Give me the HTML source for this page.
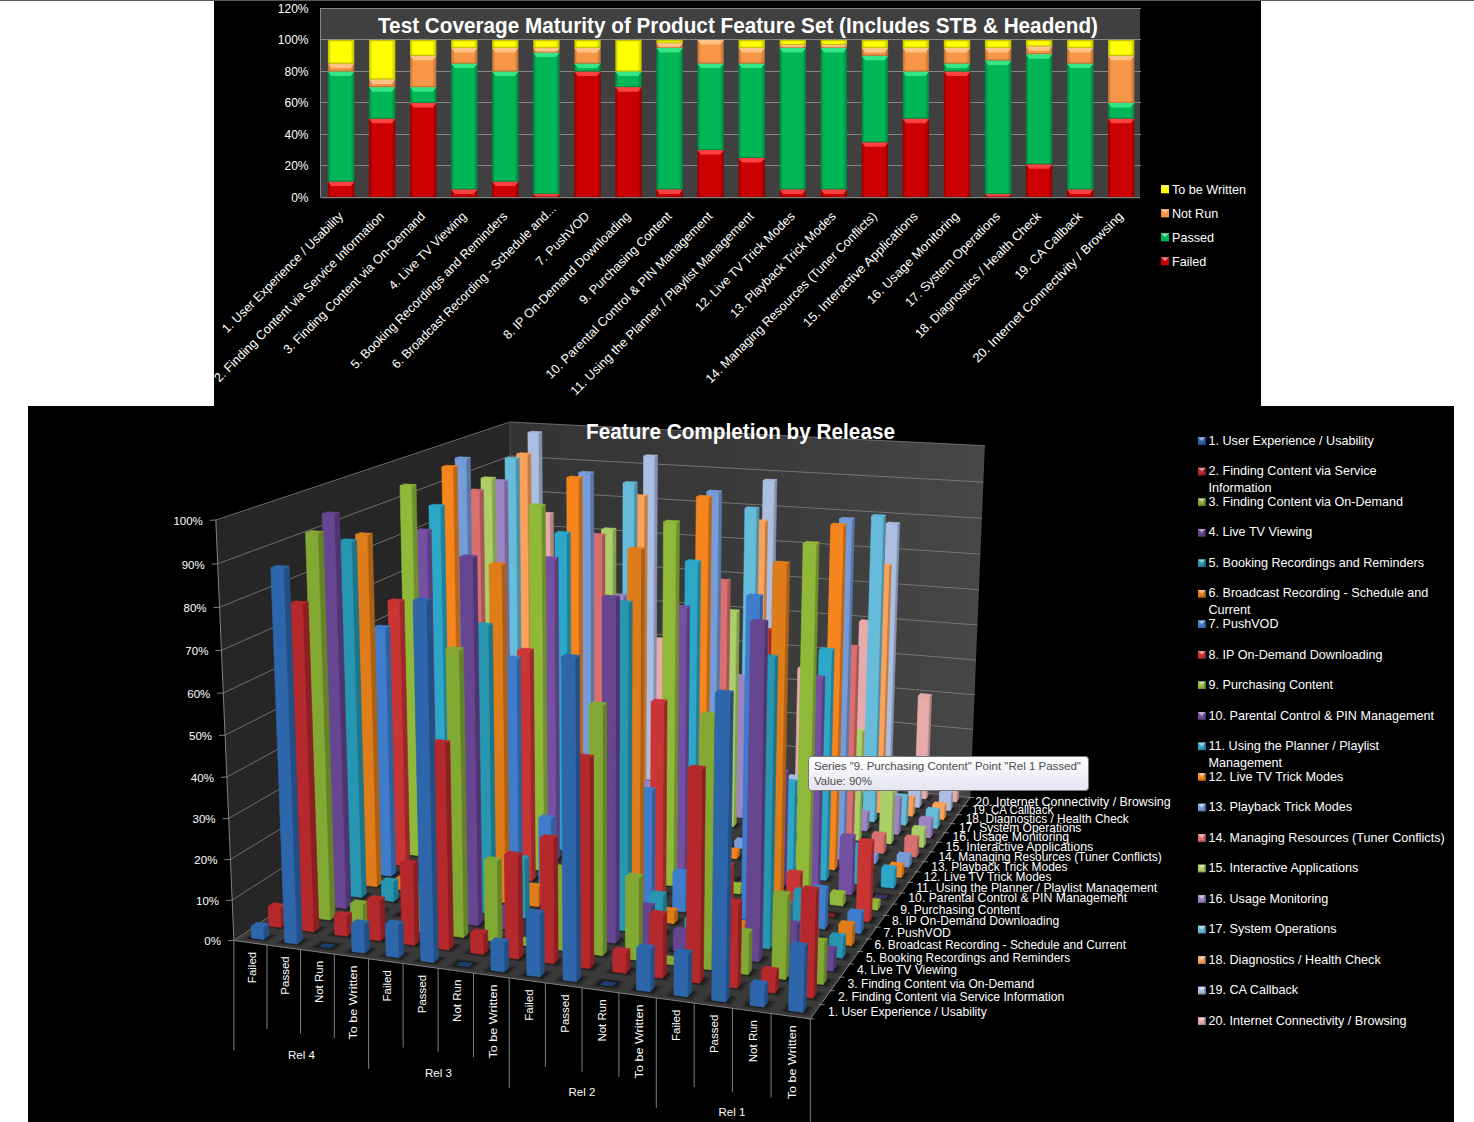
<!DOCTYPE html><html><head><meta charset="utf-8"><title>Charts</title>
<style>html,body{margin:0;padding:0;background:#fff;}body{width:1474px;height:1122px;overflow:hidden;}svg{display:block;}text{white-space:pre;}</style></head><body>
<svg width="1474" height="1122" viewBox="0 0 1474 1122">
<defs>
<linearGradient id="tg0" x1="0" x2="1" y1="0" y2="0"><stop offset="0" stop-color="#930000"/><stop offset="0.12" stop-color="#cc0000"/><stop offset="0.85" stop-color="#cc0000"/><stop offset="1" stop-color="#930000"/></linearGradient>
<linearGradient id="tg1" x1="0" x2="1" y1="0" y2="0"><stop offset="0" stop-color="#00833f"/><stop offset="0.12" stop-color="#00b657"/><stop offset="0.85" stop-color="#00b657"/><stop offset="1" stop-color="#00833f"/></linearGradient>
<linearGradient id="tg2" x1="0" x2="1" y1="0" y2="0"><stop offset="0" stop-color="#b26c32"/><stop offset="0.12" stop-color="#f79646"/><stop offset="0.85" stop-color="#f79646"/><stop offset="1" stop-color="#b26c32"/></linearGradient>
<linearGradient id="tg3" x1="0" x2="1" y1="0" y2="0"><stop offset="0" stop-color="#b8b800"/><stop offset="0.12" stop-color="#ffff00"/><stop offset="0.85" stop-color="#ffff00"/><stop offset="1" stop-color="#b8b800"/></linearGradient>
<linearGradient id="bwg" x1="0" x2="1" y1="0" y2="0"><stop offset="0" stop-color="#343434"/><stop offset="0.55" stop-color="#3b3b3b"/><stop offset="1" stop-color="#474747"/></linearGradient>
<linearGradient id="ttg" x1="0" x2="0" y1="0" y2="1"><stop offset="0" stop-color="#ffffff"/><stop offset="1" stop-color="#e4e5f0"/></linearGradient>
<filter id="blur" x="-5%" y="-5%" width="110%" height="110%"><feGaussianBlur stdDeviation="1.6"/></filter>
</defs>
<rect x="0" y="0" width="1474" height="1122" fill="#fff"/>
<rect x="214" y="0" width="1047" height="406" fill="#000"/>
<rect x="320.5" y="8.0" width="819.5" height="189.2" fill="#404040"/>
<line x1="320.5" x2="320.5" y1="8.0" y2="197.2" stroke="#868686" stroke-width="1"/>
<line x1="320.5" x2="1141.0" y1="165.5" y2="165.5" stroke="#868686" stroke-width="1"/>
<line x1="320.5" x2="1141.0" y1="134.5" y2="134.5" stroke="#868686" stroke-width="1"/>
<line x1="320.5" x2="1141.0" y1="102.5" y2="102.5" stroke="#868686" stroke-width="1"/>
<line x1="320.5" x2="1141.0" y1="71.5" y2="71.5" stroke="#868686" stroke-width="1"/>
<line x1="320.5" x2="1141.0" y1="39.5" y2="39.5" stroke="#868686" stroke-width="1"/>
<line x1="320.5" x2="1141.0" y1="8.5" y2="8.5" stroke="#868686" stroke-width="1"/>
<text x="738" y="33" font-family='"Liberation Sans", sans-serif' font-weight="bold" font-size="21.5" fill="#fff" text-anchor="middle" textLength="720" lengthAdjust="spacingAndGlyphs">Test Coverage Maturity of Product Feature Set (Includes STB &amp; Headend)</text>
<text x="308.5" y="201.5" font-family='"Liberation Sans", sans-serif' font-size="12" fill="#fff" text-anchor="end">0%</text>
<text x="308.5" y="170.1" font-family='"Liberation Sans", sans-serif' font-size="12" fill="#fff" text-anchor="end">20%</text>
<text x="308.5" y="138.6" font-family='"Liberation Sans", sans-serif' font-size="12" fill="#fff" text-anchor="end">40%</text>
<text x="308.5" y="107.1" font-family='"Liberation Sans", sans-serif' font-size="12" fill="#fff" text-anchor="end">60%</text>
<text x="308.5" y="75.7" font-family='"Liberation Sans", sans-serif' font-size="12" fill="#fff" text-anchor="end">80%</text>
<text x="308.5" y="44.2" font-family='"Liberation Sans", sans-serif' font-size="12" fill="#fff" text-anchor="end">100%</text>
<text x="308.5" y="12.8" font-family='"Liberation Sans", sans-serif' font-size="12" fill="#fff" text-anchor="end">120%</text>
<rect x="327.9" y="181.5" width="26.4" height="15.7" fill="url(#tg0)"/>
<polygon points="327.9,181.5 354.3,181.5 350.8,186.1 331.4,186.1" fill="#ff4646" opacity="0.92"/>
<rect x="327.9" y="196.2" width="26.4" height="1" fill="#8f0000" opacity="0.7"/>
<rect x="327.9" y="71.4" width="26.4" height="110.1" fill="url(#tg1)"/>
<polygon points="327.9,71.4 354.3,71.4 350.8,76 331.4,76" fill="#38ec8a" opacity="0.92"/>
<rect x="327.9" y="180.5" width="26.4" height="1" fill="#007f3d" opacity="0.7"/>
<rect x="327.9" y="63.5" width="26.4" height="7.9" fill="url(#tg2)"/>
<polygon points="327.9,63.5 354.3,63.5 350.8,68.1 331.4,68.1" fill="#ffc88c" opacity="0.92"/>
<rect x="327.9" y="70.4" width="26.4" height="1" fill="#ad6931" opacity="0.7"/>
<rect x="327.9" y="39.9" width="26.4" height="23.6" fill="url(#tg3)"/>
<polygon points="327.9,39.9 354.3,39.9 353,41.2 329.2,41.2" fill="#c4bc00" opacity="0.92"/>
<rect x="327.9" y="62.5" width="26.4" height="1" fill="#b2b200" opacity="0.7"/>
<rect x="369" y="118.6" width="26.4" height="78.6" fill="url(#tg0)"/>
<polygon points="369,118.6 395.4,118.6 391.9,123.2 372.5,123.2" fill="#ff4646" opacity="0.92"/>
<rect x="369" y="196.2" width="26.4" height="1" fill="#8f0000" opacity="0.7"/>
<rect x="369" y="87.1" width="26.4" height="31.5" fill="url(#tg1)"/>
<polygon points="369,87.1 395.4,87.1 391.9,91.7 372.5,91.7" fill="#38ec8a" opacity="0.92"/>
<rect x="369" y="117.6" width="26.4" height="1" fill="#007f3d" opacity="0.7"/>
<rect x="369" y="79.3" width="26.4" height="7.9" fill="url(#tg2)"/>
<polygon points="369,79.3 395.4,79.3 391.9,83.9 372.5,83.9" fill="#ffc88c" opacity="0.92"/>
<rect x="369" y="86.1" width="26.4" height="1" fill="#ad6931" opacity="0.7"/>
<rect x="369" y="39.9" width="26.4" height="39.3" fill="url(#tg3)"/>
<polygon points="369,39.9 395.4,39.9 394.1,41.2 370.3,41.2" fill="#c4bc00" opacity="0.92"/>
<rect x="369" y="78.3" width="26.4" height="1" fill="#b2b200" opacity="0.7"/>
<rect x="410" y="102.8" width="26.4" height="94.3" fill="url(#tg0)"/>
<polygon points="410,102.8 436.4,102.8 432.9,107.4 413.5,107.4" fill="#ff4646" opacity="0.92"/>
<rect x="410" y="196.2" width="26.4" height="1" fill="#8f0000" opacity="0.7"/>
<rect x="410" y="87.1" width="26.4" height="15.7" fill="url(#tg1)"/>
<polygon points="410,87.1 436.4,87.1 432.9,91.7 413.5,91.7" fill="#38ec8a" opacity="0.92"/>
<rect x="410" y="101.8" width="26.4" height="1" fill="#007f3d" opacity="0.7"/>
<rect x="410" y="55.7" width="26.4" height="31.5" fill="url(#tg2)"/>
<polygon points="410,55.7 436.4,55.7 432.9,60.3 413.5,60.3" fill="#ffc88c" opacity="0.92"/>
<rect x="410" y="86.1" width="26.4" height="1" fill="#ad6931" opacity="0.7"/>
<rect x="410" y="39.9" width="26.4" height="15.7" fill="url(#tg3)"/>
<polygon points="410,39.9 436.4,39.9 435.1,41.2 411.3,41.2" fill="#c4bc00" opacity="0.92"/>
<rect x="410" y="54.7" width="26.4" height="1" fill="#b2b200" opacity="0.7"/>
<rect x="451.1" y="189.3" width="26.4" height="7.9" fill="url(#tg0)"/>
<polygon points="451.1,189.3 477.5,189.3 474,193.9 454.6,193.9" fill="#ff4646" opacity="0.92"/>
<rect x="451.1" y="196.2" width="26.4" height="1" fill="#8f0000" opacity="0.7"/>
<rect x="451.1" y="63.5" width="26.4" height="125.8" fill="url(#tg1)"/>
<polygon points="451.1,63.5 477.5,63.5 474,68.1 454.6,68.1" fill="#38ec8a" opacity="0.92"/>
<rect x="451.1" y="188.3" width="26.4" height="1" fill="#007f3d" opacity="0.7"/>
<rect x="451.1" y="47.8" width="26.4" height="15.7" fill="url(#tg2)"/>
<polygon points="451.1,47.8 477.5,47.8 474,52.4 454.6,52.4" fill="#ffc88c" opacity="0.92"/>
<rect x="451.1" y="62.5" width="26.4" height="1" fill="#ad6931" opacity="0.7"/>
<rect x="451.1" y="39.9" width="26.4" height="7.9" fill="url(#tg3)"/>
<polygon points="451.1,39.9 477.5,39.9 476.2,41.2 452.4,41.2" fill="#c4bc00" opacity="0.92"/>
<rect x="451.1" y="46.8" width="26.4" height="1" fill="#b2b200" opacity="0.7"/>
<rect x="492.1" y="181.5" width="26.4" height="15.7" fill="url(#tg0)"/>
<polygon points="492.1,181.5 518.5,181.5 515,186.1 495.6,186.1" fill="#ff4646" opacity="0.92"/>
<rect x="492.1" y="196.2" width="26.4" height="1" fill="#8f0000" opacity="0.7"/>
<rect x="492.1" y="71.4" width="26.4" height="110.1" fill="url(#tg1)"/>
<polygon points="492.1,71.4 518.5,71.4 515,76 495.6,76" fill="#38ec8a" opacity="0.92"/>
<rect x="492.1" y="180.5" width="26.4" height="1" fill="#007f3d" opacity="0.7"/>
<rect x="492.1" y="47.8" width="26.4" height="23.6" fill="url(#tg2)"/>
<polygon points="492.1,47.8 518.5,47.8 515,52.4 495.6,52.4" fill="#ffc88c" opacity="0.92"/>
<rect x="492.1" y="70.4" width="26.4" height="1" fill="#ad6931" opacity="0.7"/>
<rect x="492.1" y="39.9" width="26.4" height="7.9" fill="url(#tg3)"/>
<polygon points="492.1,39.9 518.5,39.9 517.2,41.2 493.4,41.2" fill="#c4bc00" opacity="0.92"/>
<rect x="492.1" y="46.8" width="26.4" height="1" fill="#b2b200" opacity="0.7"/>
<rect x="533.2" y="194.1" width="26.4" height="3.1" fill="url(#tg0)"/>
<polygon points="533.2,194.1 559.6,194.1 556.5,197.2 536.3,197.2" fill="#ff4646" opacity="0.92"/>
<rect x="533.2" y="196.2" width="26.4" height="1" fill="#8f0000" opacity="0.7"/>
<rect x="533.2" y="52.5" width="26.4" height="141.5" fill="url(#tg1)"/>
<polygon points="533.2,52.5 559.6,52.5 556.1,57.1 536.7,57.1" fill="#38ec8a" opacity="0.92"/>
<rect x="533.2" y="193.1" width="26.4" height="1" fill="#007f3d" opacity="0.7"/>
<rect x="533.2" y="47.8" width="26.4" height="4.7" fill="url(#tg2)"/>
<polygon points="533.2,47.8 559.6,47.8 556.1,52.4 536.7,52.4" fill="#ffc88c" opacity="0.92"/>
<rect x="533.2" y="51.5" width="26.4" height="1" fill="#ad6931" opacity="0.7"/>
<rect x="533.2" y="39.9" width="26.4" height="7.9" fill="url(#tg3)"/>
<polygon points="533.2,39.9 559.6,39.9 558.3,41.2 534.5,41.2" fill="#c4bc00" opacity="0.92"/>
<rect x="533.2" y="46.8" width="26.4" height="1" fill="#b2b200" opacity="0.7"/>
<rect x="574.3" y="71.4" width="26.4" height="125.8" fill="url(#tg0)"/>
<polygon points="574.3,71.4 600.7,71.4 597.2,76 577.8,76" fill="#ff4646" opacity="0.92"/>
<rect x="574.3" y="196.2" width="26.4" height="1" fill="#8f0000" opacity="0.7"/>
<rect x="574.3" y="63.5" width="26.4" height="7.9" fill="url(#tg1)"/>
<polygon points="574.3,63.5 600.7,63.5 597.2,68.1 577.8,68.1" fill="#38ec8a" opacity="0.92"/>
<rect x="574.3" y="70.4" width="26.4" height="1" fill="#007f3d" opacity="0.7"/>
<rect x="574.3" y="47.8" width="26.4" height="15.7" fill="url(#tg2)"/>
<polygon points="574.3,47.8 600.7,47.8 597.2,52.4 577.8,52.4" fill="#ffc88c" opacity="0.92"/>
<rect x="574.3" y="62.5" width="26.4" height="1" fill="#ad6931" opacity="0.7"/>
<rect x="574.3" y="39.9" width="26.4" height="7.9" fill="url(#tg3)"/>
<polygon points="574.3,39.9 600.7,39.9 599.4,41.2 575.6,41.2" fill="#c4bc00" opacity="0.92"/>
<rect x="574.3" y="46.8" width="26.4" height="1" fill="#b2b200" opacity="0.7"/>
<rect x="615.3" y="87.1" width="26.4" height="110.1" fill="url(#tg0)"/>
<polygon points="615.3,87.1 641.7,87.1 638.2,91.7 618.8,91.7" fill="#ff4646" opacity="0.92"/>
<rect x="615.3" y="196.2" width="26.4" height="1" fill="#8f0000" opacity="0.7"/>
<rect x="615.3" y="71.4" width="26.4" height="15.7" fill="url(#tg1)"/>
<polygon points="615.3,71.4 641.7,71.4 638.2,76 618.8,76" fill="#38ec8a" opacity="0.92"/>
<rect x="615.3" y="86.1" width="26.4" height="1" fill="#007f3d" opacity="0.7"/>
<rect x="615.3" y="39.9" width="26.4" height="31.5" fill="url(#tg3)"/>
<polygon points="615.3,39.9 641.7,39.9 640.4,41.2 616.6,41.2" fill="#c4bc00" opacity="0.92"/>
<rect x="615.3" y="70.4" width="26.4" height="1" fill="#b2b200" opacity="0.7"/>
<rect x="656.4" y="189.3" width="26.4" height="7.9" fill="url(#tg0)"/>
<polygon points="656.4,189.3 682.8,189.3 679.3,193.9 659.9,193.9" fill="#ff4646" opacity="0.92"/>
<rect x="656.4" y="196.2" width="26.4" height="1" fill="#8f0000" opacity="0.7"/>
<rect x="656.4" y="47.8" width="26.4" height="141.5" fill="url(#tg1)"/>
<polygon points="656.4,47.8 682.8,47.8 679.3,52.4 659.9,52.4" fill="#38ec8a" opacity="0.92"/>
<rect x="656.4" y="188.3" width="26.4" height="1" fill="#007f3d" opacity="0.7"/>
<rect x="656.4" y="43.1" width="26.4" height="4.7" fill="url(#tg2)"/>
<polygon points="656.4,43.1 682.8,43.1 679.3,47.7 659.9,47.7" fill="#ffc88c" opacity="0.92"/>
<rect x="656.4" y="46.8" width="26.4" height="1" fill="#ad6931" opacity="0.7"/>
<rect x="656.4" y="39.9" width="26.4" height="3.1" fill="url(#tg3)"/>
<polygon points="656.4,39.9 682.8,39.9 681.5,41.2 657.7,41.2" fill="#c4bc00" opacity="0.92"/>
<rect x="656.4" y="42.1" width="26.4" height="1" fill="#b2b200" opacity="0.7"/>
<rect x="697.4" y="150" width="26.4" height="47.2" fill="url(#tg0)"/>
<polygon points="697.4,150 723.8,150 720.3,154.6 700.9,154.6" fill="#ff4646" opacity="0.92"/>
<rect x="697.4" y="196.2" width="26.4" height="1" fill="#8f0000" opacity="0.7"/>
<rect x="697.4" y="63.5" width="26.4" height="86.5" fill="url(#tg1)"/>
<polygon points="697.4,63.5 723.8,63.5 720.3,68.1 700.9,68.1" fill="#38ec8a" opacity="0.92"/>
<rect x="697.4" y="149" width="26.4" height="1" fill="#007f3d" opacity="0.7"/>
<rect x="697.4" y="39.9" width="26.4" height="23.6" fill="url(#tg2)"/>
<polygon points="697.4,39.9 723.8,39.9 720.3,44.5 700.9,44.5" fill="#ffc88c" opacity="0.92"/>
<rect x="697.4" y="62.5" width="26.4" height="1" fill="#ad6931" opacity="0.7"/>
<rect x="738.5" y="157.9" width="26.4" height="39.3" fill="url(#tg0)"/>
<polygon points="738.5,157.9 764.9,157.9 761.4,162.5 742,162.5" fill="#ff4646" opacity="0.92"/>
<rect x="738.5" y="196.2" width="26.4" height="1" fill="#8f0000" opacity="0.7"/>
<rect x="738.5" y="63.5" width="26.4" height="94.3" fill="url(#tg1)"/>
<polygon points="738.5,63.5 764.9,63.5 761.4,68.1 742,68.1" fill="#38ec8a" opacity="0.92"/>
<rect x="738.5" y="156.9" width="26.4" height="1" fill="#007f3d" opacity="0.7"/>
<rect x="738.5" y="47.8" width="26.4" height="15.7" fill="url(#tg2)"/>
<polygon points="738.5,47.8 764.9,47.8 761.4,52.4 742,52.4" fill="#ffc88c" opacity="0.92"/>
<rect x="738.5" y="62.5" width="26.4" height="1" fill="#ad6931" opacity="0.7"/>
<rect x="738.5" y="39.9" width="26.4" height="7.9" fill="url(#tg3)"/>
<polygon points="738.5,39.9 764.9,39.9 763.6,41.2 739.8,41.2" fill="#c4bc00" opacity="0.92"/>
<rect x="738.5" y="46.8" width="26.4" height="1" fill="#b2b200" opacity="0.7"/>
<rect x="779.6" y="189.3" width="26.4" height="7.9" fill="url(#tg0)"/>
<polygon points="779.6,189.3 806,189.3 802.5,193.9 783.1,193.9" fill="#ff4646" opacity="0.92"/>
<rect x="779.6" y="196.2" width="26.4" height="1" fill="#8f0000" opacity="0.7"/>
<rect x="779.6" y="47.8" width="26.4" height="141.5" fill="url(#tg1)"/>
<polygon points="779.6,47.8 806,47.8 802.5,52.4 783.1,52.4" fill="#38ec8a" opacity="0.92"/>
<rect x="779.6" y="188.3" width="26.4" height="1" fill="#007f3d" opacity="0.7"/>
<rect x="779.6" y="44.7" width="26.4" height="3.1" fill="url(#tg2)"/>
<polygon points="779.6,44.7 806,44.7 802.8,47.8 782.7,47.8" fill="#ffc88c" opacity="0.92"/>
<rect x="779.6" y="46.8" width="26.4" height="1" fill="#ad6931" opacity="0.7"/>
<rect x="779.6" y="39.9" width="26.4" height="4.7" fill="url(#tg3)"/>
<polygon points="779.6,39.9 806,39.9 804.7,41.2 780.9,41.2" fill="#c4bc00" opacity="0.92"/>
<rect x="779.6" y="43.7" width="26.4" height="1" fill="#b2b200" opacity="0.7"/>
<rect x="820.6" y="189.3" width="26.4" height="7.9" fill="url(#tg0)"/>
<polygon points="820.6,189.3 847,189.3 843.5,193.9 824.1,193.9" fill="#ff4646" opacity="0.92"/>
<rect x="820.6" y="196.2" width="26.4" height="1" fill="#8f0000" opacity="0.7"/>
<rect x="820.6" y="47.8" width="26.4" height="141.5" fill="url(#tg1)"/>
<polygon points="820.6,47.8 847,47.8 843.5,52.4 824.1,52.4" fill="#38ec8a" opacity="0.92"/>
<rect x="820.6" y="188.3" width="26.4" height="1" fill="#007f3d" opacity="0.7"/>
<rect x="820.6" y="44.7" width="26.4" height="3.1" fill="url(#tg2)"/>
<polygon points="820.6,44.7 847,44.7 843.9,47.8 823.8,47.8" fill="#ffc88c" opacity="0.92"/>
<rect x="820.6" y="46.8" width="26.4" height="1" fill="#ad6931" opacity="0.7"/>
<rect x="820.6" y="39.9" width="26.4" height="4.7" fill="url(#tg3)"/>
<polygon points="820.6,39.9 847,39.9 845.7,41.2 821.9,41.2" fill="#c4bc00" opacity="0.92"/>
<rect x="820.6" y="43.7" width="26.4" height="1" fill="#b2b200" opacity="0.7"/>
<rect x="861.7" y="142.2" width="26.4" height="55" fill="url(#tg0)"/>
<polygon points="861.7,142.2 888.1,142.2 884.6,146.8 865.2,146.8" fill="#ff4646" opacity="0.92"/>
<rect x="861.7" y="196.2" width="26.4" height="1" fill="#8f0000" opacity="0.7"/>
<rect x="861.7" y="55.7" width="26.4" height="86.5" fill="url(#tg1)"/>
<polygon points="861.7,55.7 888.1,55.7 884.6,60.3 865.2,60.3" fill="#38ec8a" opacity="0.92"/>
<rect x="861.7" y="141.2" width="26.4" height="1" fill="#007f3d" opacity="0.7"/>
<rect x="861.7" y="47.8" width="26.4" height="7.9" fill="url(#tg2)"/>
<polygon points="861.7,47.8 888.1,47.8 884.6,52.4 865.2,52.4" fill="#ffc88c" opacity="0.92"/>
<rect x="861.7" y="54.7" width="26.4" height="1" fill="#ad6931" opacity="0.7"/>
<rect x="861.7" y="39.9" width="26.4" height="7.9" fill="url(#tg3)"/>
<polygon points="861.7,39.9 888.1,39.9 886.8,41.2 863,41.2" fill="#c4bc00" opacity="0.92"/>
<rect x="861.7" y="46.8" width="26.4" height="1" fill="#b2b200" opacity="0.7"/>
<rect x="902.7" y="118.6" width="26.4" height="78.6" fill="url(#tg0)"/>
<polygon points="902.7,118.6 929.1,118.6 925.6,123.2 906.2,123.2" fill="#ff4646" opacity="0.92"/>
<rect x="902.7" y="196.2" width="26.4" height="1" fill="#8f0000" opacity="0.7"/>
<rect x="902.7" y="71.4" width="26.4" height="47.2" fill="url(#tg1)"/>
<polygon points="902.7,71.4 929.1,71.4 925.6,76 906.2,76" fill="#38ec8a" opacity="0.92"/>
<rect x="902.7" y="117.6" width="26.4" height="1" fill="#007f3d" opacity="0.7"/>
<rect x="902.7" y="47.8" width="26.4" height="23.6" fill="url(#tg2)"/>
<polygon points="902.7,47.8 929.1,47.8 925.6,52.4 906.2,52.4" fill="#ffc88c" opacity="0.92"/>
<rect x="902.7" y="70.4" width="26.4" height="1" fill="#ad6931" opacity="0.7"/>
<rect x="902.7" y="39.9" width="26.4" height="7.9" fill="url(#tg3)"/>
<polygon points="902.7,39.9 929.1,39.9 927.8,41.2 904,41.2" fill="#c4bc00" opacity="0.92"/>
<rect x="902.7" y="46.8" width="26.4" height="1" fill="#b2b200" opacity="0.7"/>
<rect x="943.8" y="71.4" width="26.4" height="125.8" fill="url(#tg0)"/>
<polygon points="943.8,71.4 970.2,71.4 966.7,76 947.3,76" fill="#ff4646" opacity="0.92"/>
<rect x="943.8" y="196.2" width="26.4" height="1" fill="#8f0000" opacity="0.7"/>
<rect x="943.8" y="63.5" width="26.4" height="7.9" fill="url(#tg1)"/>
<polygon points="943.8,63.5 970.2,63.5 966.7,68.1 947.3,68.1" fill="#38ec8a" opacity="0.92"/>
<rect x="943.8" y="70.4" width="26.4" height="1" fill="#007f3d" opacity="0.7"/>
<rect x="943.8" y="47.8" width="26.4" height="15.7" fill="url(#tg2)"/>
<polygon points="943.8,47.8 970.2,47.8 966.7,52.4 947.3,52.4" fill="#ffc88c" opacity="0.92"/>
<rect x="943.8" y="62.5" width="26.4" height="1" fill="#ad6931" opacity="0.7"/>
<rect x="943.8" y="39.9" width="26.4" height="7.9" fill="url(#tg3)"/>
<polygon points="943.8,39.9 970.2,39.9 968.9,41.2 945.1,41.2" fill="#c4bc00" opacity="0.92"/>
<rect x="943.8" y="46.8" width="26.4" height="1" fill="#b2b200" opacity="0.7"/>
<rect x="984.9" y="194.1" width="26.4" height="3.1" fill="url(#tg0)"/>
<polygon points="984.9,194.1 1011.3,194.1 1008.1,197.2 988,197.2" fill="#ff4646" opacity="0.92"/>
<rect x="984.9" y="196.2" width="26.4" height="1" fill="#8f0000" opacity="0.7"/>
<rect x="984.9" y="60.4" width="26.4" height="133.7" fill="url(#tg1)"/>
<polygon points="984.9,60.4 1011.3,60.4 1007.8,65 988.4,65" fill="#38ec8a" opacity="0.92"/>
<rect x="984.9" y="193.1" width="26.4" height="1" fill="#007f3d" opacity="0.7"/>
<rect x="984.9" y="47.8" width="26.4" height="12.6" fill="url(#tg2)"/>
<polygon points="984.9,47.8 1011.3,47.8 1007.8,52.4 988.4,52.4" fill="#ffc88c" opacity="0.92"/>
<rect x="984.9" y="59.4" width="26.4" height="1" fill="#ad6931" opacity="0.7"/>
<rect x="984.9" y="39.9" width="26.4" height="7.9" fill="url(#tg3)"/>
<polygon points="984.9,39.9 1011.3,39.9 1010,41.2 986.2,41.2" fill="#c4bc00" opacity="0.92"/>
<rect x="984.9" y="46.8" width="26.4" height="1" fill="#b2b200" opacity="0.7"/>
<rect x="1025.9" y="164.2" width="26.4" height="33" fill="url(#tg0)"/>
<polygon points="1025.9,164.2 1052.3,164.2 1048.8,168.8 1029.4,168.8" fill="#ff4646" opacity="0.92"/>
<rect x="1025.9" y="196.2" width="26.4" height="1" fill="#8f0000" opacity="0.7"/>
<rect x="1025.9" y="54.1" width="26.4" height="110.1" fill="url(#tg1)"/>
<polygon points="1025.9,54.1 1052.3,54.1 1048.8,58.7 1029.4,58.7" fill="#38ec8a" opacity="0.92"/>
<rect x="1025.9" y="163.2" width="26.4" height="1" fill="#007f3d" opacity="0.7"/>
<rect x="1025.9" y="46.2" width="26.4" height="7.9" fill="url(#tg2)"/>
<polygon points="1025.9,46.2 1052.3,46.2 1048.8,50.8 1029.4,50.8" fill="#ffc88c" opacity="0.92"/>
<rect x="1025.9" y="53.1" width="26.4" height="1" fill="#ad6931" opacity="0.7"/>
<rect x="1025.9" y="39.9" width="26.4" height="6.3" fill="url(#tg3)"/>
<polygon points="1025.9,39.9 1052.3,39.9 1051,41.2 1027.2,41.2" fill="#c4bc00" opacity="0.92"/>
<rect x="1025.9" y="45.2" width="26.4" height="1" fill="#b2b200" opacity="0.7"/>
<rect x="1067" y="189.3" width="26.4" height="7.9" fill="url(#tg0)"/>
<polygon points="1067,189.3 1093.4,189.3 1089.9,193.9 1070.5,193.9" fill="#ff4646" opacity="0.92"/>
<rect x="1067" y="196.2" width="26.4" height="1" fill="#8f0000" opacity="0.7"/>
<rect x="1067" y="63.5" width="26.4" height="125.8" fill="url(#tg1)"/>
<polygon points="1067,63.5 1093.4,63.5 1089.9,68.1 1070.5,68.1" fill="#38ec8a" opacity="0.92"/>
<rect x="1067" y="188.3" width="26.4" height="1" fill="#007f3d" opacity="0.7"/>
<rect x="1067" y="47.8" width="26.4" height="15.7" fill="url(#tg2)"/>
<polygon points="1067,47.8 1093.4,47.8 1089.9,52.4 1070.5,52.4" fill="#ffc88c" opacity="0.92"/>
<rect x="1067" y="62.5" width="26.4" height="1" fill="#ad6931" opacity="0.7"/>
<rect x="1067" y="39.9" width="26.4" height="7.9" fill="url(#tg3)"/>
<polygon points="1067,39.9 1093.4,39.9 1092.1,41.2 1068.3,41.2" fill="#c4bc00" opacity="0.92"/>
<rect x="1067" y="46.8" width="26.4" height="1" fill="#b2b200" opacity="0.7"/>
<rect x="1108" y="118.6" width="26.4" height="78.6" fill="url(#tg0)"/>
<polygon points="1108,118.6 1134.4,118.6 1130.9,123.2 1111.5,123.2" fill="#ff4646" opacity="0.92"/>
<rect x="1108" y="196.2" width="26.4" height="1" fill="#8f0000" opacity="0.7"/>
<rect x="1108" y="102.8" width="26.4" height="15.7" fill="url(#tg1)"/>
<polygon points="1108,102.8 1134.4,102.8 1130.9,107.4 1111.5,107.4" fill="#38ec8a" opacity="0.92"/>
<rect x="1108" y="117.6" width="26.4" height="1" fill="#007f3d" opacity="0.7"/>
<rect x="1108" y="55.7" width="26.4" height="47.2" fill="url(#tg2)"/>
<polygon points="1108,55.7 1134.4,55.7 1130.9,60.3 1111.5,60.3" fill="#ffc88c" opacity="0.92"/>
<rect x="1108" y="101.8" width="26.4" height="1" fill="#ad6931" opacity="0.7"/>
<rect x="1108" y="39.9" width="26.4" height="15.7" fill="url(#tg3)"/>
<polygon points="1108,39.9 1134.4,39.9 1133.1,41.2 1109.3,41.2" fill="#c4bc00" opacity="0.92"/>
<rect x="1108" y="54.7" width="26.4" height="1" fill="#b2b200" opacity="0.7"/>
<line x1="320.5" x2="1140.0" y1="197.7" y2="197.7" stroke="#9a9a9a" stroke-width="1"/>
<text transform="translate(343.9,217) rotate(-45)" font-family='"Liberation Sans", sans-serif' font-size="12.6" fill="#fff" text-anchor="end">1. User Experience / Usability</text>
<text transform="translate(385,217) rotate(-45)" font-family='"Liberation Sans", sans-serif' font-size="12.6" fill="#fff" text-anchor="end">2. Finding Content via Service Information</text>
<text transform="translate(426,217) rotate(-45)" font-family='"Liberation Sans", sans-serif' font-size="12.6" fill="#fff" text-anchor="end">3. Finding Content via On-Demand</text>
<text transform="translate(467.1,217) rotate(-45)" font-family='"Liberation Sans", sans-serif' font-size="12.6" fill="#fff" text-anchor="end">4. Live TV Viewing</text>
<text transform="translate(508.1,217) rotate(-45)" font-family='"Liberation Sans", sans-serif' font-size="12.6" fill="#fff" text-anchor="end">5. Booking Recordings and Reminders</text>
<text transform="translate(556.7,209.5) rotate(-45)" font-family='"Liberation Sans", sans-serif' font-size="12.6" fill="#fff" text-anchor="end" textLength="225.9" lengthAdjust="spacingAndGlyphs">6. Broadcast Recording - Schedule and...</text>
<text transform="translate(590.3,217) rotate(-45)" font-family='"Liberation Sans", sans-serif' font-size="12.6" fill="#fff" text-anchor="end">7. PushVOD</text>
<text transform="translate(631.3,217) rotate(-45)" font-family='"Liberation Sans", sans-serif' font-size="12.6" fill="#fff" text-anchor="end">8. IP On-Demand Downloading</text>
<text transform="translate(672.4,217) rotate(-45)" font-family='"Liberation Sans", sans-serif' font-size="12.6" fill="#fff" text-anchor="end">9. Purchasing Content</text>
<text transform="translate(713.4,217) rotate(-45)" font-family='"Liberation Sans", sans-serif' font-size="12.6" fill="#fff" text-anchor="end" textLength="229.9" lengthAdjust="spacingAndGlyphs">10. Parental Control &amp; PIN Management</text>
<text transform="translate(754.5,217) rotate(-45)" font-family='"Liberation Sans", sans-serif' font-size="12.6" fill="#fff" text-anchor="end" textLength="253.0" lengthAdjust="spacingAndGlyphs">11. Using the Planner / Playlist Management</text>
<text transform="translate(795.6,217) rotate(-45)" font-family='"Liberation Sans", sans-serif' font-size="12.6" fill="#fff" text-anchor="end">12. Live TV Trick Modes</text>
<text transform="translate(836.6,217) rotate(-45)" font-family='"Liberation Sans", sans-serif' font-size="12.6" fill="#fff" text-anchor="end">13. Playback Trick Modes</text>
<text transform="translate(877.7,217) rotate(-45)" font-family='"Liberation Sans", sans-serif' font-size="12.6" fill="#fff" text-anchor="end">14. Managing Resources (Tuner Conflicts)</text>
<text transform="translate(918.7,217) rotate(-45)" font-family='"Liberation Sans", sans-serif' font-size="12.6" fill="#fff" text-anchor="end" textLength="156.5" lengthAdjust="spacingAndGlyphs">15. Interactive Applications</text>
<text transform="translate(959.8,217) rotate(-45)" font-family='"Liberation Sans", sans-serif' font-size="12.6" fill="#fff" text-anchor="end" textLength="124.2" lengthAdjust="spacingAndGlyphs">16. Usage Monitoring</text>
<text transform="translate(1000.9,217) rotate(-45)" font-family='"Liberation Sans", sans-serif' font-size="12.6" fill="#fff" text-anchor="end">17. System Operations</text>
<text transform="translate(1041.9,217) rotate(-45)" font-family='"Liberation Sans", sans-serif' font-size="12.6" fill="#fff" text-anchor="end">18. Diagnostics / Health Check</text>
<text transform="translate(1083,217) rotate(-45)" font-family='"Liberation Sans", sans-serif' font-size="12.6" fill="#fff" text-anchor="end">19. CA Callback</text>
<text transform="translate(1124,217) rotate(-45)" font-family='"Liberation Sans", sans-serif' font-size="12.6" fill="#fff" text-anchor="end" textLength="207.0" lengthAdjust="spacingAndGlyphs">20. Internet Connectivity / Browsing</text>
<rect x="1161" y="185.3" width="8" height="8" fill="#ffff00"/>
<polygon points="1161,185.3 1169,185.3 1165,189.3" fill="#ffff80"/>
<text x="1172" y="193.8" font-family='"Liberation Sans", sans-serif' font-size="12.6" fill="#fff">To be Written</text>
<rect x="1161" y="209.3" width="8" height="8" fill="#f79646"/>
<polygon points="1161,209.3 1169,209.3 1165,213.3" fill="#fbcaa2"/>
<text x="1172" y="217.8" font-family='"Liberation Sans", sans-serif' font-size="12.6" fill="#fff">Not Run</text>
<rect x="1161" y="233.3" width="8" height="8" fill="#00b657"/>
<polygon points="1161,233.3 1169,233.3 1165,237.3" fill="#80daab"/>
<text x="1172" y="241.8" font-family='"Liberation Sans", sans-serif' font-size="12.6" fill="#fff">Passed</text>
<rect x="1161" y="257.3" width="8" height="8" fill="#cc0000"/>
<polygon points="1161,257.3 1169,257.3 1165,261.3" fill="#e68080"/>
<text x="1172" y="265.8" font-family='"Liberation Sans", sans-serif' font-size="12.6" fill="#fff">Failed</text>
<rect x="28" y="406" width="1426" height="716" fill="#000"/>
<polygon points="233.9,940.5 513,751.4 509.8,422 215.8,520" fill="#262626"/>
<polygon points="513,751.4 970.3,797.5 984.9,445.7 509.8,422" fill="url(#bwg)"/>
<polygon points="233.9,940.5 810.3,1018.9 970.3,797.5 513,751.4" fill="#3b3b3b"/>
<polyline points="233.9,940.5 513,751.4 970.3,797.5" fill="none" stroke="#858585" stroke-width="0.75"/>
<polyline points="232.1,900.2 512.7,719.5 971.8,763.6" fill="none" stroke="#858585" stroke-width="0.75"/>
<polyline points="230.4,859.5 512.4,687.4 973.2,729.3" fill="none" stroke="#858585" stroke-width="0.75"/>
<polyline points="228.6,818.5 512.1,655.1 974.6,694.8" fill="none" stroke="#858585" stroke-width="0.75"/>
<polyline points="226.9,777 511.8,622.5 976,660" fill="none" stroke="#858585" stroke-width="0.75"/>
<polyline points="225.1,735.2 511.4,589.7 977.5,625" fill="none" stroke="#858585" stroke-width="0.75"/>
<polyline points="223.3,693 511.1,556.6 978.9,589.7" fill="none" stroke="#858585" stroke-width="0.75"/>
<polyline points="221.4,650.3 510.8,523.3 980.4,554.1" fill="none" stroke="#858585" stroke-width="0.75"/>
<polyline points="219.6,607.3 510.4,489.8 981.9,518.3" fill="none" stroke="#858585" stroke-width="0.75"/>
<polyline points="217.7,563.8 510.1,456 983.4,482.1" fill="none" stroke="#858585" stroke-width="0.75"/>
<polyline points="215.8,520 509.8,422 984.9,445.7" fill="none" stroke="#858585" stroke-width="0.75"/>
<polyline points="233.9,940.5 215.8,520" fill="none" stroke="#8c8c8c" stroke-width="0.9"/>
<polyline points="513,751.4 509.8,422" fill="none" stroke="#555" stroke-width="0.9"/>
<line x1="227.9" x2="233.9" y1="940.8" y2="940.5" stroke="#8c8c8c" stroke-width="0.9"/>
<text x="220.9" y="945.2" font-family='"Liberation Sans", sans-serif' font-size="11.5" fill="#fff" text-anchor="end">0%</text>
<line x1="226.1" x2="232.1" y1="900.5" y2="900.2" stroke="#8c8c8c" stroke-width="0.9"/>
<text x="219.1" y="904.9" font-family='"Liberation Sans", sans-serif' font-size="11.5" fill="#fff" text-anchor="end">10%</text>
<line x1="224.4" x2="230.4" y1="859.8" y2="859.5" stroke="#8c8c8c" stroke-width="0.9"/>
<text x="217.4" y="864.2" font-family='"Liberation Sans", sans-serif' font-size="11.5" fill="#fff" text-anchor="end">20%</text>
<line x1="222.6" x2="228.6" y1="818.8" y2="818.5" stroke="#8c8c8c" stroke-width="0.9"/>
<text x="215.6" y="823.2" font-family='"Liberation Sans", sans-serif' font-size="11.5" fill="#fff" text-anchor="end">30%</text>
<line x1="220.9" x2="226.9" y1="777.3" y2="777" stroke="#8c8c8c" stroke-width="0.9"/>
<text x="213.9" y="781.7" font-family='"Liberation Sans", sans-serif' font-size="11.5" fill="#fff" text-anchor="end">40%</text>
<line x1="219.1" x2="225.1" y1="735.5" y2="735.2" stroke="#8c8c8c" stroke-width="0.9"/>
<text x="212.1" y="739.9" font-family='"Liberation Sans", sans-serif' font-size="11.5" fill="#fff" text-anchor="end">50%</text>
<line x1="217.3" x2="223.3" y1="693.3" y2="693" stroke="#8c8c8c" stroke-width="0.9"/>
<text x="210.3" y="697.7" font-family='"Liberation Sans", sans-serif' font-size="11.5" fill="#fff" text-anchor="end">60%</text>
<line x1="215.4" x2="221.4" y1="650.6" y2="650.3" stroke="#8c8c8c" stroke-width="0.9"/>
<text x="208.4" y="655" font-family='"Liberation Sans", sans-serif' font-size="11.5" fill="#fff" text-anchor="end">70%</text>
<line x1="213.6" x2="219.6" y1="607.6" y2="607.3" stroke="#8c8c8c" stroke-width="0.9"/>
<text x="206.6" y="612" font-family='"Liberation Sans", sans-serif' font-size="11.5" fill="#fff" text-anchor="end">80%</text>
<line x1="211.7" x2="217.7" y1="564.1" y2="563.8" stroke="#8c8c8c" stroke-width="0.9"/>
<text x="204.7" y="568.5" font-family='"Liberation Sans", sans-serif' font-size="11.5" fill="#fff" text-anchor="end">90%</text>
<line x1="209.8" x2="215.8" y1="520.3" y2="520" stroke="#8c8c8c" stroke-width="0.9"/>
<text x="202.8" y="524.7" font-family='"Liberation Sans", sans-serif' font-size="11.5" fill="#fff" text-anchor="end">100%</text>
<clipPath id="flc"><polygon points="233.9,940.5 810.3,1018.9 970.3,797.5 513,751.4"/></clipPath>
<g clip-path="url(#flc)" fill="#000">
<g opacity="0.2">
<path d="M242.8 939 L266.9 942.3 L277.9 934.7 L253.9 931.4ZM275.9 943.5 L300.3 946.8 L311 939.1 L286.8 935.9ZM309.4 948.1 L334 951.4 L344.5 943.6 L320 940.3ZM343.2 952.7 L368.1 956 L378.4 948.1 L353.6 944.8ZM377.4 957.3 L402.6 960.7 L412.6 952.7 L387.6 949.4ZM412 962 L437.5 965.4 L447.2 957.4 L421.9 954ZM447 966.7 L472.7 970.2 L482.1 962 L456.6 958.6ZM482.3 971.5 L508.4 975 L517.5 966.8 L491.6 963.3ZM518 976.4 L544.4 979.9 L553.2 971.6 L527.1 968.1ZM554.2 981.3 L580.8 984.9 L589.3 976.4 L562.9 972.9ZM590.7 986.2 L617.7 989.9 L625.9 981.3 L599.2 977.7ZM627.7 991.2 L654.9 994.9 L662.8 986.3 L635.8 982.7ZM665.1 996.3 L692.6 1000 L700.2 991.3 L672.9 987.6ZM702.9 1001.4 L730.7 1005.2 L738 996.4 L710.4 992.7ZM741.1 1006.6 L769.3 1010.4 L776.2 1001.5 L748.3 997.7ZM779.8 1011.8 L808.3 1015.7 L814.9 1006.7 L786.6 1002.9Z"/>
<path d="M260.3 927 L284.2 930.2 L294.8 922.8 L271.1 919.7ZM293 931.4 L317.2 934.6 L327.6 927.1 L303.6 924ZM326.1 935.8 L350.5 939.1 L360.7 931.5 L336.5 928.3ZM359.6 940.3 L384.2 943.6 L394.1 935.9 L369.7 932.7ZM393.4 944.8 L418.3 948.1 L427.9 940.3 L403.2 937.1ZM427.5 949.3 L452.7 952.7 L462.1 944.8 L437.1 941.5ZM462 953.9 L487.5 957.3 L496.6 949.4 L471.4 946.1ZM496.9 958.6 L522.7 962 L531.5 954 L506 950.6ZM532.2 963.3 L558.2 966.7 L566.8 958.6 L541 955.2ZM567.9 968 L594.2 971.5 L602.5 963.3 L576.4 959.9ZM604 972.8 L630.6 976.4 L638.5 968.1 L612.2 964.6ZM640.4 977.7 L667.3 981.3 L675 972.9 L648.3 969.4ZM677.3 982.6 L704.5 986.2 L711.9 977.8 L684.9 974.2ZM714.6 987.6 L742.1 991.2 L749.1 982.7 L721.9 979.1ZM752.3 992.6 L780.1 996.3 L786.8 987.7 L759.3 984ZM790.5 997.7 L818.6 1001.4 L825 992.7 L797.1 989Z"/>
<path d="M277.3 915.4 L300.9 918.5 L311.3 911.3 L287.9 908.2ZM309.7 919.6 L333.5 922.8 L343.7 915.5 L320 912.4ZM342.4 923.9 L366.5 927.1 L376.4 919.7 L352.5 916.6ZM375.4 928.2 L399.8 931.4 L409.4 924 L385.3 920.8ZM408.8 932.6 L433.4 935.8 L442.8 928.3 L418.4 925.1ZM442.6 937 L467.4 940.3 L476.6 932.7 L451.9 929.5ZM476.7 941.5 L501.8 944.8 L510.7 937.1 L485.7 933.9ZM511.2 946 L536.6 949.4 L545.1 941.6 L519.9 938.3ZM546 950.6 L571.7 954 L580 946.1 L554.5 942.8ZM581.2 955.2 L607.2 958.6 L615.2 950.7 L589.5 947.3ZM616.8 959.9 L643.1 963.3 L650.8 955.3 L624.8 951.9ZM652.8 964.6 L679.4 968.1 L686.8 959.9 L660.5 956.5ZM689.2 969.4 L716 972.9 L723.2 964.7 L696.6 961.2ZM726 974.2 L753.1 977.7 L760 969.4 L733.1 965.9ZM763.2 979 L790.6 982.6 L797.2 974.2 L770 970.7ZM800.8 984 L828.6 987.6 L834.8 979.1 L807.3 975.6Z"/>
<path d="M293.9 904.1 L317.2 907.1 L327.3 900 L304.1 897.1ZM325.9 908.2 L349.5 911.2 L359.3 904.1 L335.9 901.1ZM358.2 912.3 L382 915.4 L391.6 908.2 L368 905.2ZM390.9 916.6 L414.9 919.7 L424.3 912.4 L400.4 909.4ZM423.9 920.8 L448.2 923.9 L457.3 916.6 L433.2 913.5ZM457.2 925.1 L481.8 928.3 L490.6 920.9 L466.3 917.8ZM490.9 929.4 L515.7 932.6 L524.3 925.2 L499.7 922ZM525 933.8 L550 937.1 L558.4 929.5 L533.5 926.3ZM559.4 938.3 L584.7 941.5 L592.8 933.9 L567.6 930.7ZM594.1 942.7 L619.8 946 L627.6 938.3 L602.1 935.1ZM629.3 947.3 L655.2 950.6 L662.7 942.8 L637 939.5ZM664.8 951.9 L691 955.2 L698.2 947.3 L672.3 944ZM700.8 956.5 L727.2 959.9 L734.2 951.9 L707.9 948.6ZM737.1 961.2 L763.8 964.6 L770.5 956.6 L743.9 953.2ZM773.8 965.9 L800.8 969.4 L807.1 961.2 L780.3 957.8ZM810.9 970.7 L838.3 974.2 L844.2 966 L817.1 962.5Z"/>
<path d="M310 893 L333.1 896 L342.9 889.1 L320 886.3ZM341.6 897 L364.9 900 L374.5 893.1 L351.4 890.2ZM373.6 901.1 L397.1 904.1 L406.5 897.1 L383.1 894.2ZM405.9 905.2 L429.6 908.2 L438.8 901.2 L415.1 898.2ZM438.5 909.3 L462.5 912.4 L471.4 905.3 L447.5 902.3ZM471.4 913.5 L495.7 916.6 L504.3 909.4 L480.2 906.4ZM504.7 917.7 L529.2 920.8 L537.6 913.6 L513.3 910.5ZM538.4 922 L563.1 925.1 L571.3 917.8 L546.7 914.7ZM572.4 926.3 L597.4 929.5 L605.2 922 L580.4 918.9ZM606.7 930.6 L632 933.9 L639.6 926.4 L614.5 923.2ZM641.4 935 L667 938.3 L674.3 930.7 L648.9 927.5ZM676.5 939.5 L702.3 942.8 L709.4 935.1 L683.7 931.9ZM712 944 L738.1 947.3 L744.8 939.6 L718.9 936.3ZM747.8 948.5 L774.2 951.9 L780.6 944.1 L754.4 940.8ZM784 953.1 L810.7 956.5 L816.9 948.6 L790.4 945.3ZM820.7 957.8 L847.6 961.2 L853.5 953.2 L826.7 949.8Z"/>
<path d="M325.7 882.3 L348.5 885.2 L358 878.5 L335.4 875.7ZM356.9 886.2 L380 889.1 L389.3 882.4 L366.4 879.5ZM388.5 890.2 L411.8 893.1 L420.9 886.3 L397.8 883.4ZM420.5 894.1 L444 897.1 L452.8 890.2 L429.5 887.3ZM452.7 898.2 L476.4 901.1 L485.1 894.2 L461.5 891.3ZM485.3 902.2 L509.2 905.2 L517.6 898.2 L493.8 895.3ZM518.2 906.3 L542.4 909.3 L550.5 902.3 L526.5 899.3ZM551.4 910.5 L575.9 913.5 L583.8 906.4 L559.5 903.4ZM585 914.7 L609.7 917.7 L617.3 910.5 L592.8 907.5ZM618.9 918.9 L643.9 922 L651.3 914.7 L626.5 911.7ZM653.2 923.2 L678.4 926.3 L685.5 919 L660.5 915.9ZM687.8 927.5 L713.4 930.7 L720.2 923.2 L694.9 920.1ZM722.8 931.9 L748.6 935.1 L755.2 927.6 L729.6 924.4ZM758.2 936.3 L784.3 939.5 L790.5 931.9 L764.7 928.7ZM794 940.7 L820.3 944 L826.3 936.3 L800.2 933.1ZM830.1 945.2 L856.8 948.6 L862.4 940.8 L836 937.5Z"/>
<path d="M340.9 871.9 L363.5 874.6 L372.8 868.2 L350.4 865.4ZM371.9 875.7 L394.6 878.5 L403.7 871.9 L381.1 869.2ZM403.1 879.5 L426.1 882.3 L434.9 875.7 L412.1 873ZM434.7 883.4 L457.9 886.2 L466.5 879.6 L443.4 876.8ZM466.5 887.3 L490 890.2 L498.4 883.4 L475.1 880.6ZM498.7 891.2 L522.4 894.2 L530.6 887.4 L507 884.5ZM531.2 895.2 L555.2 898.2 L563.1 891.3 L539.3 888.4ZM564.1 899.3 L588.3 902.2 L595.9 895.3 L571.9 892.4ZM597.2 903.3 L621.7 906.3 L629.1 899.3 L604.9 896.4ZM630.8 907.5 L655.5 910.5 L662.6 903.4 L638.1 900.4ZM664.6 911.6 L689.6 914.7 L696.5 907.5 L671.7 904.5ZM698.8 915.8 L724 918.9 L730.7 911.7 L705.7 908.6ZM733.4 920.1 L758.9 923.2 L765.2 915.9 L740 912.8ZM768.3 924.4 L794.1 927.5 L800.2 920.1 L774.6 917ZM803.6 928.7 L829.7 931.9 L835.4 924.4 L809.6 921.3ZM839.3 933.1 L865.6 936.3 L871.1 928.8 L845 925.6Z"/>
<path d="M355.8 861.7 L378.1 864.4 L387.1 858.1 L365 855.5ZM386.4 865.4 L408.9 868.1 L417.7 861.8 L395.4 859.1ZM417.3 869.1 L440 871.9 L448.6 865.5 L426 862.8ZM448.5 872.9 L471.4 875.7 L479.8 869.2 L457 866.5ZM480 876.7 L503.2 879.5 L511.3 873 L488.3 870.2ZM511.8 880.6 L535.2 883.4 L543.2 876.8 L519.9 874ZM543.9 884.5 L567.6 887.3 L575.3 880.6 L551.8 877.8ZM576.4 888.4 L600.3 891.3 L607.8 884.5 L584 881.7ZM609.2 892.3 L633.3 895.3 L640.5 888.4 L616.6 885.6ZM642.3 896.3 L666.7 899.3 L673.7 892.4 L649.5 889.5ZM675.8 900.4 L700.4 903.4 L707.1 896.4 L682.7 893.5ZM709.6 904.5 L734.4 907.5 L740.9 900.5 L716.2 897.5ZM743.7 908.6 L768.8 911.6 L775 904.5 L750.1 901.6ZM778.2 912.8 L803.6 915.8 L809.5 908.7 L784.3 905.6ZM813 917 L838.7 920.1 L844.3 912.8 L818.9 909.8ZM848.3 921.2 L874.2 924.4 L879.5 917 L853.8 914Z"/>
<path d="M370.2 851.8 L392.3 854.4 L401.1 848.3 L379.2 845.7ZM400.5 855.4 L422.8 858.1 L431.4 851.9 L409.3 849.3ZM431.1 859.1 L453.6 861.7 L461.9 855.5 L439.6 852.8ZM461.9 862.7 L484.6 865.4 L492.8 859.1 L470.3 856.5ZM493.1 866.4 L516 869.2 L524 862.8 L501.2 860.1ZM524.5 870.2 L547.7 872.9 L555.4 866.5 L532.4 863.8ZM556.3 874 L579.7 876.7 L587.2 870.2 L564 867.5ZM588.4 877.8 L612 880.6 L619.3 874 L595.8 871.3ZM620.8 881.6 L644.7 884.5 L651.7 877.8 L628 875ZM653.5 885.5 L677.6 888.4 L684.4 881.7 L660.5 878.9ZM686.6 889.5 L710.9 892.4 L717.4 885.6 L693.3 882.7ZM720 893.4 L744.5 896.4 L750.8 889.5 L726.4 886.7ZM753.7 897.5 L778.5 900.4 L784.5 893.5 L759.9 890.6ZM787.8 901.5 L812.8 904.5 L818.6 897.5 L793.7 894.6ZM822.2 905.6 L847.5 908.6 L853 901.6 L827.8 898.6ZM856.9 909.7 L882.5 912.8 L887.7 905.7 L862.3 902.7Z"/>
<path d="M384.3 842.2 L406.1 844.7 L414.7 838.7 L393 836.2ZM414.3 845.7 L436.3 848.3 L444.7 842.2 L422.8 839.7ZM444.5 849.2 L466.7 851.8 L474.9 845.7 L452.8 843.2ZM475 852.8 L497.5 855.4 L505.4 849.3 L483.1 846.7ZM505.8 856.4 L528.5 859.1 L536.3 852.9 L513.7 850.2ZM536.9 860.1 L559.8 862.8 L567.4 856.5 L544.6 853.8ZM568.4 863.7 L591.5 866.5 L598.8 860.1 L575.8 857.5ZM600.1 867.5 L623.4 870.2 L630.5 863.8 L607.3 861.1ZM632.1 871.2 L655.7 874 L662.5 867.5 L639.1 864.8ZM664.4 875 L688.3 877.8 L694.9 871.3 L671.2 868.5ZM697.1 878.8 L721.2 881.7 L727.5 875.1 L703.6 872.3ZM730.1 882.7 L754.4 885.6 L760.5 878.9 L736.4 876.1ZM763.4 886.6 L787.9 889.5 L793.8 882.8 L769.4 879.9ZM797.1 890.6 L821.8 893.5 L827.4 886.7 L802.8 883.8ZM831.1 894.5 L856.1 897.5 L861.4 890.6 L836.6 887.7ZM865.4 898.6 L890.7 901.5 L895.7 894.6 L870.6 891.7Z"/>
<path d="M398.1 832.8 L419.7 835.3 L428 829.4 L406.6 827ZM427.7 836.2 L449.5 838.7 L457.7 832.8 L436 830.3ZM457.6 839.6 L479.6 842.2 L487.6 836.2 L465.7 833.7ZM487.8 843.1 L510 845.7 L517.8 839.7 L495.7 837.2ZM518.3 846.7 L540.7 849.2 L548.2 843.2 L526 840.6ZM549 850.2 L571.7 852.8 L579 846.7 L556.5 844.1ZM580.1 853.8 L602.9 856.4 L610.1 850.3 L587.4 847.7ZM611.4 857.4 L634.5 860.1 L641.4 853.9 L618.5 851.2ZM643.1 861.1 L666.4 863.8 L673.1 857.5 L649.9 854.8ZM675.1 864.8 L698.6 867.5 L705 861.1 L681.7 858.5ZM707.4 868.5 L731.1 871.2 L737.3 864.8 L713.7 862.1ZM740 872.3 L764 875 L769.9 868.6 L746.1 865.8ZM772.9 876.1 L797.1 878.9 L802.8 872.3 L778.7 869.6ZM806.1 879.9 L830.6 882.7 L836 876.1 L811.7 873.3ZM839.7 883.8 L864.4 886.6 L869.6 880 L845.1 877.2ZM873.6 887.7 L898.6 890.6 L903.5 883.8 L878.7 881Z"/>
<path d="M411.4 823.6 L432.8 826 L441 820.3 L419.7 818ZM440.8 826.9 L462.3 829.4 L470.3 823.7 L448.9 821.2ZM470.4 830.3 L492.1 832.8 L499.9 827 L478.3 824.6ZM500.2 833.7 L522.2 836.2 L529.8 830.4 L507.9 827.9ZM530.4 837.1 L552.6 839.7 L559.9 833.8 L537.9 831.3ZM560.8 840.6 L583.2 843.2 L590.3 837.2 L568.1 834.7ZM591.5 844.1 L614.1 846.7 L621.1 840.7 L598.6 838.1ZM622.5 847.6 L645.3 850.2 L652.1 844.2 L629.4 841.6ZM653.8 851.2 L676.9 853.8 L683.4 847.7 L660.5 845.1ZM685.4 854.8 L708.7 857.4 L715 851.2 L691.9 848.6ZM717.3 858.4 L740.8 861.1 L746.9 854.8 L723.5 852.2ZM749.6 862.1 L773.3 864.8 L779.1 858.5 L755.5 855.8ZM782.1 865.8 L806 868.5 L811.6 862.1 L787.8 859.5ZM814.9 869.5 L839.1 872.3 L844.4 865.8 L820.4 863.1ZM848.1 873.3 L872.5 876.1 L877.6 869.6 L853.3 866.9ZM881.6 877.1 L906.3 879.9 L911 873.4 L886.6 870.6Z"/>
<path d="M424.5 814.7 L445.7 817 L453.6 811.5 L432.6 809.2ZM453.5 817.9 L474.9 820.3 L482.6 814.7 L461.4 812.4ZM482.8 821.2 L504.3 823.6 L511.9 818 L490.5 815.6ZM512.4 824.5 L534.1 827 L541.5 821.3 L519.9 818.9ZM542.2 827.9 L564.1 830.3 L571.3 824.6 L549.5 822.1ZM572.3 831.2 L594.4 833.7 L601.4 827.9 L579.4 825.5ZM602.7 834.7 L625 837.2 L631.8 831.3 L609.6 828.8ZM633.3 838.1 L655.9 840.6 L662.4 834.7 L640 832.2ZM664.3 841.6 L687.1 844.1 L693.4 838.1 L670.8 835.6ZM695.5 845.1 L718.5 847.7 L724.6 841.6 L701.8 839.1ZM727.1 848.6 L750.3 851.2 L756.2 845.1 L733.1 842.6ZM758.9 852.2 L782.3 854.8 L788 848.7 L764.7 846.1ZM791.1 855.8 L814.7 858.4 L820.1 852.2 L796.6 849.6ZM823.5 859.4 L847.4 862.1 L852.6 855.8 L828.9 853.2ZM856.3 863.1 L880.4 865.8 L885.3 859.5 L861.4 856.8ZM889.4 866.8 L913.7 869.6 L918.4 863.2 L894.2 860.5Z"/>
<path d="M437.2 805.9 L458.2 808.3 L466 802.8 L445.1 800.6ZM466 809.1 L487.1 811.5 L494.7 806 L473.7 803.7ZM494.9 812.3 L516.3 814.7 L523.7 809.2 L502.5 806.8ZM524.2 815.6 L545.7 817.9 L552.9 812.4 L531.5 810ZM553.7 818.8 L575.4 821.2 L582.4 815.6 L560.8 813.2ZM583.5 822.1 L605.4 824.5 L612.2 818.9 L590.4 816.5ZM613.5 825.4 L635.6 827.9 L642.2 822.2 L620.3 819.8ZM643.8 828.8 L666.2 831.3 L672.5 825.5 L650.4 823.1ZM674.5 832.2 L697 834.7 L703.1 828.8 L680.8 826.4ZM705.4 835.6 L728.1 838.1 L734 832.2 L711.5 829.8ZM736.5 839 L759.5 841.6 L765.2 835.7 L742.4 833.2ZM768 842.5 L791.2 845.1 L796.7 839.1 L773.7 836.6ZM799.8 846 L823.2 848.6 L828.4 842.6 L805.2 840ZM831.9 849.6 L855.5 852.2 L860.5 846.1 L837.1 843.5ZM864.3 853.2 L888.1 855.8 L892.9 849.6 L869.2 847.1ZM897 856.8 L921 859.5 L925.6 853.2 L901.7 850.6Z"/>
<path d="M449.7 797.4 L470.4 799.7 L478 794.4 L457.4 792.2ZM478.1 800.5 L499 802.8 L506.4 797.5 L485.6 795.2ZM506.8 803.7 L527.9 806 L535.1 800.6 L514.1 798.3ZM535.7 806.8 L557 809.1 L564 803.7 L542.9 801.4ZM564.9 810 L586.4 812.3 L593.2 806.9 L571.9 804.6ZM594.4 813.2 L616.1 815.6 L622.7 810.1 L601.2 807.7ZM624.1 816.5 L646 818.8 L652.4 813.3 L630.7 810.9ZM654.1 819.7 L676.2 822.1 L682.4 816.5 L660.5 814.1ZM684.4 823 L706.7 825.5 L712.7 819.8 L690.6 817.4ZM714.9 826.4 L737.4 828.8 L743.2 823.1 L720.9 820.7ZM745.8 829.7 L768.5 832.2 L774 826.4 L751.5 824ZM776.9 833.1 L799.8 835.6 L805.2 829.8 L782.4 827.3ZM808.3 836.5 L831.4 839.1 L836.6 833.2 L813.6 830.7ZM840 840 L863.4 842.5 L868.3 836.6 L845.1 834.1ZM872 843.5 L895.6 846.1 L900.3 840.1 L876.9 837.5ZM904.3 847 L928.1 849.6 L932.5 843.5 L908.9 841Z"/>
<path d="M461.8 789.1 L482.3 791.3 L489.7 786.2 L469.4 784ZM490 792.2 L510.7 794.4 L517.9 789.2 L497.3 787ZM518.3 795.2 L539.2 797.5 L546.3 792.2 L525.5 790ZM547 798.3 L568 800.6 L574.9 795.3 L554 793ZM575.9 801.4 L597.1 803.7 L603.8 798.3 L582.7 796.1ZM605 804.5 L626.5 806.8 L632.9 801.4 L611.6 799.2ZM634.4 807.7 L656.1 810 L662.4 804.6 L640.9 802.3ZM664.1 810.9 L686 813.2 L692 807.7 L670.3 805.4ZM694.1 814.1 L716.1 816.5 L722 810.9 L700.1 808.6ZM724.3 817.4 L746.5 819.7 L752.2 814.2 L730.1 811.8ZM754.8 820.6 L777.2 823.1 L782.7 817.4 L760.4 815ZM785.6 823.9 L808.2 826.4 L813.4 820.7 L790.9 818.3ZM816.6 827.3 L839.5 829.7 L844.5 824 L821.8 821.6ZM848 830.7 L871 833.1 L875.8 827.3 L852.9 824.9ZM879.6 834.1 L902.9 836.6 L907.4 830.7 L884.3 828.2ZM911.5 837.5 L935 840 L939.4 834.1 L916 831.6Z"/>
<path d="M473.7 781 L494 783.2 L501.2 778.1 L481 776ZM501.5 784 L522 786.1 L529.1 781.1 L508.7 778.9ZM529.6 787 L550.3 789.1 L557.2 784 L536.6 781.9ZM558 790 L578.8 792.2 L585.5 787 L564.8 784.8ZM586.6 793 L607.6 795.2 L614.1 790 L593.2 787.8ZM615.4 796.1 L636.6 798.3 L643 793 L621.9 790.8ZM644.5 799.1 L665.9 801.4 L672.1 796.1 L650.8 793.9ZM673.9 802.3 L695.5 804.5 L701.4 799.2 L680 796.9ZM703.5 805.4 L725.3 807.7 L731 802.3 L709.4 800ZM733.4 808.6 L755.4 810.9 L760.9 805.4 L739.1 803.1ZM763.6 811.8 L785.8 814.1 L791.1 808.6 L769 806.3ZM794 815 L816.4 817.4 L821.5 811.8 L799.3 809.5ZM824.7 818.3 L847.3 820.7 L852.2 815 L829.8 812.7ZM855.7 821.5 L878.5 824 L883.2 818.3 L860.5 815.9ZM887 824.9 L910 827.3 L914.4 821.6 L891.6 819.2ZM918.6 828.2 L941.8 830.7 L946 824.9 L922.9 822.5Z"/>
<path d="M485.2 773.1 L505.4 775.2 L512.4 770.3 L492.4 768.2ZM512.8 776 L533.1 778.1 L540 773.1 L519.8 771ZM540.6 778.9 L561.1 781 L567.8 776 L547.5 773.9ZM568.7 781.8 L589.3 784 L595.9 778.9 L575.4 776.8ZM597 784.8 L617.8 787 L624.2 781.9 L603.5 779.7ZM625.6 787.8 L646.6 790 L652.7 784.8 L631.9 782.7ZM654.4 790.8 L675.5 793 L681.5 787.8 L660.5 785.6ZM683.4 793.8 L704.8 796.1 L710.6 790.8 L689.3 788.6ZM712.7 796.9 L734.3 799.2 L739.9 793.9 L718.5 791.7ZM742.3 800 L764.1 802.3 L769.4 796.9 L747.8 794.7ZM772.1 803.1 L794.1 805.4 L799.3 800 L777.5 797.8ZM802.2 806.3 L824.4 808.6 L829.4 803.2 L807.4 800.9ZM832.6 809.5 L855 811.8 L859.7 806.3 L837.5 804ZM863.3 812.7 L885.8 815 L890.4 809.5 L868 807.2ZM894.2 815.9 L916.9 818.3 L921.3 812.7 L898.7 810.4ZM925.4 819.2 L948.4 821.6 L952.5 815.9 L929.7 813.6Z"/>
<path d="M496.6 765.4 L516.5 767.4 L523.4 762.6 L503.6 760.6ZM523.9 768.2 L544 770.2 L550.7 765.4 L530.7 763.3ZM551.4 771 L571.7 773.1 L578.2 768.2 L558.1 766.2ZM579.2 773.9 L599.6 776 L606 771.1 L585.7 769ZM607.2 776.8 L627.8 778.9 L634 773.9 L613.5 771.8ZM635.5 779.7 L656.3 781.8 L662.3 776.8 L641.6 774.7ZM664 782.6 L684.9 784.8 L690.8 779.7 L669.9 777.6ZM692.7 785.6 L713.9 787.8 L719.5 782.7 L698.5 780.5ZM721.7 788.6 L743.1 790.8 L748.5 785.7 L727.3 783.5ZM751 791.6 L772.5 793.9 L777.8 788.7 L756.4 786.5ZM780.5 794.7 L802.2 796.9 L807.3 791.7 L785.7 789.5ZM810.3 797.8 L832.2 800 L837 794.7 L815.3 792.5ZM840.3 800.9 L862.4 803.1 L867.1 797.8 L845.1 795.6ZM870.6 804 L892.9 806.3 L897.4 800.9 L875.2 798.6ZM901.2 807.1 L923.7 809.5 L927.9 804 L905.6 801.7ZM932.1 810.3 L954.8 812.7 L958.8 807.2 L936.2 804.9Z"/>
<path d="M507.6 757.8 L527.3 759.8 L534.1 755.1 L514.5 753.1ZM534.7 760.5 L554.5 762.6 L561.1 757.8 L541.4 755.8ZM561.9 763.3 L582 765.4 L588.4 760.6 L568.5 758.6ZM589.4 766.1 L609.7 768.2 L615.9 763.4 L595.8 761.3ZM617.2 769 L637.6 771 L643.6 766.2 L623.4 764.1ZM645.1 771.8 L665.7 773.9 L671.6 769 L651.2 766.9ZM673.4 774.7 L694.1 776.8 L699.8 771.8 L679.2 769.8ZM701.8 777.6 L722.7 779.7 L728.3 774.7 L707.5 772.6ZM730.5 780.5 L751.6 782.7 L757 777.6 L736 775.5ZM759.5 783.5 L780.8 785.6 L785.9 780.6 L764.7 778.4ZM788.7 786.4 L810.1 788.6 L815.1 783.5 L793.8 781.3ZM818.1 789.4 L839.8 791.6 L844.5 786.5 L823 784.3ZM847.8 792.5 L869.7 794.7 L874.2 789.5 L852.5 787.3ZM877.8 795.5 L899.9 797.8 L904.2 792.5 L882.3 790.3ZM908.1 798.6 L930.3 800.9 L934.4 795.6 L912.3 793.3ZM938.6 801.7 L961 804 L964.9 798.7 L942.6 796.4Z"/>
</g>
<g opacity="0.24">
<path d="M246.3 938.6 L265.6 941.2 L274.4 935.1 L255.2 932.5ZM279.4 943.1 L298.9 945.7 L307.5 939.5 L288.1 936.9ZM312.9 947.6 L332.6 950.3 L341 944 L321.4 941.4ZM346.7 952.2 L366.7 954.9 L374.9 948.6 L355.1 945.9ZM381 956.8 L401.1 959.6 L409.1 953.2 L389 950.5ZM415.5 961.5 L435.9 964.3 L443.7 957.8 L423.4 955.1ZM450.5 966.2 L471.1 969 L478.6 962.5 L458.2 959.8ZM485.8 971 L506.7 973.9 L514 967.3 L493.3 964.5ZM521.6 975.9 L542.6 978.7 L549.7 972.1 L528.8 969.2ZM557.7 980.8 L579 983.7 L585.8 976.9 L564.7 974.1ZM594.3 985.7 L615.8 988.6 L622.4 981.8 L601 978.9ZM631.2 990.7 L653 993.7 L659.3 986.8 L637.7 983.9ZM668.6 995.8 L690.6 998.8 L696.7 991.8 L674.8 988.9ZM706.4 1000.9 L728.7 1003.9 L734.5 996.9 L712.4 993.9ZM744.6 1006.1 L767.2 1009.1 L772.7 1002 L750.3 999ZM783.3 1011.3 L806.1 1014.4 L811.4 1007.2 L788.8 1004.1Z"/>
<path d="M263.8 926.6 L282.9 929.2 L291.4 923.2 L272.4 920.7ZM296.5 931 L315.8 933.5 L324.1 927.5 L305 925ZM329.6 935.4 L349.1 938 L357.2 931.9 L337.9 929.3ZM363 939.8 L382.7 942.4 L390.7 936.3 L371.1 933.7ZM396.8 944.3 L416.7 947 L424.5 940.8 L404.7 938.2ZM431 948.9 L451.1 951.6 L458.6 945.3 L438.6 942.6ZM465.5 953.5 L485.9 956.2 L493.2 949.8 L473 947.2ZM500.4 958.1 L521 960.9 L528.1 954.5 L507.6 951.8ZM535.7 962.8 L556.5 965.6 L563.4 959.1 L542.7 956.4ZM571.4 967.6 L592.4 970.4 L599 963.8 L578.1 961.1ZM607.4 972.4 L628.7 975.2 L635.1 968.6 L614 965.8ZM643.9 977.2 L665.4 980.1 L671.6 973.4 L650.2 970.6ZM680.8 982.1 L702.5 985 L708.4 978.3 L686.8 975.4ZM718.1 987.1 L740.1 990 L745.7 983.2 L723.9 980.3ZM755.8 992.1 L778 995.1 L783.4 988.2 L761.3 985.2ZM793.9 997.2 L816.4 1000.2 L821.5 993.2 L799.2 990.2Z"/>
<path d="M280.7 915 L299.6 917.4 L307.9 911.7 L289.2 909.2ZM313.1 919.2 L332.2 921.7 L340.3 915.9 L321.3 913.4ZM345.8 923.5 L365.1 926 L373 920.1 L353.8 917.6ZM378.9 927.8 L398.3 930.4 L406 924.4 L386.7 921.9ZM412.2 932.2 L431.9 934.8 L439.4 928.7 L419.9 926.2ZM446 936.6 L465.9 939.2 L473.2 933.1 L453.4 930.6ZM480.1 941.1 L500.2 943.7 L507.3 937.5 L487.3 935ZM514.6 945.6 L534.9 948.2 L541.8 942 L521.6 939.4ZM549.4 950.1 L569.9 952.8 L576.6 946.5 L556.2 943.9ZM584.6 954.7 L605.4 957.5 L611.8 951.1 L591.2 948.4ZM620.2 959.4 L641.2 962.2 L647.4 955.7 L626.6 953ZM656.2 964.1 L677.4 966.9 L683.4 960.4 L662.3 957.7ZM692.6 968.9 L714.1 971.7 L719.8 965.1 L698.5 962.4ZM729.4 973.7 L751.1 976.5 L756.6 969.9 L735 967.1ZM766.6 978.6 L788.6 981.4 L793.8 974.7 L772 971.9ZM804.3 983.5 L826.4 986.4 L831.4 979.6 L809.4 976.7Z"/>
<path d="M297.2 903.7 L315.9 906.1 L324 900.4 L305.4 898.1ZM329.2 907.8 L348.1 910.2 L356 904.5 L337.2 902.1ZM361.6 911.9 L380.6 914.4 L388.3 908.6 L369.4 906.2ZM394.2 916.1 L413.5 918.6 L421 912.8 L401.8 910.4ZM427.2 920.4 L446.7 922.9 L454 917 L434.7 914.6ZM460.6 924.7 L480.2 927.2 L487.3 921.3 L467.8 918.8ZM494.3 929 L514.1 931.6 L521 925.6 L501.3 923.1ZM528.3 933.4 L548.4 936 L555.1 929.9 L535.1 927.4ZM562.7 937.8 L583 940.4 L589.5 934.3 L569.3 931.8ZM597.5 942.3 L618 944.9 L624.2 938.8 L603.9 936.2ZM632.7 946.8 L653.4 949.5 L659.4 943.3 L638.8 940.6ZM668.2 951.4 L689.1 954.1 L694.9 947.8 L674.1 945.1ZM704.1 956 L725.3 958.7 L730.8 952.4 L709.8 949.7ZM740.4 960.7 L761.8 963.5 L767.1 957 L745.9 954.3ZM777.1 965.4 L798.8 968.2 L803.8 961.7 L782.3 959ZM814.2 970.2 L836.1 973 L840.9 966.4 L819.2 963.7Z"/>
<path d="M313.3 892.6 L331.7 895 L339.6 889.5 L321.3 887.2ZM344.9 896.6 L363.6 899 L371.2 893.5 L352.7 891.2ZM376.9 900.7 L395.7 903.1 L403.2 897.5 L384.5 895.2ZM409.2 904.8 L428.2 907.2 L435.5 901.6 L416.6 899.2ZM441.8 908.9 L461 911.3 L468.1 905.7 L449 903.3ZM474.7 913.1 L494.1 915.5 L501 909.8 L481.8 907.4ZM508 917.3 L527.6 919.8 L534.3 914 L514.9 911.5ZM541.7 921.6 L561.5 924.1 L568 918.2 L548.3 915.7ZM575.7 925.9 L595.7 928.4 L602 922.5 L582.1 920ZM610 930.2 L630.2 932.8 L636.3 926.8 L616.2 924.3ZM644.7 934.6 L665.2 937.2 L671 931.1 L650.7 928.6ZM679.8 939.1 L700.5 941.7 L706.1 935.6 L685.6 933ZM715.3 943.5 L736.1 946.2 L741.5 940 L720.8 937.4ZM751.1 948.1 L772.2 950.8 L777.4 944.5 L756.4 941.9ZM787.3 952.7 L808.7 955.4 L813.6 949.1 L792.4 946.4ZM823.9 957.3 L845.5 960 L850.2 953.7 L828.8 951Z"/>
<path d="M328.9 881.9 L347.1 884.2 L354.8 878.9 L336.7 876.6ZM360.2 885.8 L378.6 888.1 L386.1 882.8 L367.8 880.5ZM391.8 889.8 L410.4 892.1 L417.7 886.7 L399.2 884.4ZM423.7 893.7 L442.5 896.1 L449.6 890.6 L430.9 888.3ZM455.9 897.8 L474.9 900.1 L481.8 894.6 L463 892.3ZM488.5 901.8 L507.7 904.2 L514.4 898.6 L495.3 896.3ZM521.4 905.9 L540.8 908.3 L547.3 902.7 L528.1 900.3ZM554.6 910.1 L574.2 912.5 L580.5 906.8 L561.1 904.4ZM588.2 914.2 L608 916.7 L614.1 910.9 L594.5 908.5ZM622.2 918.5 L642.1 921 L648 915.1 L628.2 912.7ZM656.4 922.7 L676.6 925.3 L682.3 919.4 L662.3 916.9ZM691.1 927.1 L711.5 929.6 L717 923.7 L696.7 921.1ZM726.1 931.4 L746.7 934 L752 928 L731.5 925.4ZM761.5 935.8 L782.3 938.4 L787.3 932.4 L766.6 929.8ZM797.2 940.3 L818.3 942.9 L823.1 936.8 L802.1 934.2ZM833.4 944.8 L854.7 947.4 L859.2 941.2 L838 938.6Z"/>
<path d="M344.1 871.5 L362.1 873.7 L369.6 868.5 L351.7 866.4ZM375.1 875.3 L393.3 877.5 L400.5 872.3 L382.4 870.1ZM406.3 879.1 L424.7 881.4 L431.8 876.1 L413.5 873.9ZM437.9 883 L456.4 885.3 L463.3 879.9 L444.9 877.7ZM469.7 886.9 L488.5 889.2 L495.2 883.8 L476.6 881.6ZM501.9 890.9 L520.9 893.2 L527.4 887.7 L508.6 885.5ZM534.4 894.8 L553.6 897.2 L559.9 891.7 L540.9 889.4ZM567.3 898.9 L586.6 901.2 L592.8 895.7 L573.5 893.4ZM600.4 902.9 L620 905.3 L625.9 899.7 L606.5 897.4ZM634 907.1 L653.7 909.5 L659.4 903.8 L639.8 901.4ZM667.8 911.2 L687.8 913.7 L693.3 907.9 L673.5 905.5ZM702 915.4 L722.2 917.9 L727.5 912.1 L707.5 909.7ZM736.6 919.6 L757 922.1 L762.1 916.3 L741.8 913.8ZM771.5 923.9 L792.1 926.5 L797 920.5 L776.5 918.1ZM806.8 928.3 L827.6 930.8 L832.3 924.8 L811.6 922.3ZM842.5 932.6 L863.5 935.2 L867.9 929.2 L847.1 926.6Z"/>
<path d="M358.9 861.4 L376.7 863.5 L384 858.5 L366.3 856.3ZM389.5 865 L407.5 867.2 L414.6 862.1 L396.7 860ZM420.4 868.8 L438.6 871 L445.5 865.8 L427.4 863.7ZM451.6 872.5 L470 874.8 L476.7 869.6 L458.4 867.4ZM483.1 876.4 L501.7 878.6 L508.2 873.3 L489.8 871.1ZM514.9 880.2 L533.7 882.5 L540 877.2 L521.4 874.9ZM547.1 884.1 L566 886.4 L572.2 881 L553.4 878.8ZM579.5 888 L598.7 890.3 L604.6 884.9 L585.6 882.6ZM612.3 892 L631.6 894.3 L637.4 888.8 L618.2 886.5ZM645.5 896 L664.9 898.3 L670.5 892.8 L651.2 890.5ZM678.9 900 L698.6 902.4 L704 896.8 L684.4 894.5ZM712.7 904.1 L732.6 906.5 L737.8 900.9 L718 898.5ZM746.8 908.2 L766.9 910.6 L771.9 904.9 L751.9 902.6ZM781.3 912.4 L801.6 914.8 L806.4 909.1 L786.2 906.7ZM816.2 916.6 L836.7 919 L841.2 913.2 L820.8 910.8ZM851.4 920.8 L872.1 923.3 L876.4 917.5 L855.8 915Z"/>
<path d="M373.3 851.5 L391 853.6 L398 848.6 L380.5 846.6ZM403.6 855.1 L421.4 857.2 L428.3 852.2 L410.6 850.1ZM434.2 858.7 L452.1 860.8 L458.9 855.8 L441 853.7ZM465 862.4 L483.2 864.5 L489.7 859.5 L471.7 857.3ZM496.2 866.1 L514.5 868.3 L520.9 863.1 L502.7 861ZM527.6 869.8 L546.2 872 L552.4 866.9 L533.9 864.7ZM559.4 873.6 L578.1 875.8 L584.1 870.6 L565.5 868.4ZM591.5 877.4 L610.4 879.7 L616.2 874.4 L597.4 872.2ZM623.9 881.3 L643 883.5 L648.6 878.2 L629.6 876ZM656.6 885.2 L675.9 887.4 L681.3 882.1 L662.2 879.8ZM689.7 889.1 L709.1 891.4 L714.4 886 L695 883.7ZM723.1 893.1 L742.7 895.4 L747.7 889.9 L728.2 887.6ZM756.8 897.1 L776.6 899.4 L781.5 893.9 L761.7 891.6ZM790.9 901.1 L810.9 903.5 L815.5 897.9 L795.6 895.6ZM825.3 905.2 L845.5 907.6 L849.9 902 L829.8 899.6ZM860 909.3 L880.5 911.8 L884.7 906.1 L864.3 903.7Z"/>
<path d="M387.4 841.8 L404.8 843.9 L411.7 839.1 L394.3 837.1ZM417.3 845.3 L434.9 847.4 L441.7 842.6 L424.1 840.5ZM447.6 848.9 L465.3 851 L471.9 846.1 L454.2 844ZM478.1 852.5 L496 854.6 L502.4 849.6 L484.6 847.6ZM508.9 856.1 L527 858.2 L533.2 853.2 L515.2 851.1ZM540 859.7 L558.3 861.8 L564.3 856.8 L546.1 854.7ZM571.4 863.4 L589.9 865.5 L595.8 860.5 L577.4 858.3ZM603.1 867.1 L621.8 869.3 L627.5 864.2 L608.9 862ZM635.2 870.9 L654 873.1 L659.5 867.9 L640.8 865.7ZM667.5 874.6 L686.5 876.9 L691.8 871.7 L672.9 869.5ZM700.2 878.5 L719.4 880.7 L724.5 875.4 L705.4 873.2ZM733.1 882.3 L752.6 884.6 L757.5 879.3 L738.2 877ZM766.5 886.2 L786.1 888.5 L790.8 883.2 L771.3 880.9ZM800.1 890.2 L819.9 892.5 L824.4 887.1 L804.7 884.8ZM834.1 894.2 L854.1 896.5 L858.4 891 L838.5 888.7ZM868.4 898.2 L888.6 900.5 L892.7 895 L872.6 892.7Z"/>
<path d="M401.1 832.4 L418.3 834.4 L425 829.8 L407.9 827.8ZM430.7 835.9 L448.1 837.9 L454.7 833.2 L437.3 831.2ZM460.6 839.3 L478.2 841.3 L484.6 836.6 L467.1 834.6ZM490.8 842.8 L508.6 844.8 L514.8 840 L497.1 838ZM521.3 846.3 L539.2 848.4 L545.3 843.5 L527.4 841.5ZM552 849.9 L570.1 851.9 L576 847.1 L558 845ZM583.1 853.4 L601.4 855.6 L607.1 850.6 L588.9 848.5ZM614.5 857.1 L632.9 859.2 L638.4 854.2 L620.1 852.1ZM646.1 860.7 L664.7 862.9 L670.1 857.8 L651.6 855.7ZM678.1 864.4 L696.9 866.6 L702.1 861.5 L683.4 859.4ZM710.4 868.1 L729.4 870.3 L734.3 865.2 L715.4 863ZM743 871.9 L762.1 874.1 L766.9 868.9 L747.8 866.7ZM775.9 875.7 L795.3 877.9 L799.8 872.7 L780.6 870.5ZM809.1 879.5 L828.7 881.8 L833.1 876.5 L813.6 874.3ZM842.7 883.4 L862.5 885.7 L866.6 880.3 L847 878.1ZM876.6 887.3 L896.6 889.6 L900.5 884.2 L880.7 882Z"/>
<path d="M414.4 823.3 L431.5 825.2 L438 820.7 L421 818.8ZM443.7 826.6 L461 828.6 L467.4 824 L450.2 822ZM473.3 830 L490.7 832 L497 827.3 L479.6 825.4ZM503.2 833.4 L520.8 835.4 L526.8 830.7 L509.3 828.7ZM533.3 836.8 L551.1 838.8 L557 834.1 L539.3 832.1ZM563.8 840.3 L581.7 842.3 L587.4 837.5 L569.6 835.5ZM594.5 843.8 L612.6 845.8 L618.1 841 L600.1 839ZM625.5 847.3 L643.7 849.4 L649.1 844.5 L631 842.5ZM656.8 850.8 L675.2 852.9 L680.4 848 L662.1 846ZM688.4 854.4 L707 856.6 L712 851.6 L693.5 849.5ZM720.3 858.1 L739.1 860.2 L743.9 855.2 L725.2 853.1ZM752.5 861.7 L771.5 863.9 L776.1 858.8 L757.3 856.7ZM785 865.4 L804.2 867.6 L808.6 862.5 L789.6 860.4ZM817.9 869.2 L837.2 871.4 L841.5 866.2 L822.3 864ZM851.1 872.9 L870.6 875.2 L874.6 870 L855.2 867.8ZM884.6 876.7 L904.3 879 L908.1 873.7 L888.5 871.5Z"/>
<path d="M427.4 814.3 L444.3 816.2 L450.7 811.8 L433.9 809.9ZM456.4 817.6 L473.5 819.5 L479.7 815 L462.8 813.1ZM485.7 820.9 L502.9 822.8 L509 818.3 L491.9 816.4ZM515.3 824.2 L532.7 826.1 L538.6 821.6 L521.3 819.7ZM545.1 827.5 L562.6 829.5 L568.4 824.9 L550.9 823ZM575.2 830.9 L592.9 832.9 L598.5 828.3 L580.9 826.3ZM605.6 834.3 L623.5 836.3 L628.9 831.6 L611.1 829.7ZM636.2 837.8 L654.3 839.8 L659.5 835 L641.6 833ZM667.2 841.2 L685.4 843.3 L690.5 838.5 L672.4 836.5ZM698.4 844.7 L716.8 846.8 L721.7 842 L703.4 839.9ZM730 848.3 L748.5 850.3 L753.3 845.5 L734.8 843.4ZM761.8 851.8 L780.6 853.9 L785.1 849 L766.5 846.9ZM794 855.4 L812.9 857.6 L817.2 852.6 L798.4 850.5ZM826.4 859.1 L845.5 861.2 L849.7 856.2 L830.7 854.1ZM859.2 862.7 L878.5 864.9 L882.4 859.8 L863.3 857.7ZM892.3 866.5 L911.8 868.6 L915.5 863.5 L896.2 861.4Z"/>
<path d="M440.1 805.6 L456.9 807.5 L463.1 803.2 L446.4 801.3ZM468.8 808.8 L485.7 810.7 L491.8 806.3 L475 804.5ZM497.8 812 L514.9 813.9 L520.8 809.5 L503.8 807.6ZM527.1 815.2 L544.3 817.1 L550 812.7 L532.9 810.8ZM556.6 818.5 L573.9 820.4 L579.5 815.9 L562.3 814ZM586.3 821.8 L603.9 823.7 L609.3 819.2 L591.9 817.3ZM616.4 825.1 L634.1 827.1 L639.4 822.5 L621.8 820.6ZM646.7 828.5 L664.6 830.4 L669.7 825.8 L651.9 823.9ZM677.3 831.8 L695.3 833.8 L700.3 829.2 L682.4 827.2ZM708.2 835.3 L726.4 837.3 L731.2 832.6 L713.1 830.6ZM739.4 838.7 L757.8 840.7 L762.4 836 L744.1 834ZM770.9 842.2 L789.4 844.2 L793.8 839.4 L775.4 837.4ZM802.7 845.7 L821.4 847.8 L825.6 842.9 L807 840.9ZM834.8 849.2 L853.6 851.3 L857.7 846.4 L838.9 844.4ZM867.1 852.8 L886.2 854.9 L890 850 L871.1 847.9ZM899.8 856.4 L919.1 858.6 L922.7 853.6 L903.6 851.5Z"/>
<path d="M452.5 797.1 L469.1 798.9 L475.2 794.7 L458.7 792.9ZM480.9 800.2 L497.7 802.1 L503.6 797.8 L487 796ZM509.6 803.4 L526.5 805.2 L532.3 800.9 L515.5 799.1ZM538.6 806.5 L555.6 808.4 L561.2 804 L544.3 802.2ZM567.8 809.7 L584.9 811.6 L590.4 807.2 L573.3 805.3ZM597.2 812.9 L614.5 814.8 L619.9 810.4 L602.6 808.5ZM626.9 816.1 L644.4 818 L649.6 813.6 L632.2 811.7ZM656.9 819.4 L674.6 821.3 L679.6 816.8 L662 814.9ZM687.2 822.7 L705 824.6 L709.9 820.1 L692.1 818.2ZM717.8 826 L735.8 828 L740.4 823.4 L722.5 821.5ZM748.6 829.4 L766.8 831.4 L771.2 826.7 L753.2 824.8ZM779.7 832.8 L798 834.8 L802.3 830.1 L784.1 828.1ZM811.2 836.2 L829.6 838.2 L833.7 833.5 L815.4 831.5ZM842.9 839.7 L861.5 841.7 L865.4 836.9 L846.9 834.9ZM874.9 843.1 L893.7 845.2 L897.4 840.4 L878.7 838.4ZM907.2 846.7 L926.2 848.7 L929.7 843.9 L910.8 841.8Z"/>
<path d="M464.6 788.8 L481 790.6 L487 786.5 L470.6 784.7ZM492.8 791.9 L509.3 793.6 L515.1 789.5 L498.6 787.7ZM521.1 794.9 L537.8 796.7 L543.5 792.5 L526.9 790.7ZM549.8 798 L566.6 799.8 L572.1 795.6 L555.4 793.8ZM578.7 801.1 L595.7 802.9 L601 798.6 L584.1 796.8ZM607.8 804.2 L625 806.1 L630.2 801.7 L613.1 799.9ZM637.2 807.4 L654.5 809.2 L659.6 804.9 L642.4 803.1ZM666.9 810.6 L684.4 812.4 L689.2 808.1 L671.9 806.2ZM696.9 813.8 L714.5 815.7 L719.2 811.3 L701.7 809.4ZM727.1 817 L744.9 818.9 L749.4 814.5 L731.7 812.6ZM757.6 820.3 L775.5 822.2 L779.9 817.7 L762 815.8ZM788.4 823.6 L806.5 825.6 L810.7 821 L792.7 819.1ZM819.4 827 L837.7 828.9 L841.7 824.3 L823.5 822.4ZM850.8 830.3 L869.2 832.3 L873 827.7 L854.7 825.7ZM882.4 833.7 L901 835.7 L904.7 831 L886.2 829.1ZM914.3 837.2 L933.1 839.2 L936.6 834.4 L917.9 832.5Z"/>
<path d="M476.4 780.7 L492.7 782.4 L498.5 778.4 L482.3 776.7ZM504.3 783.7 L520.7 785.4 L526.3 781.4 L510 779.6ZM532.4 786.7 L548.9 788.4 L554.4 784.3 L538 782.6ZM560.7 789.7 L577.4 791.4 L582.8 787.3 L566.2 785.5ZM589.3 792.7 L606.2 794.5 L611.4 790.3 L594.6 788.5ZM618.2 795.8 L635.1 797.5 L640.2 793.3 L623.3 791.6ZM647.3 798.8 L664.4 800.7 L669.3 796.4 L652.3 794.6ZM676.6 801.9 L693.9 803.8 L698.7 799.5 L681.5 797.7ZM706.3 805.1 L723.7 806.9 L728.3 802.6 L711 800.8ZM736.2 808.3 L753.7 810.1 L758.2 805.8 L740.7 803.9ZM766.3 811.5 L784.1 813.3 L788.3 808.9 L770.7 807.1ZM796.8 814.7 L814.7 816.6 L818.8 812.1 L801 810.3ZM827.5 817.9 L845.5 819.9 L849.5 815.4 L831.5 813.5ZM858.5 821.2 L876.7 823.2 L880.4 818.6 L862.3 816.7ZM889.7 824.5 L908.1 826.5 L911.7 821.9 L893.4 820ZM921.3 827.9 L939.9 829.9 L943.3 825.2 L924.8 823.3Z"/>
<path d="M488 772.8 L504.1 774.5 L509.7 770.6 L493.7 768.9ZM515.6 775.7 L531.8 777.4 L537.3 773.4 L521.2 771.7ZM543.4 778.6 L559.7 780.3 L565.1 776.3 L548.8 774.6ZM571.4 781.5 L587.9 783.3 L593.2 779.2 L576.8 777.5ZM599.7 784.5 L616.4 786.2 L621.5 782.2 L604.9 780.4ZM628.3 787.5 L645.1 789.2 L650 785.1 L633.3 783.4ZM657.1 790.5 L674 792.3 L678.8 788.1 L662 786.4ZM686.1 793.5 L703.2 795.3 L707.9 791.1 L690.9 789.4ZM715.5 796.6 L732.7 798.4 L737.2 794.2 L720 792.4ZM745 799.7 L762.4 801.5 L766.7 797.3 L749.4 795.5ZM774.9 802.8 L792.4 804.6 L796.6 800.4 L779.1 798.5ZM805 806 L822.7 807.8 L826.7 803.5 L809.1 801.6ZM835.3 809.1 L853.2 811 L857 806.6 L839.3 804.8ZM866 812.3 L884 814.2 L887.7 809.8 L869.7 808ZM896.9 815.6 L915.1 817.5 L918.6 813 L900.5 811.1ZM928.1 818.8 L946.5 820.8 L949.8 816.3 L931.5 814.4Z"/>
<path d="M499.2 765.1 L515.2 766.7 L520.7 762.9 L504.9 761.2ZM526.6 767.9 L542.6 769.6 L548 765.7 L532 764ZM554.1 770.7 L570.3 772.4 L575.6 768.5 L559.4 766.8ZM581.9 773.6 L598.2 775.3 L603.3 771.3 L587.1 769.7ZM609.9 776.5 L626.4 778.2 L631.4 774.2 L615 772.5ZM638.2 779.4 L654.8 781.1 L659.6 777.1 L643.1 775.4ZM666.7 782.4 L683.4 784.1 L688.1 780 L671.4 778.3ZM695.4 785.3 L712.3 787.1 L716.9 783 L700 781.3ZM724.4 788.3 L741.5 790.1 L745.8 786 L728.9 784.2ZM753.7 791.3 L770.9 793.1 L775.1 788.9 L758 787.2ZM783.2 794.4 L800.5 796.2 L804.6 792 L787.3 790.2ZM813 797.4 L830.5 799.3 L834.4 795 L817 793.2ZM843 800.5 L860.7 802.4 L864.4 798.1 L846.8 796.3ZM873.3 803.7 L891.1 805.5 L894.7 801.2 L877 799.4ZM903.9 806.8 L921.9 808.7 L925.3 804.3 L907.4 802.5ZM934.7 810 L952.9 811.9 L956.1 807.5 L938.1 805.7Z"/>
<path d="M510.3 757.5 L526 759.1 L531.4 755.4 L515.8 753.8ZM537.3 760.3 L553.2 761.9 L558.5 758.1 L542.7 756.5ZM564.6 763 L580.6 764.7 L585.8 760.9 L569.8 759.2ZM592.1 765.8 L608.3 767.5 L613.3 763.6 L597.2 762ZM619.8 768.7 L636.1 770.3 L641 766.4 L624.8 764.8ZM647.8 771.5 L664.2 773.2 L669 769.3 L652.6 767.6ZM676 774.4 L692.6 776.1 L697.2 772.1 L680.7 770.5ZM704.5 777.3 L721.2 779 L725.6 775 L709 773.3ZM733.2 780.2 L750 781.9 L754.3 777.9 L737.5 776.2ZM762.1 783.2 L779.1 784.9 L783.3 780.8 L766.3 779.1ZM791.3 786.1 L808.5 787.9 L812.5 783.8 L795.4 782.1ZM820.8 789.1 L838.1 790.9 L841.9 786.8 L824.7 785ZM850.5 792.2 L868 793.9 L871.6 789.8 L854.2 788ZM880.5 795.2 L898.1 797 L901.6 792.8 L884 791ZM910.7 798.3 L928.5 800.1 L931.8 795.9 L914.1 794.1ZM941.2 801.4 L959.2 803.2 L962.3 799 L944.5 797.2Z"/>
</g>
<g opacity="0.3">
<path d="M249.4 938.2 L264.5 940.3 L271.3 935.5 L256.3 933.5ZM282.5 942.7 L297.7 944.8 L304.5 939.9 L289.3 937.9ZM316 947.2 L331.4 949.3 L338 944.4 L322.6 942.4ZM349.8 951.8 L365.4 953.9 L371.8 949 L356.3 946.9ZM384 956.4 L399.8 958.6 L406 953.6 L390.4 951.5ZM418.6 961.1 L434.5 963.3 L440.6 958.2 L424.8 956.1ZM453.6 965.8 L469.7 968 L475.6 962.9 L459.6 960.8ZM488.9 970.6 L505.2 972.8 L510.9 967.7 L494.7 965.5ZM524.7 975.5 L541.1 977.7 L546.6 972.5 L530.3 970.3ZM560.8 980.3 L577.4 982.6 L582.8 977.3 L566.2 975.1ZM597.3 985.3 L614.2 987.6 L619.3 982.2 L602.6 980ZM634.3 990.3 L651.3 992.6 L656.3 987.2 L639.4 984.9ZM671.7 995.3 L688.9 997.7 L693.6 992.2 L676.5 989.9ZM709.5 1000.5 L726.9 1002.8 L731.4 997.3 L714.1 995ZM747.7 1005.6 L765.3 1008 L769.7 1002.4 L752.2 1000.1ZM786.4 1010.9 L804.2 1013.3 L808.3 1007.6 L790.6 1005.3Z"/>
<path d="M266.8 926.2 L281.7 928.2 L288.4 923.6 L273.6 921.6ZM299.5 930.6 L314.6 932.6 L321.1 927.9 L306.1 925.9ZM332.6 935 L347.8 937 L354.2 932.3 L339.1 930.3ZM366.1 939.4 L381.4 941.5 L387.7 936.7 L372.4 934.7ZM399.9 943.9 L415.4 946 L421.5 941.2 L406 939.1ZM434 948.5 L449.7 950.6 L455.6 945.7 L440 943.6ZM468.5 953.1 L484.4 955.2 L490.2 950.2 L474.4 948.2ZM503.5 957.7 L519.5 959.8 L525.1 954.9 L509.1 952.7ZM538.7 962.4 L555 964.6 L560.3 959.5 L544.2 957.4ZM574.4 967.2 L590.8 969.3 L596 964.2 L579.7 962.1ZM610.5 971.9 L627.1 974.2 L632.1 969 L615.6 966.8ZM647 976.8 L663.7 979 L668.5 973.8 L651.9 971.6ZM683.8 981.7 L700.8 984 L705.4 978.7 L688.5 976.4ZM721.1 986.7 L738.3 988.9 L742.7 983.6 L725.6 981.3ZM758.8 991.7 L776.2 994 L780.4 988.6 L763.1 986.3ZM797 996.7 L814.5 999.1 L818.5 993.6 L801.1 991.3Z"/>
<path d="M283.7 914.6 L298.5 916.5 L304.9 912 L290.3 910.1ZM316.1 918.8 L331 920.8 L337.3 916.2 L322.5 914.3ZM348.8 923.1 L363.8 925.1 L370 920.5 L355.1 918.5ZM381.8 927.4 L397 929.4 L403.1 924.8 L387.9 922.8ZM415.2 931.8 L430.6 933.8 L436.5 929.1 L421.2 927.1ZM449 936.2 L464.5 938.2 L470.2 933.5 L454.8 931.5ZM483.1 940.7 L498.8 942.7 L504.3 937.9 L488.7 935.9ZM517.6 945.2 L533.4 947.3 L538.8 942.4 L523 940.4ZM552.4 949.7 L568.4 951.8 L573.6 946.9 L557.7 944.9ZM587.6 954.3 L603.8 956.5 L608.9 951.5 L592.7 949.4ZM623.2 959 L639.6 961.1 L644.5 956.1 L628.2 954ZM659.2 963.7 L675.8 965.9 L680.5 960.8 L664 958.7ZM695.6 968.5 L712.3 970.7 L716.8 965.5 L700.2 963.4ZM732.4 973.3 L749.3 975.5 L753.6 970.3 L736.8 968.1ZM769.6 978.1 L786.7 980.4 L790.8 975.1 L773.8 972.9ZM807.2 983.1 L824.5 985.3 L828.4 980 L811.2 977.8Z"/>
<path d="M300.2 903.3 L314.7 905.2 L321.1 900.8 L306.6 898.9ZM332.2 907.4 L346.9 909.3 L353.1 904.9 L338.4 903ZM364.5 911.6 L379.4 913.5 L385.4 909 L370.6 907.1ZM397.2 915.8 L412.2 917.7 L418 913.2 L403.1 911.3ZM430.2 920 L445.3 922 L451.1 917.4 L436 915.5ZM463.5 924.3 L478.8 926.3 L484.4 921.7 L469.1 919.7ZM497.2 928.6 L512.7 930.6 L518.1 926 L502.7 924ZM531.2 933 L546.9 935 L552.1 930.3 L536.6 928.3ZM565.7 937.4 L581.5 939.5 L586.6 934.7 L570.8 932.7ZM600.4 941.9 L616.4 944 L621.3 939.2 L605.4 937.1ZM635.6 946.4 L651.8 948.5 L656.5 943.6 L640.4 941.6ZM671.1 951 L687.5 953.1 L692 948.2 L675.8 946.1ZM707 955.6 L723.6 957.7 L727.9 952.8 L711.5 950.7ZM743.4 960.3 L760.1 962.4 L764.2 957.4 L747.6 955.3ZM780.1 965 L796.9 967.2 L800.9 962.1 L784.1 960ZM817.2 969.8 L834.2 972 L838 966.8 L821 964.7Z"/>
<path d="M316.2 892.3 L330.6 894.1 L336.7 889.9 L322.4 888.1ZM347.8 896.3 L362.4 898.1 L368.4 893.8 L353.9 892ZM379.8 900.3 L394.5 902.2 L400.3 897.9 L385.7 896ZM412.1 904.4 L426.9 906.3 L432.6 901.9 L417.8 900.1ZM444.7 908.6 L459.7 910.5 L465.2 906 L450.3 904.1ZM477.6 912.7 L492.8 914.6 L498.2 910.2 L483.1 908.3ZM510.9 916.9 L526.2 918.9 L531.5 914.3 L516.2 912.4ZM544.6 921.2 L560 923.1 L565.1 918.6 L549.7 916.6ZM578.5 925.5 L594.2 927.5 L599.1 922.8 L583.5 920.9ZM612.9 929.8 L628.7 931.8 L633.4 927.2 L617.7 925.2ZM647.6 934.2 L663.6 936.3 L668.2 931.5 L652.3 929.5ZM682.7 938.7 L698.8 940.7 L703.2 935.9 L687.2 933.9ZM718.1 943.2 L734.5 945.2 L738.7 940.4 L722.5 938.3ZM754 947.7 L770.5 949.8 L774.5 944.9 L758.1 942.8ZM790.2 952.3 L806.9 954.4 L810.7 949.4 L794.2 947.4ZM826.8 956.9 L843.7 959 L847.3 954 L830.6 951.9Z"/>
<path d="M331.8 881.6 L346 883.4 L352 879.2 L337.8 877.5ZM363 885.5 L377.4 887.3 L383.3 883.1 L368.9 881.3ZM394.6 889.4 L409.2 891.2 L414.9 887 L400.4 885.2ZM426.6 893.4 L441.2 895.2 L446.8 890.9 L432.2 889.1ZM458.8 897.4 L473.6 899.3 L479 894.9 L464.3 893.1ZM491.4 901.5 L506.3 903.3 L511.6 899 L496.7 897.1ZM524.3 905.6 L539.4 907.4 L544.5 903 L529.4 901.2ZM557.5 909.7 L572.8 911.6 L577.7 907.1 L562.5 905.3ZM591.1 913.9 L606.5 915.8 L611.3 911.3 L595.9 909.4ZM625 918.1 L640.6 920 L645.2 915.5 L629.7 913.6ZM659.3 922.4 L675 924.3 L679.5 919.7 L663.8 917.8ZM693.9 926.7 L709.8 928.7 L714.1 924 L698.3 922.1ZM728.9 931 L745 933 L749.1 928.4 L733.1 926.4ZM764.3 935.5 L780.6 937.5 L784.5 932.7 L768.3 930.7ZM800.1 939.9 L816.5 941.9 L820.2 937.2 L803.9 935.1ZM836.2 944.4 L852.8 946.5 L856.4 941.6 L839.8 939.6Z"/>
<path d="M346.9 871.2 L361 872.9 L366.8 868.9 L352.8 867.2ZM377.8 875 L392.1 876.7 L397.8 872.6 L383.6 870.9ZM409.1 878.8 L423.5 880.6 L429 876.4 L414.7 874.7ZM440.6 882.7 L455.1 884.4 L460.6 880.3 L446.1 878.5ZM472.5 886.6 L487.2 888.4 L492.4 884.2 L477.8 882.4ZM504.7 890.5 L519.5 892.3 L524.6 888.1 L509.9 886.3ZM537.2 894.5 L552.2 896.3 L557.1 892 L542.3 890.2ZM570.1 898.5 L585.2 900.4 L590 896 L575 894.2ZM603.2 902.6 L618.5 904.5 L623.2 900.1 L608 898.2ZM636.8 906.7 L652.2 908.6 L656.7 904.2 L641.3 902.3ZM670.6 910.8 L686.2 912.8 L690.5 908.3 L675 906.4ZM704.8 915 L720.6 917 L724.7 912.5 L709.1 910.5ZM739.4 919.3 L755.3 921.2 L759.3 916.7 L743.5 914.7ZM774.3 923.6 L790.4 925.5 L794.2 920.9 L778.2 919ZM809.6 927.9 L825.9 929.9 L829.5 925.2 L813.4 923.2ZM845.3 932.3 L861.7 934.3 L865.2 929.6 L848.8 927.6Z"/>
<path d="M361.7 861 L375.6 862.7 L381.3 858.8 L367.4 857.1ZM392.3 864.7 L406.3 866.4 L411.9 862.4 L397.9 860.8ZM423.2 868.5 L437.4 870.2 L442.8 866.2 L428.6 864.5ZM454.4 872.2 L468.7 873.9 L474 869.9 L459.7 868.2ZM485.9 876 L500.4 877.8 L505.5 873.7 L491.1 871.9ZM517.7 879.9 L532.3 881.6 L537.3 877.5 L522.8 875.7ZM549.8 883.7 L564.6 885.5 L569.4 881.3 L554.7 879.6ZM582.3 887.7 L597.2 889.5 L601.9 885.2 L587.1 883.5ZM615.1 891.6 L630.2 893.4 L634.7 889.2 L619.7 887.4ZM648.2 895.6 L663.4 897.4 L667.8 893.1 L652.7 891.3ZM681.7 899.6 L697 901.5 L701.2 897.2 L685.9 895.3ZM715.5 903.7 L731 905.6 L735 901.2 L719.6 899.4ZM749.6 907.8 L765.3 909.7 L769.2 905.3 L753.6 903.4ZM784.1 912 L799.9 913.9 L803.7 909.4 L787.9 907.5ZM818.9 916.2 L835 918.1 L838.5 913.6 L822.6 911.7ZM854.1 920.5 L870.3 922.4 L873.7 917.8 L857.6 915.9Z"/>
<path d="M376 851.2 L389.8 852.8 L395.3 849 L381.6 847.3ZM406.3 854.8 L420.2 856.4 L425.6 852.5 L411.8 850.9ZM436.9 858.4 L450.9 860.1 L456.2 856.1 L442.2 854.5ZM467.7 862 L481.9 863.7 L487 859.8 L472.9 858.1ZM498.9 865.8 L513.2 867.5 L518.2 863.5 L503.9 861.8ZM530.4 869.5 L544.8 871.2 L549.7 867.2 L535.3 865.5ZM562.1 873.3 L576.7 875 L581.4 870.9 L566.9 869.2ZM594.2 877.1 L609 878.8 L613.5 874.7 L598.8 873ZM626.6 880.9 L641.5 882.7 L645.9 878.6 L631.1 876.8ZM659.3 884.8 L674.4 886.6 L678.6 882.4 L663.7 880.6ZM692.4 888.7 L707.6 890.5 L711.7 886.3 L696.6 884.5ZM725.8 892.7 L741.1 894.5 L745.1 890.3 L729.8 888.5ZM759.5 896.7 L775 898.6 L778.8 894.2 L763.3 892.4ZM793.6 900.8 L809.2 902.6 L812.8 898.3 L797.2 896.4ZM828 904.9 L843.8 906.7 L847.2 902.3 L831.5 900.5ZM862.7 909 L878.7 910.9 L882 906.4 L866.1 904.6Z"/>
<path d="M390 841.5 L403.7 843.1 L409.1 839.4 L395.5 837.8ZM420 845 L433.7 846.6 L439 842.9 L425.3 841.3ZM450.2 848.6 L464.1 850.2 L469.2 846.4 L455.4 844.8ZM480.7 852.1 L494.8 853.8 L499.8 849.9 L485.8 848.3ZM511.6 855.7 L525.7 857.4 L530.6 853.5 L516.5 851.9ZM542.7 859.4 L557 861.1 L561.7 857.1 L547.5 855.5ZM574.1 863.1 L588.5 864.8 L593.1 860.8 L578.7 859.1ZM605.8 866.8 L620.4 868.5 L624.8 864.5 L610.3 862.8ZM637.8 870.5 L652.5 872.2 L656.8 868.2 L642.2 866.5ZM670.2 874.3 L685 876.1 L689.2 872 L674.4 870.3ZM702.8 878.1 L717.8 879.9 L721.8 875.8 L706.9 874ZM735.8 882 L751 883.8 L754.8 879.6 L739.7 877.9ZM769.1 885.9 L784.4 887.7 L788.1 883.5 L772.9 881.7ZM802.8 889.8 L818.2 891.6 L821.8 887.4 L806.4 885.6ZM836.8 893.8 L852.4 895.6 L855.7 891.4 L840.2 889.5ZM871.1 897.8 L886.9 899.7 L890.1 895.3 L874.4 893.5Z"/>
<path d="M403.7 832.1 L417.2 833.7 L422.4 830.1 L409 828.5ZM433.3 835.6 L446.9 837.1 L452.1 833.5 L438.5 831.9ZM463.2 839 L477 840.6 L482 836.9 L468.3 835.3ZM493.4 842.5 L507.3 844.1 L512.2 840.3 L498.4 838.8ZM523.9 846 L537.9 847.6 L542.6 843.8 L528.7 842.2ZM554.7 849.6 L568.8 851.2 L573.4 847.4 L559.3 845.7ZM585.7 853.1 L600 854.8 L604.5 850.9 L590.3 849.3ZM617.1 856.7 L631.5 858.4 L635.8 854.5 L621.5 852.9ZM648.7 860.4 L663.3 862.1 L667.5 858.1 L653 856.5ZM680.7 864.1 L695.4 865.8 L699.4 861.8 L684.8 860.1ZM713 867.8 L727.8 869.5 L731.7 865.5 L717 863.8ZM745.6 871.6 L760.6 873.3 L764.3 869.2 L749.4 867.5ZM778.5 875.4 L793.6 877.1 L797.2 873 L782.2 871.3ZM811.7 879.2 L827 881 L830.4 876.8 L815.2 875.1ZM845.3 883.1 L860.7 884.8 L864 880.7 L848.7 878.9ZM879.2 887 L894.8 888.8 L897.9 884.6 L882.4 882.8Z"/>
<path d="M417 823 L430.3 824.5 L435.5 821 L422.2 819.5ZM446.3 826.3 L459.8 827.9 L464.8 824.3 L451.4 822.8ZM475.9 829.7 L489.5 831.2 L494.4 827.6 L480.8 826.1ZM505.8 833.1 L519.5 834.6 L524.2 831 L510.6 829.4ZM535.9 836.5 L549.8 838.1 L554.4 834.4 L540.6 832.8ZM566.4 840 L580.3 841.6 L584.8 837.8 L570.9 836.3ZM597.1 843.5 L611.2 845.1 L615.5 841.3 L601.5 839.7ZM628.1 847 L642.3 848.6 L646.5 844.8 L632.4 843.2ZM659.4 850.5 L673.8 852.2 L677.8 848.3 L663.5 846.7ZM691 854.1 L705.5 855.8 L709.4 851.9 L695 850.3ZM722.9 857.8 L737.6 859.4 L741.3 855.5 L726.7 853.9ZM755.1 861.4 L769.9 863.1 L773.5 859.2 L758.8 857.5ZM787.6 865.1 L802.6 866.8 L806.1 862.8 L791.2 861.1ZM820.5 868.8 L835.6 870.6 L838.9 866.5 L823.9 864.8ZM853.6 872.6 L868.9 874.3 L872.1 870.3 L856.9 868.6ZM887.1 876.4 L902.5 878.2 L905.5 874.1 L890.2 872.3Z"/>
<path d="M430 814.1 L443.2 815.5 L448.2 812.1 L435 810.6ZM459 817.3 L472.3 818.8 L477.2 815.3 L463.9 813.8ZM488.3 820.6 L501.7 822.1 L506.5 818.6 L493.1 817.1ZM517.8 823.9 L531.4 825.4 L536 821.9 L522.5 820.4ZM547.7 827.2 L561.4 828.8 L565.9 825.2 L552.2 823.7ZM577.8 830.6 L591.6 832.2 L596 828.5 L582.2 827ZM608.1 834 L622.1 835.6 L626.3 831.9 L612.4 830.4ZM638.8 837.5 L652.9 839 L657 835.3 L643 833.8ZM669.8 840.9 L684 842.5 L687.9 838.8 L673.8 837.2ZM701 844.4 L715.4 846 L719.2 842.3 L704.9 840.7ZM732.5 848 L747 849.6 L750.7 845.8 L736.3 844.2ZM764.4 851.5 L779 853.2 L782.6 849.3 L768 847.7ZM796.5 855.1 L811.3 856.8 L814.7 852.9 L800 851.3ZM829 858.8 L843.9 860.4 L847.1 856.5 L832.3 854.9ZM861.8 862.4 L876.8 864.1 L879.9 860.2 L864.9 858.5ZM894.8 866.1 L910 867.8 L913 863.8 L897.8 862.2Z"/>
<path d="M442.6 805.4 L455.7 806.8 L460.6 803.4 L447.6 802ZM471.4 808.5 L484.6 810 L489.3 806.6 L476.2 805.1ZM500.3 811.7 L513.7 813.2 L518.3 809.8 L505 808.3ZM529.6 815 L543 816.4 L547.5 813 L534.2 811.5ZM559.1 818.2 L572.6 819.7 L577 816.2 L563.5 814.7ZM588.9 821.5 L602.5 823 L606.8 819.5 L593.2 818ZM618.9 824.8 L632.7 826.3 L636.9 822.8 L623.1 821.3ZM649.2 828.2 L663.2 829.7 L667.2 826.1 L653.3 824.6ZM679.9 831.6 L693.9 833.1 L697.8 829.5 L683.8 827.9ZM710.8 835 L724.9 836.5 L728.7 832.9 L714.5 831.3ZM741.9 838.4 L756.3 840 L759.9 836.3 L745.6 834.7ZM773.4 841.9 L787.9 843.5 L791.3 839.7 L776.9 838.2ZM805.2 845.4 L819.8 847 L823.1 843.2 L808.6 841.6ZM837.3 848.9 L852 850.6 L855.2 846.7 L840.5 845.1ZM869.6 852.5 L884.5 854.2 L887.5 850.3 L872.7 848.7ZM902.3 856.1 L917.4 857.8 L920.2 853.9 L905.3 852.3Z"/>
<path d="M455 796.9 L467.9 798.3 L472.7 795 L459.8 793.6ZM483.4 800 L496.5 801.4 L501.1 798.1 L488.1 796.6ZM512.1 803.1 L525.3 804.5 L529.8 801.2 L516.7 799.7ZM541 806.2 L554.3 807.7 L558.7 804.3 L545.5 802.9ZM570.2 809.4 L583.7 810.9 L587.9 807.5 L574.6 806ZM599.7 812.6 L613.2 814.1 L617.4 810.6 L603.9 809.2ZM629.4 815.9 L643.1 817.3 L647.1 813.9 L633.5 812.4ZM659.4 819.1 L673.2 820.6 L677.1 817.1 L663.4 815.6ZM689.7 822.4 L703.6 823.9 L707.4 820.4 L693.5 818.9ZM720.3 825.7 L734.3 827.3 L737.9 823.7 L724 822.2ZM751.1 829.1 L765.3 830.6 L768.8 827 L754.7 825.5ZM782.2 832.5 L796.5 834 L799.9 830.4 L785.6 828.9ZM813.6 835.9 L828.1 837.5 L831.3 833.8 L816.9 832.2ZM845.3 839.4 L859.9 840.9 L863 837.2 L848.5 835.7ZM877.3 842.8 L892 844.4 L895 840.7 L880.3 839.1ZM909.7 846.4 L924.5 848 L927.3 844.2 L912.5 842.6Z"/>
<path d="M467.1 788.6 L479.9 789.9 L484.5 786.7 L471.8 785.4ZM495.2 791.6 L508.1 793 L512.7 789.7 L499.8 788.4ZM523.6 794.6 L536.6 796 L541.1 792.8 L528.1 791.4ZM552.2 797.7 L565.4 799.1 L569.7 795.8 L556.6 794.4ZM581.1 800.8 L594.4 802.2 L598.6 798.9 L585.4 797.5ZM610.3 803.9 L623.7 805.4 L627.7 802 L614.4 800.6ZM639.7 807.1 L653.2 808.6 L657.1 805.2 L643.7 803.7ZM669.4 810.3 L683 811.8 L686.8 808.3 L673.2 806.9ZM699.3 813.5 L713.1 815 L716.8 811.5 L703.1 810.1ZM729.5 816.8 L743.4 818.2 L747 814.8 L733.1 813.3ZM760 820 L774 821.5 L777.5 818 L763.5 816.5ZM790.8 823.3 L804.9 824.9 L808.2 821.3 L794.1 819.8ZM821.9 826.7 L836.1 828.2 L839.3 824.6 L825.1 823.1ZM853.2 830 L867.6 831.6 L870.6 828 L856.3 826.4ZM884.8 833.4 L899.4 835 L902.2 831.3 L887.8 829.8ZM916.8 836.9 L931.4 838.4 L934.2 834.7 L919.6 833.2Z"/>
<path d="M478.9 780.5 L491.5 781.8 L496.1 778.7 L483.4 777.3ZM506.7 783.4 L519.5 784.8 L523.9 781.6 L511.2 780.3ZM534.8 786.4 L547.7 787.8 L552 784.6 L539.2 783.2ZM563.2 789.4 L576.2 790.8 L580.4 787.6 L567.4 786.2ZM591.8 792.4 L604.9 793.8 L609 790.6 L595.9 789.2ZM620.6 795.5 L633.8 796.9 L637.8 793.6 L624.6 792.2ZM649.7 798.6 L663.1 800 L666.9 796.7 L653.6 795.3ZM679.1 801.7 L692.5 803.1 L696.3 799.8 L682.8 798.3ZM708.7 804.8 L722.3 806.3 L725.9 802.9 L712.3 801.5ZM738.6 808 L752.3 809.4 L755.8 806 L742.1 804.6ZM768.7 811.2 L782.6 812.6 L785.9 809.2 L772.1 807.8ZM799.2 814.4 L813.2 815.9 L816.4 812.4 L802.4 810.9ZM829.9 817.7 L844 819.1 L847.1 815.6 L833 814.2ZM860.9 820.9 L875.1 822.4 L878 818.9 L863.9 817.4ZM892.2 824.2 L906.5 825.8 L909.3 822.2 L895 820.7ZM923.7 827.6 L938.2 829.1 L940.9 825.5 L926.4 824Z"/>
<path d="M490.4 772.6 L502.9 773.9 L507.3 770.8 L494.8 769.5ZM517.9 775.4 L530.6 776.8 L534.9 773.7 L522.3 772.4ZM545.8 778.4 L558.5 779.7 L562.7 776.6 L550 775.2ZM573.8 781.3 L586.7 782.6 L590.8 779.5 L578 778.1ZM602.1 784.2 L615.1 785.6 L619.1 782.4 L606.2 781.1ZM630.7 787.2 L643.8 788.6 L647.7 785.4 L634.6 784ZM659.5 790.2 L672.7 791.6 L676.5 788.4 L663.3 787ZM688.5 793.3 L701.9 794.7 L705.5 791.4 L692.2 790ZM717.8 796.3 L731.3 797.7 L734.8 794.4 L721.4 793.1ZM747.4 799.4 L761 800.8 L764.4 797.5 L750.9 796.1ZM777.2 802.5 L790.9 804 L794.2 800.6 L780.6 799.2ZM807.3 805.7 L821.2 807.1 L824.3 803.7 L810.5 802.3ZM837.7 808.9 L851.7 810.3 L854.7 806.9 L840.8 805.5ZM868.4 812.1 L882.4 813.5 L885.3 810.1 L871.3 808.6ZM899.3 815.3 L913.5 816.8 L916.2 813.3 L902.1 811.8ZM930.5 818.6 L944.8 820.1 L947.4 816.5 L933.1 815.1Z"/>
<path d="M501.6 764.8 L514 766.1 L518.4 763.1 L506 761.8ZM528.9 767.6 L541.5 768.9 L545.7 765.9 L533.2 764.6ZM556.5 770.5 L569.1 771.8 L573.2 768.7 L560.6 767.4ZM584.2 773.4 L597 774.7 L601 771.6 L588.3 770.3ZM612.3 776.2 L625.1 777.6 L629 774.5 L616.2 773.1ZM640.5 779.2 L653.5 780.5 L657.3 777.4 L644.3 776ZM669 782.1 L682.1 783.4 L685.8 780.3 L672.7 778.9ZM697.8 785.1 L711 786.4 L714.5 783.2 L701.4 781.9ZM726.8 788.1 L740.1 789.4 L743.5 786.2 L730.3 784.8ZM756 791.1 L769.5 792.5 L772.8 789.2 L759.4 787.8ZM785.5 794.1 L799.1 795.5 L802.3 792.2 L788.8 790.9ZM815.3 797.2 L829 798.6 L832 795.3 L818.4 793.9ZM845.4 800.3 L859.1 801.7 L862.1 798.4 L848.3 797ZM875.7 803.4 L889.6 804.8 L892.4 801.5 L878.5 800.1ZM906.2 806.6 L920.3 808 L922.9 804.6 L909 803.2ZM937.1 809.7 L951.3 811.2 L953.8 807.8 L939.7 806.3Z"/>
<path d="M512.6 757.3 L524.9 758.5 L529.1 755.6 L516.9 754.4ZM539.6 760 L552.1 761.3 L556.2 758.3 L543.8 757.1ZM566.9 762.8 L579.4 764.1 L583.5 761.1 L571 759.8ZM594.4 765.6 L607 766.9 L611 763.9 L598.4 762.6ZM622.2 768.4 L634.9 769.7 L638.7 766.7 L626 765.4ZM650.1 771.3 L663 772.6 L666.7 769.5 L653.9 768.2ZM678.3 774.1 L691.3 775.5 L694.9 772.4 L682 771.1ZM706.8 777 L719.9 778.4 L723.3 775.3 L710.3 773.9ZM735.5 780 L748.7 781.3 L752 778.2 L738.9 776.8ZM764.4 782.9 L777.7 784.3 L781 781.1 L767.7 779.8ZM793.6 785.9 L807 787.2 L810.2 784.1 L796.8 782.7ZM823.1 788.9 L836.6 790.3 L839.6 787 L826.1 785.7ZM852.8 791.9 L866.5 793.3 L869.3 790 L855.7 788.7ZM882.8 795 L896.6 796.4 L899.3 793.1 L885.6 791.7ZM913 798 L926.9 799.4 L929.5 796.1 L915.7 794.7ZM943.5 801.1 L957.5 802.6 L960 799.2 L946.1 797.8Z"/>
</g>
</g>
<g stroke-width="0.6" stroke-linejoin="round">
<polygon points="524.1,758.1 527.5,755.8 527.2,723.9 523.8,726.1" fill="#b18484" stroke="#b18484"/>
<polygon points="514.2,757.1 524.1,758.1 523.8,726.1 513.9,725.2" fill="#e6abab" stroke="#e6abab"/>
<polygon points="513.9,725.2 523.8,726.1 527.2,723.9 517.4,722.9" fill="#e6abab" stroke="#e6abab"/>
<polygon points="551.2,760.9 554.5,758.5 553.3,512.8 549.8,514.3" fill="#b18484" stroke="#b18484"/>
<polygon points="541.3,759.9 551.2,760.9 549.8,514.3 539.6,513.7" fill="#e6abab" stroke="#e6abab"/>
<polygon points="539.6,513.7 549.8,514.3 553.3,512.8 543.1,512.1" fill="#e6abab" stroke="#e6abab"/>
<polygon points="578.6,763.7 581.8,761.3 581.7,729.1 578.5,731.4" fill="#b18484" stroke="#b18484"/>
<polygon points="568.6,762.6 578.6,763.7 578.5,731.4 568.5,730.5" fill="#e6abab" stroke="#e6abab"/>
<polygon points="568.5,730.5 578.5,731.4 581.7,729.1 571.7,728.2" fill="#e6abab" stroke="#e6abab"/>
<polygon points="606.2,766.5 609.3,764.1 609.3,748 606.2,750.3" fill="#b18484" stroke="#b18484"/>
<polygon points="596.1,765.4 606.2,766.5 606.2,750.3 596.1,749.3" fill="#e6abab" stroke="#e6abab"/>
<polygon points="596.1,749.3 606.2,750.3 609.3,748 599.2,747" fill="#e6abab" stroke="#e6abab"/>
<polygon points="634,769.3 637,766.9 637.4,685.5 634.3,687.6" fill="#b18484" stroke="#b18484"/>
<polygon points="623.8,768.3 634,769.3 634.3,687.6 624,686.7" fill="#e6abab" stroke="#e6abab"/>
<polygon points="624,686.7 634.3,687.6 637.4,685.5 627.1,684.6" fill="#e6abab" stroke="#e6abab"/>
<polygon points="662.1,772.1 665,769.7 665.9,638.2 662.9,640.2" fill="#b18484" stroke="#b18484"/>
<polygon points="651.8,771.1 662.1,772.1 662.9,640.2 652.5,639.4" fill="#e6abab" stroke="#e6abab"/>
<polygon points="652.5,639.4 662.9,640.2 665.9,638.2 655.6,637.4" fill="#e6abab" stroke="#e6abab"/>
<polygon points="690.4,775 693.2,772.6 694.1,690.5 691.2,692.7" fill="#b18484" stroke="#b18484"/>
<polygon points="680,774 690.4,775 691.2,692.7 680.7,691.8" fill="#e6abab" stroke="#e6abab"/>
<polygon points="680.7,691.8 691.2,692.7 694.1,690.5 683.6,689.6" fill="#e6abab" stroke="#e6abab"/>
<polygon points="718.9,777.9 721.7,775.4 722.1,742.7 719.3,745.1" fill="#b18484" stroke="#b18484"/>
<polygon points="708.4,776.9 718.9,777.9 719.3,745.1 708.8,744" fill="#e6abab" stroke="#e6abab"/>
<polygon points="708.8,744 719.3,745.1 722.1,742.7 711.7,741.7" fill="#e6abab" stroke="#e6abab"/>
<polygon points="747.7,780.9 750.4,778.3 752,678.9 749.3,681.1" fill="#b18484" stroke="#b18484"/>
<polygon points="737.1,779.8 747.7,780.9 749.3,681.1 738.7,680.2" fill="#e6abab" stroke="#e6abab"/>
<polygon points="738.7,680.2 749.3,681.1 752,678.9 741.4,678" fill="#e6abab" stroke="#e6abab"/>
<polygon points="776.7,783.8 779.3,781.3 780.1,741.6 777.5,744" fill="#b18484" stroke="#b18484"/>
<polygon points="766.1,782.7 776.7,783.8 777.5,744 766.8,743" fill="#e6abab" stroke="#e6abab"/>
<polygon points="766.8,743 777.5,744 780.1,741.6 769.5,740.6" fill="#e6abab" stroke="#e6abab"/>
<polygon points="806,786.8 808.5,784.2 811.2,667.1 808.7,669.2" fill="#b18484" stroke="#b18484"/>
<polygon points="795.3,785.7 806,786.8 808.7,669.2 797.8,668.3" fill="#e6abab" stroke="#e6abab"/>
<polygon points="797.8,668.3 808.7,669.2 811.2,667.1 800.4,666.2" fill="#e6abab" stroke="#e6abab"/>
<polygon points="835.6,789.8 838,787.2 840,710.3 837.6,712.6" fill="#b18484" stroke="#b18484"/>
<polygon points="824.7,788.7 835.6,789.8 837.6,712.6 826.7,711.6" fill="#e6abab" stroke="#e6abab"/>
<polygon points="826.7,711.6 837.6,712.6 840,710.3 829.1,709.3" fill="#e6abab" stroke="#e6abab"/>
<polygon points="865.4,792.8 867.7,790.2 872.7,620.5 870.4,622.5" fill="#b18484" stroke="#b18484"/>
<polygon points="854.5,791.7 865.4,792.8 870.4,622.5 859.3,621.7" fill="#e6abab" stroke="#e6abab"/>
<polygon points="859.3,621.7 870.4,622.5 872.7,620.5 861.6,619.7" fill="#e6abab" stroke="#e6abab"/>
<polygon points="895.4,795.9 897.6,793.3 898.7,759.7 896.6,762.2" fill="#b18484" stroke="#b18484"/>
<polygon points="884.4,794.8 895.4,795.9 896.6,762.2 885.5,761.1" fill="#e6abab" stroke="#e6abab"/>
<polygon points="885.5,761.1 896.6,762.2 898.7,759.7 887.7,758.6" fill="#e6abab" stroke="#e6abab"/>
<polygon points="925.8,799 927.9,796.3 931.6,694.5 929.5,696.7" fill="#b18484" stroke="#b18484"/>
<polygon points="914.7,797.8 925.8,799 929.5,696.7 918.3,695.8" fill="#e6abab" stroke="#e6abab"/>
<polygon points="918.3,695.8 929.5,696.7 931.6,694.5 920.4,693.5" fill="#e6abab" stroke="#e6abab"/>
<polygon points="956.4,802.1 958.4,799.4 959.7,765.6 957.7,768.1" fill="#b18484" stroke="#b18484"/>
<polygon points="945.2,800.9 956.4,802.1 957.7,768.1 946.5,767" fill="#e6abab" stroke="#e6abab"/>
<polygon points="946.5,767 957.7,768.1 959.7,765.6 948.5,764.5" fill="#e6abab" stroke="#e6abab"/>
<polygon points="503.3,764.7 513.2,765.7 516.7,763.3 506.8,762.3" fill="#687288"/>
<polygon points="540.6,768.5 544,766.1 541.8,431.8 538.3,433" fill="#8592af" stroke="#8592af"/>
<polygon points="530.6,767.5 540.6,768.5 538.3,433 527.9,432.5" fill="#adbee3" stroke="#adbee3"/>
<polygon points="527.9,432.5 538.3,433 541.8,431.8 531.5,431.2" fill="#adbee3" stroke="#adbee3"/>
<polygon points="558.1,770.3 568.3,771.4 571.5,768.9 561.5,767.9" fill="#687288"/>
<polygon points="585.9,773.2 596.1,774.2 599.3,771.8 589.2,770.7" fill="#687288"/>
<polygon points="624.2,777.1 627.3,774.6 627.4,768.1 624.2,770.6" fill="#8592af" stroke="#8592af"/>
<polygon points="613.9,776.1 624.2,777.1 624.2,770.6 613.9,769.5" fill="#adbee3" stroke="#adbee3"/>
<polygon points="613.9,769.5 624.2,770.6 627.4,768.1 617.1,767.1" fill="#adbee3" stroke="#adbee3"/>
<polygon points="652.6,780 655.6,777.5 657.5,455.3 654.4,456.7" fill="#8592af" stroke="#8592af"/>
<polygon points="642.2,779 652.6,780 654.4,456.7 643.6,456.1" fill="#adbee3" stroke="#adbee3"/>
<polygon points="643.6,456.1 654.4,456.7 657.5,455.3 646.8,454.7" fill="#adbee3" stroke="#adbee3"/>
<polygon points="681.2,783 684.1,780.5 684.2,773.9 681.2,776.4" fill="#8592af" stroke="#8592af"/>
<polygon points="670.7,781.9 681.2,783 681.2,776.4 670.7,775.3" fill="#adbee3" stroke="#adbee3"/>
<polygon points="670.7,775.3 681.2,776.4 684.2,773.9 673.7,772.8" fill="#adbee3" stroke="#adbee3"/>
<polygon points="710,786 712.8,783.4 712.9,780.1 710,782.7" fill="#8592af" stroke="#8592af"/>
<polygon points="699.4,784.9 710,786 710,782.7 699.5,781.6" fill="#adbee3" stroke="#adbee3"/>
<polygon points="699.5,781.6 710,782.7 712.9,780.1 702.4,779" fill="#adbee3" stroke="#adbee3"/>
<polygon points="739.1,789 741.8,786.4 742,776.4 739.2,779" fill="#8592af" stroke="#8592af"/>
<polygon points="728.4,787.9 739.1,789 739.2,779 728.6,777.9" fill="#adbee3" stroke="#adbee3"/>
<polygon points="728.6,777.9 739.2,779 742,776.4 731.4,775.4" fill="#adbee3" stroke="#adbee3"/>
<polygon points="768.4,792 771.1,789.4 776.9,479.6 774.2,481.1" fill="#8592af" stroke="#8592af"/>
<polygon points="757.7,790.9 768.4,792 774.2,481.1 763.1,480.4" fill="#adbee3" stroke="#adbee3"/>
<polygon points="763.1,480.4 774.2,481.1 776.9,479.6 765.9,479" fill="#adbee3" stroke="#adbee3"/>
<polygon points="798.1,795 800.6,792.4 801,775.7 798.4,778.3" fill="#8592af" stroke="#8592af"/>
<polygon points="787.2,793.9 798.1,795 798.4,778.3 787.6,777.2" fill="#adbee3" stroke="#adbee3"/>
<polygon points="787.6,777.2 798.4,778.3 801,775.7 790.2,774.6" fill="#adbee3" stroke="#adbee3"/>
<polygon points="827.9,798.1 830.4,795.5 830.5,788.8 828.1,791.4" fill="#8592af" stroke="#8592af"/>
<polygon points="817,797 827.9,798.1 828.1,791.4 817.2,790.3" fill="#adbee3" stroke="#adbee3"/>
<polygon points="817.2,790.3 828.1,791.4 830.5,788.8 819.6,787.7" fill="#adbee3" stroke="#adbee3"/>
<polygon points="858.1,801.2 860.4,798.6 860.9,781.7 858.5,784.3" fill="#8592af" stroke="#8592af"/>
<polygon points="847,800.1 858.1,801.2 858.5,784.3 847.5,783.2" fill="#adbee3" stroke="#adbee3"/>
<polygon points="847.5,783.2 858.5,784.3 860.9,781.7 849.9,780.6" fill="#adbee3" stroke="#adbee3"/>
<polygon points="888.5,804.4 890.7,801.7 899.7,522.7 897.4,524.4" fill="#8592af" stroke="#8592af"/>
<polygon points="877.3,803.2 888.5,804.4 897.4,524.4 885.9,523.7" fill="#adbee3" stroke="#adbee3"/>
<polygon points="885.9,523.7 897.4,524.4 899.7,522.7 888.3,522" fill="#adbee3" stroke="#adbee3"/>
<polygon points="919.1,807.5 921.3,804.8 922.5,770.7 920.4,773.3" fill="#8592af" stroke="#8592af"/>
<polygon points="907.9,806.4 919.1,807.5 920.4,773.3 909.1,772.2" fill="#adbee3" stroke="#adbee3"/>
<polygon points="909.1,772.2 920.4,773.3 922.5,770.7 911.3,769.6" fill="#adbee3" stroke="#adbee3"/>
<polygon points="950.1,810.7 952.1,808 952.8,790.9 950.8,793.6" fill="#8592af" stroke="#8592af"/>
<polygon points="938.8,809.5 950.1,810.7 950.8,793.6 939.4,792.4" fill="#adbee3" stroke="#adbee3"/>
<polygon points="939.4,792.4 950.8,793.6 952.8,790.9 941.5,789.8" fill="#adbee3" stroke="#adbee3"/>
<polygon points="502.1,773.4 505.7,771 505.6,764.5 502,766.9" fill="#c17d45" stroke="#c17d45"/>
<polygon points="492.1,772.4 502.1,773.4 502,766.9 492,765.9" fill="#fba25a" stroke="#fba25a"/>
<polygon points="492,765.9 502,766.9 505.6,764.5 495.6,763.5" fill="#fba25a" stroke="#fba25a"/>
<polygon points="529.8,776.3 533.2,773.8 530.8,453.3 527.2,454.6" fill="#c17d45" stroke="#c17d45"/>
<polygon points="519.6,775.3 529.8,776.3 527.2,454.6 516.7,454.1" fill="#fba25a" stroke="#fba25a"/>
<polygon points="516.7,454.1 527.2,454.6 530.8,453.3 520.3,452.7" fill="#fba25a" stroke="#fba25a"/>
<polygon points="557.7,779.2 561.1,776.7 561,770.2 557.6,772.7" fill="#c17d45" stroke="#c17d45"/>
<polygon points="547.5,778.2 557.7,779.2 557.6,772.7 547.4,771.6" fill="#fba25a" stroke="#fba25a"/>
<polygon points="547.4,771.6 557.6,772.7 561,770.2 550.8,769.1" fill="#fba25a" stroke="#fba25a"/>
<polygon points="585.8,782.2 589.1,779.7 589.1,776.4 585.8,778.9" fill="#c17d45" stroke="#c17d45"/>
<polygon points="575.5,781.1 585.8,782.2 585.8,778.9 575.5,777.8" fill="#fba25a" stroke="#fba25a"/>
<polygon points="575.5,777.8 585.8,778.9 589.1,776.4 578.8,775.3" fill="#fba25a" stroke="#fba25a"/>
<polygon points="614.2,785.1 617.4,782.6 617.5,756.2 614.3,758.6" fill="#c17d45" stroke="#c17d45"/>
<polygon points="603.8,784.1 614.2,785.1 614.3,758.6 603.8,757.6" fill="#fba25a" stroke="#fba25a"/>
<polygon points="603.8,757.6 614.3,758.6 617.5,756.2 607.1,755.1" fill="#fba25a" stroke="#fba25a"/>
<polygon points="642.9,788.1 646,785.6 647.4,495.1 644.2,496.6" fill="#c17d45" stroke="#c17d45"/>
<polygon points="632.4,787 642.9,788.1 644.2,496.6 633.3,496" fill="#fba25a" stroke="#fba25a"/>
<polygon points="633.3,496 644.2,496.6 647.4,495.1 636.6,494.4" fill="#fba25a" stroke="#fba25a"/>
<polygon points="671.8,791.2 674.8,788.6 674.9,775.3 671.9,777.8" fill="#c17d45" stroke="#c17d45"/>
<polygon points="661.2,790 671.8,791.2 671.9,777.8 661.3,776.7" fill="#fba25a" stroke="#fba25a"/>
<polygon points="661.3,776.7 671.9,777.8 674.9,775.3 664.3,774.2" fill="#fba25a" stroke="#fba25a"/>
<polygon points="700.9,794.2 703.8,791.6 703.9,781.6 701,784.1" fill="#c17d45" stroke="#c17d45"/>
<polygon points="690.2,793.1 700.9,794.2 701,784.1 690.3,783" fill="#fba25a" stroke="#fba25a"/>
<polygon points="690.3,783 701,784.1 703.9,781.6 693.3,780.5" fill="#fba25a" stroke="#fba25a"/>
<polygon points="730.3,797.3 733.1,794.6 733.7,754.3 730.9,756.7" fill="#c17d45" stroke="#c17d45"/>
<polygon points="719.5,796.1 730.3,797.3 730.9,756.7 720.1,755.7" fill="#fba25a" stroke="#fba25a"/>
<polygon points="720.1,755.7 730.9,756.7 733.7,754.3 722.9,753.2" fill="#fba25a" stroke="#fba25a"/>
<polygon points="760,800.4 762.7,797.7 767.7,520.2 764.9,521.9" fill="#c17d45" stroke="#c17d45"/>
<polygon points="749.1,799.2 760,800.4 764.9,521.9 753.7,521.2" fill="#fba25a" stroke="#fba25a"/>
<polygon points="753.7,521.2 764.9,521.9 767.7,520.2 756.5,519.5" fill="#fba25a" stroke="#fba25a"/>
<polygon points="789.9,803.5 792.5,800.8 792.8,787.3 790.2,789.9" fill="#c17d45" stroke="#c17d45"/>
<polygon points="778.9,802.3 789.9,803.5 790.2,789.9 779.2,788.8" fill="#fba25a" stroke="#fba25a"/>
<polygon points="779.2,788.8 790.2,789.9 792.8,787.3 781.9,786.2" fill="#fba25a" stroke="#fba25a"/>
<polygon points="820.1,806.6 822.6,803.9 822.9,790.4 820.4,793" fill="#c17d45" stroke="#c17d45"/>
<polygon points="809,805.5 820.1,806.6 820.4,793 809.4,791.9" fill="#fba25a" stroke="#fba25a"/>
<polygon points="809.4,791.9 820.4,793 822.9,790.4 811.9,789.2" fill="#fba25a" stroke="#fba25a"/>
<polygon points="850.6,809.8 853,807.1 855,735 852.6,737.5" fill="#c17d45" stroke="#c17d45"/>
<polygon points="839.4,808.7 850.6,809.8 852.6,737.5 841.3,736.4" fill="#fba25a" stroke="#fba25a"/>
<polygon points="841.3,736.4 852.6,737.5 855,735 843.8,734" fill="#fba25a" stroke="#fba25a"/>
<polygon points="881.3,813 883.6,810.3 891.4,564.3 889,566.2" fill="#c17d45" stroke="#c17d45"/>
<polygon points="870.1,811.9 881.3,813 889,566.2 877.4,565.4" fill="#fba25a" stroke="#fba25a"/>
<polygon points="877.4,565.4 889,566.2 891.4,564.3 879.8,563.5" fill="#fba25a" stroke="#fba25a"/>
<polygon points="912.3,816.3 914.5,813.5 915.1,796.3 912.9,799" fill="#c17d45" stroke="#c17d45"/>
<polygon points="901,815.1 912.3,816.3 912.9,799 901.6,797.9" fill="#fba25a" stroke="#fba25a"/>
<polygon points="901.6,797.9 912.9,799 915.1,796.3 903.8,795.1" fill="#fba25a" stroke="#fba25a"/>
<polygon points="943.6,819.6 945.7,816.7 946.2,802.9 944.2,805.7" fill="#c17d45" stroke="#c17d45"/>
<polygon points="932.2,818.4 943.6,819.6 944.2,805.7 932.7,804.5" fill="#fba25a" stroke="#fba25a"/>
<polygon points="932.7,804.5 944.2,805.7 946.2,802.9 934.8,801.8" fill="#fba25a" stroke="#fba25a"/>
<polygon points="480.6,780.3 490.7,781.4 494.4,778.8 484.2,777.8" fill="#3d7183"/>
<polygon points="518.7,784.3 522.2,781.8 519.3,457.6 515.6,459" fill="#4f91a8" stroke="#4f91a8"/>
<polygon points="508.4,783.2 518.7,784.3 515.6,459 505,458.4" fill="#66bcda" stroke="#66bcda"/>
<polygon points="505,458.4 515.6,459 519.3,457.6 508.7,457" fill="#66bcda" stroke="#66bcda"/>
<polygon points="546.9,787.3 550.3,784.7 550.3,774.8 546.8,777.3" fill="#4f91a8" stroke="#4f91a8"/>
<polygon points="536.5,786.2 546.9,787.3 546.8,777.3 536.5,776.3" fill="#66bcda" stroke="#66bcda"/>
<polygon points="536.5,776.3 546.8,777.3 550.3,774.8 540,773.8" fill="#66bcda" stroke="#66bcda"/>
<polygon points="575.3,790.3 578.7,787.7 578.6,781.1 575.3,783.7" fill="#4f91a8" stroke="#4f91a8"/>
<polygon points="564.9,789.2 575.3,790.3 575.3,783.7 564.9,782.6" fill="#66bcda" stroke="#66bcda"/>
<polygon points="564.9,782.6 575.3,783.7 578.6,781.1 568.3,780" fill="#66bcda" stroke="#66bcda"/>
<polygon points="604,793.4 607.2,790.8 607.3,787.4 604,790" fill="#4f91a8" stroke="#4f91a8"/>
<polygon points="593.5,792.2 604,793.4 604,790 593.5,788.9" fill="#66bcda" stroke="#66bcda"/>
<polygon points="593.5,788.9 604,790 607.3,787.4 596.8,786.3" fill="#66bcda" stroke="#66bcda"/>
<polygon points="632.9,796.4 636.1,793.8 637.2,482.1 634,483.6" fill="#4f91a8" stroke="#4f91a8"/>
<polygon points="622.3,795.3 632.9,796.4 634,483.6 623,483" fill="#66bcda" stroke="#66bcda"/>
<polygon points="623,483 634,483.6 637.2,482.1 626.3,481.5" fill="#66bcda" stroke="#66bcda"/>
<polygon points="662.1,799.5 665.2,796.9 665.3,776.7 662.3,779.2" fill="#4f91a8" stroke="#4f91a8"/>
<polygon points="651.4,798.4 662.1,799.5 662.3,779.2 651.5,778.1" fill="#66bcda" stroke="#66bcda"/>
<polygon points="651.5,778.1 662.3,779.2 665.3,776.7 654.7,775.6" fill="#66bcda" stroke="#66bcda"/>
<polygon points="691.6,802.6 694.6,800 694.7,789.8 691.7,792.5" fill="#4f91a8" stroke="#4f91a8"/>
<polygon points="680.8,801.5 691.6,802.6 691.7,792.5 680.9,791.3" fill="#66bcda" stroke="#66bcda"/>
<polygon points="680.9,791.3 691.7,792.5 694.7,789.8 683.9,788.7" fill="#66bcda" stroke="#66bcda"/>
<polygon points="721.3,805.8 724.2,803.1 724.3,796.3 721.4,799" fill="#4f91a8" stroke="#4f91a8"/>
<polygon points="710.4,804.6 721.3,805.8 721.4,799 710.5,797.8" fill="#66bcda" stroke="#66bcda"/>
<polygon points="710.5,797.8 721.4,799 724.3,796.3 713.4,795.2" fill="#66bcda" stroke="#66bcda"/>
<polygon points="751.3,808.9 754.1,806.2 759.1,507.4 756.3,509" fill="#4f91a8" stroke="#4f91a8"/>
<polygon points="740.3,807.8 751.3,808.9 756.3,509 744.9,508.3" fill="#66bcda" stroke="#66bcda"/>
<polygon points="744.9,508.3 756.3,509 759.1,507.4 747.8,506.7" fill="#66bcda" stroke="#66bcda"/>
<polygon points="781.5,812.2 784.2,809.4 784.8,782 782.1,784.6" fill="#4f91a8" stroke="#4f91a8"/>
<polygon points="770.5,811 781.5,812.2 782.1,784.6 771,783.5" fill="#66bcda" stroke="#66bcda"/>
<polygon points="771,783.5 782.1,784.6 784.8,782 773.7,780.9" fill="#66bcda" stroke="#66bcda"/>
<polygon points="812.1,815.4 814.6,812.6 815.1,795.4 812.5,798.1" fill="#4f91a8" stroke="#4f91a8"/>
<polygon points="800.9,814.2 812.1,815.4 812.5,798.1 801.3,797" fill="#66bcda" stroke="#66bcda"/>
<polygon points="801.3,797 812.5,798.1 815.1,795.4 803.9,794.3" fill="#66bcda" stroke="#66bcda"/>
<polygon points="842.9,818.6 845.3,815.8 845.5,809 843.1,811.7" fill="#4f91a8" stroke="#4f91a8"/>
<polygon points="831.6,817.5 842.9,818.6 843.1,811.7 831.8,810.5" fill="#66bcda" stroke="#66bcda"/>
<polygon points="831.8,810.5 843.1,811.7 845.5,809 834.3,807.8" fill="#66bcda" stroke="#66bcda"/>
<polygon points="874,821.9 876.3,819.1 885.6,515.1 883.2,516.8" fill="#4f91a8" stroke="#4f91a8"/>
<polygon points="862.6,820.7 874,821.9 883.2,516.8 871.5,516.1" fill="#66bcda" stroke="#66bcda"/>
<polygon points="871.5,516.1 883.2,516.8 885.6,515.1 873.9,514.4" fill="#66bcda" stroke="#66bcda"/>
<polygon points="905.4,825.3 907.6,822.4 908.6,794.5 906.3,797.3" fill="#4f91a8" stroke="#4f91a8"/>
<polygon points="893.9,824 905.4,825.3 906.3,797.3 894.8,796.1" fill="#66bcda" stroke="#66bcda"/>
<polygon points="894.8,796.1 906.3,797.3 908.6,794.5 897.1,793.4" fill="#66bcda" stroke="#66bcda"/>
<polygon points="937,828.6 939.2,825.7 939.8,808.3 937.7,811.1" fill="#4f91a8" stroke="#4f91a8"/>
<polygon points="925.4,827.4 937,828.6 937.7,811.1 926.1,809.9" fill="#66bcda" stroke="#66bcda"/>
<polygon points="926.1,809.9 937.7,811.1 939.8,808.3 928.2,807.1" fill="#66bcda" stroke="#66bcda"/>
<polygon points="479.1,789.5 482.8,786.9 482.6,770.3 478.8,772.8" fill="#796697" stroke="#796697"/>
<polygon points="468.8,788.4 479.1,789.5 478.8,772.8 468.6,771.7" fill="#9d84c4" stroke="#9d84c4"/>
<polygon points="468.6,771.7 478.8,772.8 482.6,770.3 472.3,769.2" fill="#9d84c4" stroke="#9d84c4"/>
<polygon points="507.3,792.5 510.9,789.9 507.7,479.9 503.9,481.4" fill="#796697" stroke="#796697"/>
<polygon points="497,791.4 507.3,792.5 503.9,481.4 493.3,480.7" fill="#9d84c4" stroke="#9d84c4"/>
<polygon points="493.3,480.7 503.9,481.4 507.7,479.9 497.1,479.3" fill="#9d84c4" stroke="#9d84c4"/>
<polygon points="535.8,795.6 539.3,792.9 539.2,782.9 535.7,785.5" fill="#796697" stroke="#796697"/>
<polygon points="525.3,794.5 535.8,795.6 535.7,785.5 525.3,784.4" fill="#9d84c4" stroke="#9d84c4"/>
<polygon points="525.3,784.4 535.7,785.5 539.2,782.9 528.8,781.8" fill="#9d84c4" stroke="#9d84c4"/>
<polygon points="564.5,798.7 567.9,796 567.9,789.3 564.5,791.9" fill="#796697" stroke="#796697"/>
<polygon points="554,797.5 564.5,798.7 564.5,791.9 553.9,790.8" fill="#9d84c4" stroke="#9d84c4"/>
<polygon points="553.9,790.8 564.5,791.9 567.9,789.3 557.4,788.2" fill="#9d84c4" stroke="#9d84c4"/>
<polygon points="593.5,801.8 596.8,799.1 596.8,696.8 593.4,699.2" fill="#796697" stroke="#796697"/>
<polygon points="582.9,800.6 593.5,801.8 593.4,699.2 582.6,698.2" fill="#9d84c4" stroke="#9d84c4"/>
<polygon points="582.6,698.2 593.4,699.2 596.8,696.8 586.1,695.9" fill="#9d84c4" stroke="#9d84c4"/>
<polygon points="622.7,804.9 626,802.2 626.5,594.5 623.2,596.4" fill="#796697" stroke="#796697"/>
<polygon points="612,803.8 622.7,804.9 623.2,596.4 612.2,595.6" fill="#9d84c4" stroke="#9d84c4"/>
<polygon points="612.2,595.6 623.2,596.4 626.5,594.5 615.6,593.6" fill="#9d84c4" stroke="#9d84c4"/>
<polygon points="652.2,808.1 655.4,805.4 655.5,781.5 652.4,784.1" fill="#796697" stroke="#796697"/>
<polygon points="641.4,806.9 652.2,808.1 652.4,784.1 641.5,783" fill="#9d84c4" stroke="#9d84c4"/>
<polygon points="641.5,783 652.4,784.1 655.5,781.5 644.7,780.4" fill="#9d84c4" stroke="#9d84c4"/>
<polygon points="682,811.3 685.1,808.5 685.2,798.3 682.1,801" fill="#796697" stroke="#796697"/>
<polygon points="671.1,810.1 682,811.3 682.1,801 671.2,799.8" fill="#9d84c4" stroke="#9d84c4"/>
<polygon points="671.2,799.8 682.1,801 685.2,798.3 674.3,797.1" fill="#9d84c4" stroke="#9d84c4"/>
<polygon points="712.1,814.5 715,811.7 717,654.9 714,657" fill="#796697" stroke="#796697"/>
<polygon points="701.1,813.3 712.1,814.5 714,657 702.8,656.1" fill="#9d84c4" stroke="#9d84c4"/>
<polygon points="702.8,656.1 714,657 717,654.9 705.8,653.9" fill="#9d84c4" stroke="#9d84c4"/>
<polygon points="742.4,817.7 745.2,815 747.5,675.2 744.6,677.5" fill="#796697" stroke="#796697"/>
<polygon points="731.3,816.6 742.4,817.7 744.6,677.5 733.3,676.5" fill="#9d84c4" stroke="#9d84c4"/>
<polygon points="733.3,676.5 744.6,677.5 747.5,675.2 736.2,674.2" fill="#9d84c4" stroke="#9d84c4"/>
<polygon points="773,821 775.7,818.2 776.4,783.5 773.6,786.2" fill="#796697" stroke="#796697"/>
<polygon points="761.8,819.8 773,821 773.6,786.2 762.4,785.1" fill="#9d84c4" stroke="#9d84c4"/>
<polygon points="762.4,785.1 773.6,786.2 776.4,783.5 765.2,782.4" fill="#9d84c4" stroke="#9d84c4"/>
<polygon points="803.9,824.3 806.5,821.5 806.9,804.1 804.2,806.9" fill="#796697" stroke="#796697"/>
<polygon points="792.5,823.1 803.9,824.3 804.2,806.9 792.9,805.7" fill="#9d84c4" stroke="#9d84c4"/>
<polygon points="792.9,805.7 804.2,806.9 806.9,804.1 795.6,802.9" fill="#9d84c4" stroke="#9d84c4"/>
<polygon points="835,827.7 837.5,824.8 845.1,537.1 842.5,538.9" fill="#796697" stroke="#796697"/>
<polygon points="823.6,826.5 835,827.7 842.5,538.9 830.7,538.1" fill="#9d84c4" stroke="#9d84c4"/>
<polygon points="830.7,538.1 842.5,538.9 845.1,537.1 833.3,536.3" fill="#9d84c4" stroke="#9d84c4"/>
<polygon points="866.5,831.1 868.9,828.2 869.4,810.6 867,813.5" fill="#796697" stroke="#796697"/>
<polygon points="854.9,829.8 866.5,831.1 867,813.5 855.4,812.3" fill="#9d84c4" stroke="#9d84c4"/>
<polygon points="855.4,812.3 867,813.5 869.4,810.6 857.9,809.4" fill="#9d84c4" stroke="#9d84c4"/>
<polygon points="898.2,834.5 900.5,831.5 901.7,796.3 899.4,799.1" fill="#796697" stroke="#796697"/>
<polygon points="886.6,833.2 898.2,834.5 899.4,799.1 887.7,797.9" fill="#9d84c4" stroke="#9d84c4"/>
<polygon points="887.7,797.9 899.4,799.1 901.7,796.3 890.1,795.1" fill="#9d84c4" stroke="#9d84c4"/>
<polygon points="930.2,837.9 932.4,835 933.1,817.3 930.9,820.2" fill="#796697" stroke="#796697"/>
<polygon points="918.5,836.6 930.2,837.9 930.9,820.2 919.1,818.9" fill="#9d84c4" stroke="#9d84c4"/>
<polygon points="919.1,818.9 930.9,820.2 933.1,817.3 921.4,816.1" fill="#9d84c4" stroke="#9d84c4"/>
<polygon points="467.1,797.8 470.9,795.2 470.8,785.1 467,787.7" fill="#84a050" stroke="#84a050"/>
<polygon points="456.8,796.7 467.1,797.8 467,787.7 456.6,786.6" fill="#acd068" stroke="#acd068"/>
<polygon points="456.6,786.6 467,787.7 470.8,785.1 460.5,784" fill="#acd068" stroke="#acd068"/>
<polygon points="495.6,800.9 499.4,798.2 495.6,477.4 491.7,478.9" fill="#84a050" stroke="#84a050"/>
<polygon points="485.2,799.8 495.6,800.9 491.7,478.9 480.9,478.3" fill="#acd068" stroke="#acd068"/>
<polygon points="480.9,478.3 491.7,478.9 495.6,477.4 484.8,476.8" fill="#acd068" stroke="#acd068"/>
<polygon points="524.4,804 528,801.4 528,791.2 524.3,793.9" fill="#84a050" stroke="#84a050"/>
<polygon points="513.9,802.9 524.4,804 524.3,793.9 513.8,792.7" fill="#acd068" stroke="#acd068"/>
<polygon points="513.8,792.7 524.3,793.9 528,791.2 517.4,790.1" fill="#acd068" stroke="#acd068"/>
<polygon points="553.4,807.2 557,804.5 556.9,797.7 553.4,800.4" fill="#84a050" stroke="#84a050"/>
<polygon points="542.8,806 553.4,807.2 553.4,800.4 542.8,799.2" fill="#acd068" stroke="#acd068"/>
<polygon points="542.8,799.2 553.4,800.4 556.9,797.7 546.3,796.6" fill="#acd068" stroke="#acd068"/>
<polygon points="582.7,810.4 586.2,807.6 586.1,773.4 582.7,776.1" fill="#84a050" stroke="#84a050"/>
<polygon points="572,809.2 582.7,810.4 582.7,776.1 571.9,774.9" fill="#acd068" stroke="#acd068"/>
<polygon points="571.9,774.9 582.7,776.1 586.1,773.4 575.4,772.3" fill="#acd068" stroke="#acd068"/>
<polygon points="612.3,813.6 615.6,810.8 616,528.4 612.6,530.1" fill="#84a050" stroke="#84a050"/>
<polygon points="601.5,812.4 612.3,813.6 612.6,530.1 601.4,529.4" fill="#acd068" stroke="#acd068"/>
<polygon points="601.4,529.4 612.6,530.1 616,528.4 604.9,527.7" fill="#acd068" stroke="#acd068"/>
<polygon points="642.1,816.8 645.4,814.1 645.5,789.9 642.2,792.6" fill="#84a050" stroke="#84a050"/>
<polygon points="631.2,815.7 642.1,816.8 642.2,792.6 631.3,791.5" fill="#acd068" stroke="#acd068"/>
<polygon points="631.3,791.5 642.2,792.6 645.5,789.9 634.6,788.8" fill="#acd068" stroke="#acd068"/>
<polygon points="672.2,820.1 675.4,817.3 675.4,806.9 672.3,809.7" fill="#84a050" stroke="#84a050"/>
<polygon points="661.2,818.9 672.2,820.1 672.3,809.7 661.3,808.5" fill="#acd068" stroke="#acd068"/>
<polygon points="661.3,808.5 672.3,809.7 675.4,806.9 664.4,805.8" fill="#acd068" stroke="#acd068"/>
<polygon points="702.6,823.4 705.6,820.6 706.6,733.1 703.6,735.6" fill="#84a050" stroke="#84a050"/>
<polygon points="691.5,822.2 702.6,823.4 703.6,735.6 692.3,734.6" fill="#acd068" stroke="#acd068"/>
<polygon points="692.3,734.6 703.6,735.6 706.6,733.1 695.4,732.1" fill="#acd068" stroke="#acd068"/>
<polygon points="733.3,826.8 736.2,823.9 739.4,610.1 736.4,612.2" fill="#84a050" stroke="#84a050"/>
<polygon points="722,825.5 733.3,826.8 736.4,612.2 724.9,611.3" fill="#acd068" stroke="#acd068"/>
<polygon points="724.9,611.3 736.4,612.2 739.4,610.1 727.9,609.2" fill="#acd068" stroke="#acd068"/>
<polygon points="764.2,830.1 767,827.2 767.6,792.2 764.8,794.9" fill="#84a050" stroke="#84a050"/>
<polygon points="752.9,828.9 764.2,830.1 764.8,794.9 753.5,793.7" fill="#acd068" stroke="#acd068"/>
<polygon points="753.5,793.7 764.8,794.9 767.6,792.2 756.3,791" fill="#acd068" stroke="#acd068"/>
<polygon points="795.4,833.5 798.1,830.6 798.5,813 795.8,815.9" fill="#84a050" stroke="#84a050"/>
<polygon points="784,832.3 795.4,833.5 795.8,815.9 784.3,814.7" fill="#acd068" stroke="#acd068"/>
<polygon points="784.3,814.7 795.8,815.9 798.5,813 787.1,811.8" fill="#acd068" stroke="#acd068"/>
<polygon points="826.9,837 829.5,834 834.1,654.2 831.5,656.5" fill="#84a050" stroke="#84a050"/>
<polygon points="815.4,835.7 826.9,837 831.5,656.5 819.7,655.5" fill="#acd068" stroke="#acd068"/>
<polygon points="819.7,655.5 831.5,656.5 834.1,654.2 822.4,653.3" fill="#acd068" stroke="#acd068"/>
<polygon points="858.8,840.4 861.2,837.4 864.3,730 861.8,732.6" fill="#84a050" stroke="#84a050"/>
<polygon points="847.1,839.1 858.8,840.4 861.8,732.6 850.1,731.5" fill="#acd068" stroke="#acd068"/>
<polygon points="850.1,731.5 861.8,732.6 864.3,730 852.6,728.9" fill="#acd068" stroke="#acd068"/>
<polygon points="890.9,843.9 893.2,840.9 895,787.3 892.6,790.1" fill="#84a050" stroke="#84a050"/>
<polygon points="879.1,842.6 890.9,843.9 892.6,790.1 880.8,788.9" fill="#acd068" stroke="#acd068"/>
<polygon points="880.8,788.9 892.6,790.1 895,787.3 883.2,786.1" fill="#acd068" stroke="#acd068"/>
<polygon points="923.3,847.4 925.5,844.4 926.2,826.5 923.9,829.5" fill="#84a050" stroke="#84a050"/>
<polygon points="911.4,846.1 923.3,847.4 923.9,829.5 912,828.2" fill="#acd068" stroke="#acd068"/>
<polygon points="912,828.2 923.9,829.5 926.2,826.5 914.3,825.3" fill="#acd068" stroke="#acd068"/>
<polygon points="454.9,806.3 458.8,803.6 458.5,786.6 454.6,789.3" fill="#a75555" stroke="#a75555"/>
<polygon points="444.4,805.2 454.9,806.3 454.6,789.3 444.1,788.2" fill="#d96f6f" stroke="#d96f6f"/>
<polygon points="444.1,788.2 454.6,789.3 458.5,786.6 448.1,785.5" fill="#d96f6f" stroke="#d96f6f"/>
<polygon points="483.7,809.5 487.5,806.8 483.4,489.5 479.4,491.1" fill="#a75555" stroke="#a75555"/>
<polygon points="473.2,808.3 483.7,809.5 479.4,491.1 468.5,490.4" fill="#d96f6f" stroke="#d96f6f"/>
<polygon points="468.5,490.4 479.4,491.1 483.4,489.5 472.5,488.9" fill="#d96f6f" stroke="#d96f6f"/>
<polygon points="512.8,812.7 516.5,810 516.4,799.7 512.7,802.4" fill="#a75555" stroke="#a75555"/>
<polygon points="502.1,811.5 512.8,812.7 512.7,802.4 502,801.2" fill="#d96f6f" stroke="#d96f6f"/>
<polygon points="502,801.2 512.7,802.4 516.4,799.7 505.8,798.5" fill="#d96f6f" stroke="#d96f6f"/>
<polygon points="542.1,815.9 545.7,813.2 545.7,806.3 542.1,809.1" fill="#a75555" stroke="#a75555"/>
<polygon points="531.4,814.8 542.1,815.9 542.1,809.1 531.3,807.9" fill="#d96f6f" stroke="#d96f6f"/>
<polygon points="531.3,807.9 542.1,809.1 545.7,806.3 535,805.1" fill="#d96f6f" stroke="#d96f6f"/>
<polygon points="571.7,819.2 575.2,816.4 575.1,781.8 571.6,784.5" fill="#a75555" stroke="#a75555"/>
<polygon points="560.9,818 571.7,819.2 571.6,784.5 560.7,783.3" fill="#d96f6f" stroke="#d96f6f"/>
<polygon points="560.7,783.3 571.6,784.5 575.1,781.8 564.3,780.7" fill="#d96f6f" stroke="#d96f6f"/>
<polygon points="601.6,822.5 605,819.7 605,533.9 601.5,535.7" fill="#a75555" stroke="#a75555"/>
<polygon points="590.7,821.3 601.6,822.5 601.5,535.7 590.2,534.9" fill="#d96f6f" stroke="#d96f6f"/>
<polygon points="590.2,534.9 601.5,535.7 605,533.9 593.8,533.2" fill="#d96f6f" stroke="#d96f6f"/>
<polygon points="631.8,825.8 635.1,823 635.1,805.6 631.8,808.4" fill="#a75555" stroke="#a75555"/>
<polygon points="620.7,824.6 631.8,825.8 631.8,808.4 620.7,807.2" fill="#d96f6f" stroke="#d96f6f"/>
<polygon points="620.7,807.2 631.8,808.4 635.1,805.6 624.1,804.4" fill="#d96f6f" stroke="#d96f6f"/>
<polygon points="662.2,829.2 665.4,826.3 665.5,808.8 662.3,811.6" fill="#a75555" stroke="#a75555"/>
<polygon points="651,828 662.2,829.2 662.3,811.6 651.1,810.4" fill="#d96f6f" stroke="#d96f6f"/>
<polygon points="651.1,810.4 662.3,811.6 665.5,808.8 654.4,807.6" fill="#d96f6f" stroke="#d96f6f"/>
<polygon points="692.9,832.6 696,829.7 696.7,759 693.6,761.7" fill="#a75555" stroke="#a75555"/>
<polygon points="681.7,831.3 692.9,832.6 693.6,761.7 682.3,760.5" fill="#d96f6f" stroke="#d96f6f"/>
<polygon points="682.3,760.5 693.6,761.7 696.7,759 685.4,757.9" fill="#d96f6f" stroke="#d96f6f"/>
<polygon points="723.9,836 726.9,833.1 730.4,579.6 727.3,581.6" fill="#a75555" stroke="#a75555"/>
<polygon points="712.5,834.8 723.9,836 727.3,581.6 715.6,580.8" fill="#d96f6f" stroke="#d96f6f"/>
<polygon points="715.6,580.8 727.3,581.6 730.4,579.6 718.7,578.8" fill="#d96f6f" stroke="#d96f6f"/>
<polygon points="755.2,839.5 758.1,836.5 758.4,818.8 755.5,821.7" fill="#a75555" stroke="#a75555"/>
<polygon points="743.7,838.2 755.2,839.5 755.5,821.7 744,820.4" fill="#d96f6f" stroke="#d96f6f"/>
<polygon points="744,820.4 755.5,821.7 758.4,818.8 746.9,817.6" fill="#d96f6f" stroke="#d96f6f"/>
<polygon points="786.8,842.9 789.5,840 789.9,822.2 787.1,825.1" fill="#a75555" stroke="#a75555"/>
<polygon points="775.2,841.7 786.8,842.9 787.1,825.1 775.6,823.8" fill="#d96f6f" stroke="#d96f6f"/>
<polygon points="775.6,823.8 787.1,825.1 789.9,822.2 778.4,820.9" fill="#d96f6f" stroke="#d96f6f"/>
<polygon points="818.7,846.5 821.3,843.4 824.4,716.9 821.7,719.4" fill="#a75555" stroke="#a75555"/>
<polygon points="807,845.2 818.7,846.5 821.7,719.4 809.9,718.3" fill="#d96f6f" stroke="#d96f6f"/>
<polygon points="809.9,718.3 821.7,719.4 824.4,716.9 812.6,715.8" fill="#d96f6f" stroke="#d96f6f"/>
<polygon points="850.8,850 853.4,847 859,645.5 856.5,647.8" fill="#a75555" stroke="#a75555"/>
<polygon points="839.1,848.7 850.8,850 856.5,647.8 844.4,646.8" fill="#d96f6f" stroke="#d96f6f"/>
<polygon points="844.4,646.8 856.5,647.8 859,645.5 847,644.6" fill="#d96f6f" stroke="#d96f6f"/>
<polygon points="883.3,853.6 885.8,850.5 886.3,832.5 883.9,835.5" fill="#a75555" stroke="#a75555"/>
<polygon points="871.4,852.3 883.3,853.6 883.9,835.5 872,834.2" fill="#d96f6f" stroke="#d96f6f"/>
<polygon points="872,834.2 883.9,835.5 886.3,832.5 874.4,831.2" fill="#d96f6f" stroke="#d96f6f"/>
<polygon points="916.1,857.2 918.4,854.1 919.1,836 916.8,839.1" fill="#a75555" stroke="#a75555"/>
<polygon points="904.1,855.9 916.1,857.2 916.8,839.1 904.8,837.8" fill="#d96f6f" stroke="#d96f6f"/>
<polygon points="904.8,837.8 916.8,839.1 919.1,836 907.1,834.7" fill="#d96f6f" stroke="#d96f6f"/>
<polygon points="431.8,813.9 442.4,815.1 446.4,812.3 435.8,811.1" fill="#465e82"/>
<polygon points="471.5,818.3 475.4,815.5 470.2,457.4 466.1,458.9" fill="#5a78a6" stroke="#5a78a6"/>
<polygon points="460.8,817.1 471.5,818.3 466.1,458.9 455,458.2" fill="#759cd8" stroke="#759cd8"/>
<polygon points="455,458.2 466.1,458.9 470.2,457.4 459.1,456.8" fill="#759cd8" stroke="#759cd8"/>
<polygon points="490.1,820.4 500.9,821.6 504.7,818.8 493.9,817.6" fill="#465e82"/>
<polygon points="519.7,823.7 530.5,824.9 534.2,822.1 523.4,820.9" fill="#465e82"/>
<polygon points="560.4,828.3 564,825.4 564,821.9 560.4,824.8" fill="#5a78a6" stroke="#5a78a6"/>
<polygon points="549.5,827 560.4,828.3 560.4,824.8 549.5,823.5" fill="#759cd8" stroke="#759cd8"/>
<polygon points="549.5,823.5 560.4,824.8 564,821.9 553.1,820.7" fill="#759cd8" stroke="#759cd8"/>
<polygon points="590.6,831.6 594.1,828.7 593.7,471.9 590.1,473.4" fill="#5a78a6" stroke="#5a78a6"/>
<polygon points="579.6,830.4 590.6,831.6 590.1,473.4 578.6,472.7" fill="#759cd8" stroke="#759cd8"/>
<polygon points="578.6,472.7 590.1,473.4 593.7,471.9 582.2,471.2" fill="#759cd8" stroke="#759cd8"/>
<polygon points="621.1,835.1 624.5,832.1 624.5,828.6 621.1,831.5" fill="#5a78a6" stroke="#5a78a6"/>
<polygon points="610,833.8 621.1,835.1 621.1,831.5 610,830.3" fill="#759cd8" stroke="#759cd8"/>
<polygon points="610,830.3 621.1,831.5 624.5,828.6 613.4,827.4" fill="#759cd8" stroke="#759cd8"/>
<polygon points="640.6,837.2 651.9,838.5 655.2,835.5 644,834.3" fill="#465e82"/>
<polygon points="682.9,842 686.1,839 686.2,831.9 683,834.9" fill="#5a78a6" stroke="#5a78a6"/>
<polygon points="671.6,840.7 682.9,842 683,834.9 671.6,833.6" fill="#759cd8" stroke="#759cd8"/>
<polygon points="671.6,833.6 683,834.9 686.2,831.9 674.9,830.6" fill="#759cd8" stroke="#759cd8"/>
<polygon points="714.3,845.5 717.4,842.5 721.8,490.7 718.6,492.4" fill="#5a78a6" stroke="#5a78a6"/>
<polygon points="702.8,844.2 714.3,845.5 718.6,492.4 706.7,491.7" fill="#759cd8" stroke="#759cd8"/>
<polygon points="706.7,491.7 718.6,492.4 721.8,490.7 709.9,490" fill="#759cd8" stroke="#759cd8"/>
<polygon points="745.9,849 748.9,846 749,838.8 746.1,841.8" fill="#5a78a6" stroke="#5a78a6"/>
<polygon points="734.4,847.7 745.9,849 746.1,841.8 734.5,840.6" fill="#759cd8" stroke="#759cd8"/>
<polygon points="734.5,840.6 746.1,841.8 749,838.8 737.5,837.6" fill="#759cd8" stroke="#759cd8"/>
<polygon points="777.9,852.6 780.7,849.5 780.8,845.9 778,849" fill="#5a78a6" stroke="#5a78a6"/>
<polygon points="766.2,851.3 777.9,852.6 778,849 766.3,847.7" fill="#759cd8" stroke="#759cd8"/>
<polygon points="766.3,847.7 778,849 780.8,845.9 769.2,844.7" fill="#759cd8" stroke="#759cd8"/>
<polygon points="810.2,856.2 812.9,853.1 813.3,835 810.6,838.1" fill="#5a78a6" stroke="#5a78a6"/>
<polygon points="798.3,854.9 810.2,856.2 810.6,838.1 798.7,836.8" fill="#759cd8" stroke="#759cd8"/>
<polygon points="798.7,836.8 810.6,838.1 813.3,835 801.5,833.8" fill="#759cd8" stroke="#759cd8"/>
<polygon points="842.7,859.9 845.3,856.7 854.5,518.1 851.8,519.9" fill="#5a78a6" stroke="#5a78a6"/>
<polygon points="830.8,858.5 842.7,859.9 851.8,519.9 839.4,519.1" fill="#759cd8" stroke="#759cd8"/>
<polygon points="839.4,519.1 851.8,519.9 854.5,518.1 842.1,517.3" fill="#759cd8" stroke="#759cd8"/>
<polygon points="875.6,863.5 878.1,860.4 878.3,853.1 875.8,856.2" fill="#5a78a6" stroke="#5a78a6"/>
<polygon points="863.6,862.2 875.6,863.5 875.8,856.2 863.8,854.9" fill="#759cd8" stroke="#759cd8"/>
<polygon points="863.8,854.9 875.8,856.2 878.3,853.1 866.3,851.8" fill="#759cd8" stroke="#759cd8"/>
<polygon points="908.8,867.3 911.2,864.1 911.6,853.1 909.2,856.2" fill="#5a78a6" stroke="#5a78a6"/>
<polygon points="896.7,865.9 908.8,867.3 909.2,856.2 897,854.9" fill="#759cd8" stroke="#759cd8"/>
<polygon points="897,854.9 909.2,856.2 911.6,853.1 899.4,851.8" fill="#759cd8" stroke="#759cd8"/>
<polygon points="418.9,822.8 429.5,824 433.6,821.2 423,820" fill="#935011"/>
<polygon points="458.9,827.3 462.9,824.5 457.2,465.8 453,467.3" fill="#bd6616" stroke="#bd6616"/>
<polygon points="448.2,826.1 458.9,827.3 453,467.3 441.8,466.7" fill="#f5851c" stroke="#f5851c"/>
<polygon points="441.8,466.7 453,467.3 457.2,465.8 446.1,465.2" fill="#f5851c" stroke="#f5851c"/>
<polygon points="488.6,830.7 492.5,827.8 492.5,824.3 488.6,827.2" fill="#bd6616" stroke="#bd6616"/>
<polygon points="477.8,829.5 488.6,830.7 488.6,827.2 477.7,826" fill="#f5851c" stroke="#f5851c"/>
<polygon points="477.7,826 488.6,827.2 492.5,824.3 481.7,823.1" fill="#f5851c" stroke="#f5851c"/>
<polygon points="507.6,832.9 518.6,834.1 522.4,831.2 511.5,830" fill="#935011"/>
<polygon points="548.9,837.6 552.6,834.6 552.5,831.1 548.8,834" fill="#bd6616" stroke="#bd6616"/>
<polygon points="537.8,836.3 548.9,837.6 548.8,834 537.8,832.8" fill="#f5851c" stroke="#f5851c"/>
<polygon points="537.8,832.8 548.8,834 552.5,831.1 541.5,829.8" fill="#f5851c" stroke="#f5851c"/>
<polygon points="579.4,841 583,838 582.1,476.8 578.3,478.4" fill="#bd6616" stroke="#bd6616"/>
<polygon points="568.2,839.8 579.4,841 578.3,478.4 566.7,477.7" fill="#f5851c" stroke="#f5851c"/>
<polygon points="566.7,477.7 578.3,478.4 582.1,476.8 570.5,476.1" fill="#f5851c" stroke="#f5851c"/>
<polygon points="610.2,844.5 613.7,841.5 613.7,838 610.2,840.9" fill="#bd6616" stroke="#bd6616"/>
<polygon points="598.9,843.2 610.2,844.5 610.2,840.9 598.9,839.7" fill="#f5851c" stroke="#f5851c"/>
<polygon points="598.9,839.7 610.2,840.9 613.7,838 602.5,836.7" fill="#f5851c" stroke="#f5851c"/>
<polygon points="629.9,846.8 641.3,848.1 644.7,845 633.4,843.7" fill="#935011"/>
<polygon points="672.7,851.6 676,848.6 676.1,841.4 672.8,844.4" fill="#bd6616" stroke="#bd6616"/>
<polygon points="661.2,850.3 672.7,851.6 672.8,844.4 661.3,843.1" fill="#f5851c" stroke="#f5851c"/>
<polygon points="661.3,843.1 672.8,844.4 676.1,841.4 664.6,840.1" fill="#f5851c" stroke="#f5851c"/>
<polygon points="704.4,855.2 707.6,852.1 711.7,496 708.4,497.7" fill="#bd6616" stroke="#bd6616"/>
<polygon points="692.8,853.9 704.4,855.2 708.4,497.7 696.3,497" fill="#f5851c" stroke="#f5851c"/>
<polygon points="696.3,497 708.4,497.7 711.7,496 699.7,495.3" fill="#f5851c" stroke="#f5851c"/>
<polygon points="736.5,858.9 739.5,855.7 739.6,848.5 736.6,851.6" fill="#bd6616" stroke="#bd6616"/>
<polygon points="724.7,857.5 736.5,858.9 736.6,851.6 724.8,850.3" fill="#f5851c" stroke="#f5851c"/>
<polygon points="724.8,850.3 736.6,851.6 739.6,848.5 727.9,847.2" fill="#f5851c" stroke="#f5851c"/>
<polygon points="768.8,862.5 771.7,859.4 771.8,855.7 768.9,858.9" fill="#bd6616" stroke="#bd6616"/>
<polygon points="757,861.2 768.8,862.5 768.9,858.9 757,857.5" fill="#f5851c" stroke="#f5851c"/>
<polygon points="757,857.5 768.9,858.9 771.8,855.7 760,854.4" fill="#f5851c" stroke="#f5851c"/>
<polygon points="801.4,866.2 804.2,863.1 804.6,844.8 801.8,847.9" fill="#bd6616" stroke="#bd6616"/>
<polygon points="789.5,864.9 801.4,866.2 801.8,847.9 789.9,846.5" fill="#f5851c" stroke="#f5851c"/>
<polygon points="789.9,846.5 801.8,847.9 804.6,844.8 792.7,843.4" fill="#f5851c" stroke="#f5851c"/>
<polygon points="834.4,870 837.1,866.8 846,523.9 843.3,525.7" fill="#bd6616" stroke="#bd6616"/>
<polygon points="822.3,868.6 834.4,870 843.3,525.7 830.7,524.9" fill="#f5851c" stroke="#f5851c"/>
<polygon points="830.7,524.9 843.3,525.7 846,523.9 833.5,523.1" fill="#f5851c" stroke="#f5851c"/>
<polygon points="867.7,873.8 870.2,870.5 870.4,863.1 867.9,866.4" fill="#bd6616" stroke="#bd6616"/>
<polygon points="855.5,872.4 867.7,873.8 867.9,866.4 855.7,865" fill="#f5851c" stroke="#f5851c"/>
<polygon points="855.7,865 867.9,866.4 870.4,863.1 858.3,861.8" fill="#f5851c" stroke="#f5851c"/>
<polygon points="901.3,877.6 903.7,874.3 904.1,863.2 901.7,866.4" fill="#bd6616" stroke="#bd6616"/>
<polygon points="889,876.2 901.3,877.6 901.7,866.4 889.3,865" fill="#f5851c" stroke="#f5851c"/>
<polygon points="889.3,865 901.7,866.4 904.1,863.2 891.8,861.8" fill="#f5851c" stroke="#f5851c"/>
<polygon points="416.4,833.2 420.6,830.3 420.2,812.7 416,815.5" fill="#22819a" stroke="#22819a"/>
<polygon points="405.6,831.9 416.4,833.2 416,815.5 405.2,814.3" fill="#2ca7c8" stroke="#2ca7c8"/>
<polygon points="405.2,814.3 416,815.5 420.2,812.7 409.4,811.5" fill="#2ca7c8" stroke="#2ca7c8"/>
<polygon points="446.1,836.6 450.2,833.7 444.4,504.9 440.2,506.6" fill="#22819a" stroke="#22819a"/>
<polygon points="435.2,835.3 446.1,836.6 440.2,506.6 428.9,505.8" fill="#2ca7c8" stroke="#2ca7c8"/>
<polygon points="428.9,505.8 440.2,506.6 444.4,504.9 433.2,504.2" fill="#2ca7c8" stroke="#2ca7c8"/>
<polygon points="476.1,840.1 480.1,837.1 479.9,819.4 475.8,822.3" fill="#22819a" stroke="#22819a"/>
<polygon points="465.1,838.8 476.1,840.1 475.8,822.3 464.8,821" fill="#2ca7c8" stroke="#2ca7c8"/>
<polygon points="464.8,821 475.8,822.3 479.9,819.4 468.9,818.1" fill="#2ca7c8" stroke="#2ca7c8"/>
<polygon points="495.3,842.3 506.4,843.6 510.3,840.6 499.2,839.3" fill="#1a6478"/>
<polygon points="537,847.1 540.8,844.1 540.6,826.2 536.8,829.1" fill="#22819a" stroke="#22819a"/>
<polygon points="525.8,845.8 537,847.1 536.8,829.1 525.6,827.9" fill="#2ca7c8" stroke="#2ca7c8"/>
<polygon points="525.6,827.9 536.8,829.1 540.6,826.2 529.5,824.9" fill="#2ca7c8" stroke="#2ca7c8"/>
<polygon points="567.8,850.6 571.5,847.6 570.3,532.1 566.5,533.9" fill="#22819a" stroke="#22819a"/>
<polygon points="556.5,849.3 567.8,850.6 566.5,533.9 554.8,533.2" fill="#2ca7c8" stroke="#2ca7c8"/>
<polygon points="554.8,533.2 566.5,533.9 570.3,532.1 558.7,531.3" fill="#2ca7c8" stroke="#2ca7c8"/>
<polygon points="599,854.2 602.6,851.1 602.6,825.9 599,828.9" fill="#22819a" stroke="#22819a"/>
<polygon points="587.6,852.9 599,854.2 599,828.9 587.6,827.6" fill="#2ca7c8" stroke="#2ca7c8"/>
<polygon points="587.6,827.6 599,828.9 602.6,825.9 591.2,824.6" fill="#2ca7c8" stroke="#2ca7c8"/>
<polygon points="630.5,857.9 634,854.7 634,843.9 630.5,847" fill="#22819a" stroke="#22819a"/>
<polygon points="619,856.5 630.5,857.9 630.5,847 619,845.6" fill="#2ca7c8" stroke="#2ca7c8"/>
<polygon points="619,845.6 630.5,847 634,843.9 622.5,842.6" fill="#2ca7c8" stroke="#2ca7c8"/>
<polygon points="662.3,861.5 665.6,858.4 665.9,821.9 662.5,824.9" fill="#22819a" stroke="#22819a"/>
<polygon points="650.6,860.2 662.3,861.5 662.5,824.9 650.8,823.6" fill="#2ca7c8" stroke="#2ca7c8"/>
<polygon points="650.8,823.6 662.5,824.9 665.9,821.9 654.2,820.6" fill="#2ca7c8" stroke="#2ca7c8"/>
<polygon points="694.3,865.2 697.6,862 700.7,560.3 697.4,562.3" fill="#22819a" stroke="#22819a"/>
<polygon points="682.6,863.9 694.3,865.2 697.4,562.3 685.2,561.5" fill="#2ca7c8" stroke="#2ca7c8"/>
<polygon points="685.2,561.5 697.4,562.3 700.7,560.3 688.6,559.5" fill="#2ca7c8" stroke="#2ca7c8"/>
<polygon points="726.7,868.9 729.8,865.7 730.2,840 727.1,843.1" fill="#22819a" stroke="#22819a"/>
<polygon points="714.9,867.6 726.7,868.9 727.1,843.1 715.2,841.8" fill="#2ca7c8" stroke="#2ca7c8"/>
<polygon points="715.2,841.8 727.1,843.1 730.2,840 718.4,838.7" fill="#2ca7c8" stroke="#2ca7c8"/>
<polygon points="759.4,872.7 762.4,869.5 762.6,858.4 759.6,861.6" fill="#22819a" stroke="#22819a"/>
<polygon points="747.5,871.3 759.4,872.7 759.6,861.6 747.6,860.3" fill="#2ca7c8" stroke="#2ca7c8"/>
<polygon points="747.6,860.3 759.6,861.6 762.6,858.4 750.7,857.1" fill="#2ca7c8" stroke="#2ca7c8"/>
<polygon points="792.5,876.5 795.3,873.3 797.4,779.9 794.5,782.8" fill="#22819a" stroke="#22819a"/>
<polygon points="780.4,875.1 792.5,876.5 794.5,782.8 782.2,781.5" fill="#2ca7c8" stroke="#2ca7c8"/>
<polygon points="782.2,781.5 794.5,782.8 797.4,779.9 785.2,778.6" fill="#2ca7c8" stroke="#2ca7c8"/>
<polygon points="825.8,880.4 828.6,877.1 834.3,648.5 831.5,650.9" fill="#22819a" stroke="#22819a"/>
<polygon points="813.6,879 825.8,880.4 831.5,650.9 819,649.9" fill="#2ca7c8" stroke="#2ca7c8"/>
<polygon points="819,649.9 831.5,650.9 834.3,648.5 821.8,647.5" fill="#2ca7c8" stroke="#2ca7c8"/>
<polygon points="859.5,884.2 862.1,880.9 863.2,843.5 860.6,846.6" fill="#22819a" stroke="#22819a"/>
<polygon points="847.2,882.8 859.5,884.2 860.6,846.6 848.2,845.3" fill="#2ca7c8" stroke="#2ca7c8"/>
<polygon points="848.2,845.3 860.6,846.6 863.2,843.5 850.9,842.1" fill="#2ca7c8" stroke="#2ca7c8"/>
<polygon points="893.6,888.2 896,884.8 896.7,866 894.2,869.3" fill="#22819a" stroke="#22819a"/>
<polygon points="881.1,886.7 893.6,888.2 894.2,869.3 881.7,867.9" fill="#2ca7c8" stroke="#2ca7c8"/>
<polygon points="881.7,867.9 894.2,869.3 896.7,866 884.2,864.6" fill="#2ca7c8" stroke="#2ca7c8"/>
<polygon points="402.8,842.6 407.2,839.6 406.8,821.8 402.4,824.7" fill="#5a3e7d" stroke="#5a3e7d"/>
<polygon points="391.9,841.3 402.8,842.6 402.4,824.7 391.5,823.5" fill="#7550a2" stroke="#7550a2"/>
<polygon points="391.5,823.5 402.4,824.7 406.8,821.8 395.9,820.6" fill="#7550a2" stroke="#7550a2"/>
<polygon points="432.9,846.1 437.1,843.1 431.2,529.4 426.8,531.2" fill="#5a3e7d" stroke="#5a3e7d"/>
<polygon points="421.9,844.8 432.9,846.1 426.8,531.2 415.4,530.5" fill="#7550a2" stroke="#7550a2"/>
<polygon points="415.4,530.5 426.8,531.2 431.2,529.4 419.8,528.7" fill="#7550a2" stroke="#7550a2"/>
<polygon points="463.2,849.6 467.3,846.6 466.8,810.7 462.7,813.6" fill="#5a3e7d" stroke="#5a3e7d"/>
<polygon points="452.1,848.4 463.2,849.6 462.7,813.6 451.5,812.3" fill="#7550a2" stroke="#7550a2"/>
<polygon points="451.5,812.3 462.7,813.6 466.8,810.7 455.7,809.4" fill="#7550a2" stroke="#7550a2"/>
<polygon points="482.7,851.9 493.9,853.2 497.9,850.2 486.7,848.9" fill="#463061"/>
<polygon points="524.8,856.8 528.7,853.7 528.4,817.5 524.5,820.5" fill="#5a3e7d" stroke="#5a3e7d"/>
<polygon points="513.5,855.5 524.8,856.8 524.5,820.5 513.1,819.2" fill="#7550a2" stroke="#7550a2"/>
<polygon points="513.1,819.2 524.5,820.5 528.4,817.5 517,816.2" fill="#7550a2" stroke="#7550a2"/>
<polygon points="556,860.5 559.8,857.4 558.2,557.4 554.3,559.4" fill="#5a3e7d" stroke="#5a3e7d"/>
<polygon points="544.6,859.2 556,860.5 554.3,559.4 542.5,558.5" fill="#7550a2" stroke="#7550a2"/>
<polygon points="542.5,558.5 554.3,559.4 558.2,557.4 546.5,556.6" fill="#7550a2" stroke="#7550a2"/>
<polygon points="587.5,864.2 591.2,861 591.1,824.4 587.5,827.5" fill="#5a3e7d" stroke="#5a3e7d"/>
<polygon points="576,862.8 587.5,864.2 587.5,827.5 575.9,826.2" fill="#7550a2" stroke="#7550a2"/>
<polygon points="575.9,826.2 587.5,827.5 591.1,824.4 579.6,823.2" fill="#7550a2" stroke="#7550a2"/>
<polygon points="607.7,866.5 619.4,867.9 622.9,864.7 611.3,863.4" fill="#463061"/>
<polygon points="651.5,871.7 654.9,868.4 655.3,813 651.8,816" fill="#5a3e7d" stroke="#5a3e7d"/>
<polygon points="639.7,870.3 651.5,871.7 651.8,816 639.9,814.7" fill="#7550a2" stroke="#7550a2"/>
<polygon points="639.9,814.7 651.8,816 655.3,813 643.5,811.7" fill="#7550a2" stroke="#7550a2"/>
<polygon points="684,875.5 687.3,872.2 689.7,606 686.3,608.2" fill="#5a3e7d" stroke="#5a3e7d"/>
<polygon points="672.1,874.1 684,875.5 686.3,608.2 674.1,607.3" fill="#7550a2" stroke="#7550a2"/>
<polygon points="674.1,607.3 686.3,608.2 689.7,606 677.5,605.1" fill="#7550a2" stroke="#7550a2"/>
<polygon points="716.7,879.3 719.9,876 720.7,820 717.4,823.1" fill="#5a3e7d" stroke="#5a3e7d"/>
<polygon points="704.7,877.9 716.7,879.3 717.4,823.1 705.4,821.8" fill="#7550a2" stroke="#7550a2"/>
<polygon points="705.4,821.8 717.4,823.1 720.7,820 708.6,818.7" fill="#7550a2" stroke="#7550a2"/>
<polygon points="737.7,881.8 749.8,883.2 752.9,879.9 740.8,878.4" fill="#463061"/>
<polygon points="783.3,887.1 786.2,883.7 788.5,770 785.6,772.9" fill="#5a3e7d" stroke="#5a3e7d"/>
<polygon points="771,885.7 783.3,887.1 785.6,772.9 773.2,771.7" fill="#7550a2" stroke="#7550a2"/>
<polygon points="773.2,771.7 785.6,772.9 788.5,770 776.2,768.8" fill="#7550a2" stroke="#7550a2"/>
<polygon points="817,891 819.9,887.6 825,676 822.1,678.5" fill="#5a3e7d" stroke="#5a3e7d"/>
<polygon points="804.7,889.6 817,891 822.1,678.5 809.4,677.4" fill="#7550a2" stroke="#7550a2"/>
<polygon points="809.4,677.4 822.1,678.5 825,676 812.4,674.9" fill="#7550a2" stroke="#7550a2"/>
<polygon points="851.2,895 853.8,891.6 855.4,834.6 852.7,837.8" fill="#5a3e7d" stroke="#5a3e7d"/>
<polygon points="838.7,893.6 851.2,895 852.7,837.8 840.2,836.4" fill="#7550a2" stroke="#7550a2"/>
<polygon points="840.2,836.4 852.7,837.8 855.4,834.6 842.9,833.2" fill="#7550a2" stroke="#7550a2"/>
<polygon points="873,897.6 885.6,899.1 888.2,895.6 875.6,894.1" fill="#463061"/>
<polygon points="389,852.2 393.4,849.2 393.3,845.6 388.9,848.6" fill="#6f8e2d" stroke="#6f8e2d"/>
<polygon points="378,850.9 389,852.2 388.9,848.6 377.9,847.3" fill="#90b93a" stroke="#90b93a"/>
<polygon points="377.9,847.3 388.9,848.6 393.3,845.6 382.3,844.3" fill="#90b93a" stroke="#90b93a"/>
<polygon points="419.4,855.8 423.7,852.8 416.1,484.6 411.6,486.3" fill="#6f8e2d" stroke="#6f8e2d"/>
<polygon points="408.2,854.5 419.4,855.8 411.6,486.3 400,485.6" fill="#90b93a" stroke="#90b93a"/>
<polygon points="400,485.6 411.6,486.3 416.1,484.6 404.6,483.9" fill="#90b93a" stroke="#90b93a"/>
<polygon points="450,859.5 454.3,856.4 454.2,852.7 450,855.9" fill="#6f8e2d" stroke="#6f8e2d"/>
<polygon points="438.8,858.2 450,859.5 450,855.9 438.7,854.5" fill="#90b93a" stroke="#90b93a"/>
<polygon points="438.7,854.5 450,855.9 454.2,852.7 443,851.4" fill="#90b93a" stroke="#90b93a"/>
<polygon points="469.7,861.8 481,863.2 485.1,860 473.8,858.7" fill="#566f23"/>
<polygon points="512.3,866.9 516.3,863.7 516.2,856.4 512.2,859.5" fill="#6f8e2d" stroke="#6f8e2d"/>
<polygon points="500.8,865.5 512.3,866.9 512.2,859.5 500.7,858.2" fill="#90b93a" stroke="#90b93a"/>
<polygon points="500.7,858.2 512.2,859.5 516.2,856.4 504.8,855" fill="#90b93a" stroke="#90b93a"/>
<polygon points="543.8,870.6 547.7,867.4 545.3,504.4 541.3,506.2" fill="#6f8e2d" stroke="#6f8e2d"/>
<polygon points="532.3,869.3 543.8,870.6 541.3,506.2 529.2,505.4" fill="#90b93a" stroke="#90b93a"/>
<polygon points="529.2,505.4 541.3,506.2 545.3,504.4 533.3,503.6" fill="#90b93a" stroke="#90b93a"/>
<polygon points="575.7,874.4 579.5,871.2 579.5,863.8 575.7,867" fill="#6f8e2d" stroke="#6f8e2d"/>
<polygon points="564.1,873 575.7,874.4 575.7,867 564,865.6" fill="#90b93a" stroke="#90b93a"/>
<polygon points="564,865.6 575.7,867 579.5,863.8 567.8,862.4" fill="#90b93a" stroke="#90b93a"/>
<polygon points="607.9,878.2 611.6,875 611.6,871.3 607.9,874.5" fill="#6f8e2d" stroke="#6f8e2d"/>
<polygon points="596.1,876.8 607.9,878.2 607.9,874.5 596.1,873.1" fill="#90b93a" stroke="#90b93a"/>
<polygon points="596.1,873.1 607.9,874.5 611.6,871.3 599.8,869.9" fill="#90b93a" stroke="#90b93a"/>
<polygon points="640.5,882.1 644,878.8 644,867.6 640.5,870.9" fill="#6f8e2d" stroke="#6f8e2d"/>
<polygon points="628.5,880.7 640.5,882.1 640.5,870.9 628.6,869.5" fill="#90b93a" stroke="#90b93a"/>
<polygon points="628.6,869.5 640.5,870.9 644,867.6 632.2,866.2" fill="#90b93a" stroke="#90b93a"/>
<polygon points="673.3,886 676.7,882.7 679.6,520.9 676,522.7" fill="#6f8e2d" stroke="#6f8e2d"/>
<polygon points="661.3,884.6 673.3,886 676,522.7 663.5,521.9" fill="#90b93a" stroke="#90b93a"/>
<polygon points="663.5,521.9 676,522.7 679.6,520.9 667.1,520.1" fill="#90b93a" stroke="#90b93a"/>
<polygon points="706.5,889.9 709.8,886.6 709.8,879 706.6,882.4" fill="#6f8e2d" stroke="#6f8e2d"/>
<polygon points="694.3,888.5 706.5,889.9 706.6,882.4 694.4,881" fill="#90b93a" stroke="#90b93a"/>
<polygon points="694.4,881 706.6,882.4 709.8,879 697.7,877.6" fill="#90b93a" stroke="#90b93a"/>
<polygon points="740,893.9 743.1,890.5 743.3,883 740.1,886.3" fill="#6f8e2d" stroke="#6f8e2d"/>
<polygon points="727.7,892.5 740,893.9 740.1,886.3 727.8,884.9" fill="#90b93a" stroke="#90b93a"/>
<polygon points="727.8,884.9 740.1,886.3 743.3,883 731,881.5" fill="#90b93a" stroke="#90b93a"/>
<polygon points="773.8,897.9 776.9,894.5 777.2,875.5 774.2,878.9" fill="#6f8e2d" stroke="#6f8e2d"/>
<polygon points="761.4,896.5 773.8,897.9 774.2,878.9 761.8,877.4" fill="#90b93a" stroke="#90b93a"/>
<polygon points="761.8,877.4 774.2,878.9 777.2,875.5 764.8,874.1" fill="#90b93a" stroke="#90b93a"/>
<polygon points="808,902 810.9,898.5 819.1,542.1 816.2,544.1" fill="#6f8e2d" stroke="#6f8e2d"/>
<polygon points="795.5,900.5 808,902 816.2,544.1 803.1,543.3" fill="#90b93a" stroke="#90b93a"/>
<polygon points="803.1,543.3 816.2,544.1 819.1,542.1 806.2,541.3" fill="#90b93a" stroke="#90b93a"/>
<polygon points="842.6,906.1 845.3,902.6 845.6,891.1 842.9,894.6" fill="#6f8e2d" stroke="#6f8e2d"/>
<polygon points="829.9,904.6 842.6,906.1 842.9,894.6 830.2,893.1" fill="#90b93a" stroke="#90b93a"/>
<polygon points="830.2,893.1 842.9,894.6 845.6,891.1 833,889.6" fill="#90b93a" stroke="#90b93a"/>
<polygon points="877.4,910.2 880.1,906.7 880.3,899 877.7,902.5" fill="#6f8e2d" stroke="#6f8e2d"/>
<polygon points="864.7,908.7 877.4,910.2 877.7,902.5 864.9,901" fill="#90b93a" stroke="#90b93a"/>
<polygon points="864.9,901 877.7,902.5 880.3,899 867.6,897.5" fill="#90b93a" stroke="#90b93a"/>
<polygon points="374.8,862.2 379.3,859 377.4,785.7 372.8,788.6" fill="#9b2929" stroke="#9b2929"/>
<polygon points="363.6,860.8 374.8,862.2 372.8,788.6 361.6,787.4" fill="#c93535" stroke="#c93535"/>
<polygon points="361.6,787.4 372.8,788.6 377.4,785.7 366.2,784.5" fill="#c93535" stroke="#c93535"/>
<polygon points="405.5,865.9 409.9,862.7 404.1,599.6 399.5,601.7" fill="#9b2929" stroke="#9b2929"/>
<polygon points="394.2,864.5 405.5,865.9 399.5,601.7 387.9,600.8" fill="#c93535" stroke="#c93535"/>
<polygon points="387.9,600.8 399.5,601.7 404.1,599.6 392.5,598.7" fill="#c93535" stroke="#c93535"/>
<polygon points="425.1,868.2 436.5,869.6 440.8,866.4 429.5,865" fill="#792020"/>
<polygon points="467.8,873.4 472,870.1 471.5,833.2 467.2,836.2" fill="#9b2929" stroke="#9b2929"/>
<polygon points="456.3,872 467.8,873.4 467.2,836.2 455.7,834.9" fill="#c93535" stroke="#c93535"/>
<polygon points="455.7,834.9 467.2,836.2 471.5,833.2 460,831.8" fill="#c93535" stroke="#c93535"/>
<polygon points="499.4,877.2 503.5,873.9 502.2,761.5 498.1,764.4" fill="#9b2929" stroke="#9b2929"/>
<polygon points="487.8,875.8 499.4,877.2 498.1,764.4 486.3,763.2" fill="#c93535" stroke="#c93535"/>
<polygon points="486.3,763.2 498.1,764.4 502.2,761.5 490.5,760.3" fill="#c93535" stroke="#c93535"/>
<polygon points="531.4,881 535.4,877.7 533.5,649 529.4,651.4" fill="#9b2929" stroke="#9b2929"/>
<polygon points="519.7,879.6 531.4,881 529.4,651.4 517.4,650.4" fill="#c93535" stroke="#c93535"/>
<polygon points="517.4,650.4 529.4,651.4 533.5,649 521.6,648" fill="#c93535" stroke="#c93535"/>
<polygon points="551.8,883.5 563.6,884.9 567.5,881.6 555.7,880.2" fill="#792020"/>
<polygon points="596.2,888.9 599.9,885.5 599.9,847.8 596.2,851.1" fill="#9b2929" stroke="#9b2929"/>
<polygon points="584.3,887.4 596.2,888.9 596.2,851.1 584.2,849.7" fill="#c93535" stroke="#c93535"/>
<polygon points="584.2,849.7 596.2,851.1 599.9,847.8 588,846.5" fill="#c93535" stroke="#c93535"/>
<polygon points="629.1,892.8 632.7,889.4 633.2,736.1 629.5,738.9" fill="#9b2929" stroke="#9b2929"/>
<polygon points="617.1,891.4 629.1,892.8 629.5,738.9 617.2,737.7" fill="#c93535" stroke="#c93535"/>
<polygon points="617.2,737.7 629.5,738.9 633.2,736.1 621,735" fill="#c93535" stroke="#c93535"/>
<polygon points="662.3,896.8 665.8,893.4 667.1,700.1 663.6,702.7" fill="#9b2929" stroke="#9b2929"/>
<polygon points="650.2,895.4 662.3,896.8 663.6,702.7 651.1,701.6" fill="#c93535" stroke="#c93535"/>
<polygon points="651.1,701.6 663.6,702.7 667.1,700.1 654.7,698.9" fill="#c93535" stroke="#c93535"/>
<polygon points="683.6,899.4 695.9,900.9 699.3,897.4 687,895.9" fill="#792020"/>
<polygon points="729.8,905 733.1,901.5 733.6,863.1 730.4,866.5" fill="#9b2929" stroke="#9b2929"/>
<polygon points="717.4,903.5 729.8,905 730.4,866.5 717.9,865" fill="#c93535" stroke="#c93535"/>
<polygon points="717.9,865 730.4,866.5 733.6,863.1 721.2,861.7" fill="#c93535" stroke="#c93535"/>
<polygon points="764.1,909.1 767.2,905.6 772.2,628.6 769,631" fill="#9b2929" stroke="#9b2929"/>
<polygon points="751.6,907.6 764.1,909.1 769,631 756.1,629.9" fill="#c93535" stroke="#c93535"/>
<polygon points="756.1,629.9 769,631 772.2,628.6 759.3,627.5" fill="#c93535" stroke="#c93535"/>
<polygon points="798.7,913.3 801.7,909.7 802.6,871 799.6,874.4" fill="#9b2929" stroke="#9b2929"/>
<polygon points="786,911.7 798.7,913.3 799.6,874.4 786.8,872.9" fill="#c93535" stroke="#c93535"/>
<polygon points="786.8,872.9 799.6,874.4 802.6,871 789.9,869.5" fill="#c93535" stroke="#c93535"/>
<polygon points="820.9,915.9 833.7,917.5 836.5,913.9 823.8,912.3" fill="#792020"/>
<polygon points="869,921.8 871.7,918.1 874.1,839.6 871.4,842.9" fill="#9b2929" stroke="#9b2929"/>
<polygon points="856.1,920.2 869,921.8 871.4,842.9 858.3,841.5" fill="#c93535" stroke="#c93535"/>
<polygon points="858.3,841.5 871.4,842.9 874.1,839.6 861.1,838.2" fill="#c93535" stroke="#c93535"/>
<polygon points="360.2,872.3 364.8,869.1 361.8,757.4 357,760.2" fill="#31609d" stroke="#31609d"/>
<polygon points="348.9,870.9 360.2,872.3 357,760.2 345.6,759" fill="#3f7dcc" stroke="#3f7dcc"/>
<polygon points="345.6,759 357,760.2 361.8,757.4 350.4,756.2" fill="#3f7dcc" stroke="#3f7dcc"/>
<polygon points="391.2,876.1 395.8,872.9 389.9,626 385.2,628.3" fill="#31609d" stroke="#31609d"/>
<polygon points="379.8,874.7 391.2,876.1 385.2,628.3 373.5,627.3" fill="#3f7dcc" stroke="#3f7dcc"/>
<polygon points="373.5,627.3 385.2,628.3 389.9,626 378.2,625.1" fill="#3f7dcc" stroke="#3f7dcc"/>
<polygon points="411.1,878.6 422.6,880 427,876.7 415.6,875.3" fill="#264b7a"/>
<polygon points="454.2,883.8 458.6,880.5 458.3,861.8 453.9,865.1" fill="#31609d" stroke="#31609d"/>
<polygon points="442.6,882.4 454.2,883.8 453.9,865.1 442.3,863.7" fill="#3f7dcc" stroke="#3f7dcc"/>
<polygon points="442.3,863.7 453.9,865.1 458.3,861.8 446.7,860.5" fill="#3f7dcc" stroke="#3f7dcc"/>
<polygon points="486.2,887.8 490.4,884.4 490.2,865.6 486,868.9" fill="#31609d" stroke="#31609d"/>
<polygon points="474.5,886.3 486.2,887.8 486,868.9 474.2,867.5" fill="#3f7dcc" stroke="#3f7dcc"/>
<polygon points="474.2,867.5 486,868.9 490.2,865.6 478.5,864.2" fill="#3f7dcc" stroke="#3f7dcc"/>
<polygon points="518.5,891.7 522.6,888.3 520.4,656.7 516.2,659.2" fill="#31609d" stroke="#31609d"/>
<polygon points="506.7,890.3 518.5,891.7 516.2,659.2 504.1,658.1" fill="#3f7dcc" stroke="#3f7dcc"/>
<polygon points="504.1,658.1 516.2,659.2 520.4,656.7 508.3,655.7" fill="#3f7dcc" stroke="#3f7dcc"/>
<polygon points="551.2,895.7 555.1,892.3 554.7,816.1 550.7,819.2" fill="#31609d" stroke="#31609d"/>
<polygon points="539.2,894.3 551.2,895.7 550.7,819.2 538.6,817.9" fill="#3f7dcc" stroke="#3f7dcc"/>
<polygon points="538.6,817.9 550.7,819.2 554.7,816.1 542.7,814.7" fill="#3f7dcc" stroke="#3f7dcc"/>
<polygon points="584.1,899.8 588,896.3 587.9,839 584,842.2" fill="#31609d" stroke="#31609d"/>
<polygon points="572.1,898.3 584.1,899.8 584,842.2 571.8,840.8" fill="#3f7dcc" stroke="#3f7dcc"/>
<polygon points="571.8,840.8 584,842.2 587.9,839 575.8,837.6" fill="#3f7dcc" stroke="#3f7dcc"/>
<polygon points="617.4,903.8 621.2,900.3 621.5,685.5 617.7,688.1" fill="#31609d" stroke="#31609d"/>
<polygon points="605.2,902.3 617.4,903.8 617.7,688.1 605.2,687" fill="#3f7dcc" stroke="#3f7dcc"/>
<polygon points="605.2,687 617.7,688.1 621.5,685.5 609.1,684.4" fill="#3f7dcc" stroke="#3f7dcc"/>
<polygon points="651.1,908 654.7,904.4 655.3,788 651.7,791" fill="#31609d" stroke="#31609d"/>
<polygon points="638.8,906.4 651.1,908 651.7,791 639.2,789.7" fill="#3f7dcc" stroke="#3f7dcc"/>
<polygon points="639.2,789.7 651.7,791 655.3,788 642.9,786.7" fill="#3f7dcc" stroke="#3f7dcc"/>
<polygon points="685.1,912.1 688.5,908.5 688.9,869.9 685.4,873.3" fill="#31609d" stroke="#31609d"/>
<polygon points="672.6,910.6 685.1,912.1 685.4,873.3 672.9,871.8" fill="#3f7dcc" stroke="#3f7dcc"/>
<polygon points="672.9,871.8 685.4,873.3 688.9,869.9 676.4,868.4" fill="#3f7dcc" stroke="#3f7dcc"/>
<polygon points="719.4,916.3 722.7,912.7 723,893.3 719.7,896.9" fill="#31609d" stroke="#31609d"/>
<polygon points="706.8,914.8 719.4,916.3 719.7,896.9 707.1,895.4" fill="#3f7dcc" stroke="#3f7dcc"/>
<polygon points="707.1,895.4 719.7,896.9 723,893.3 710.4,891.8" fill="#3f7dcc" stroke="#3f7dcc"/>
<polygon points="754.1,920.6 757.3,916.9 762.8,594.7 759.5,597" fill="#31609d" stroke="#31609d"/>
<polygon points="741.4,919 754.1,920.6 759.5,597 746.3,596" fill="#3f7dcc" stroke="#3f7dcc"/>
<polygon points="746.3,596 759.5,597 762.8,594.7 749.7,593.7" fill="#3f7dcc" stroke="#3f7dcc"/>
<polygon points="789.2,924.9 792.2,921.2 792.6,901.6 789.6,905.2" fill="#31609d" stroke="#31609d"/>
<polygon points="776.3,923.3 789.2,924.9 789.6,905.2 776.7,903.7" fill="#3f7dcc" stroke="#3f7dcc"/>
<polygon points="776.7,903.7 789.6,905.2 792.6,901.6 779.8,900.1" fill="#3f7dcc" stroke="#3f7dcc"/>
<polygon points="824.6,929.2 827.5,925.5 828.5,886.1 825.6,889.6" fill="#31609d" stroke="#31609d"/>
<polygon points="811.6,927.6 824.6,929.2 825.6,889.6 812.5,888.1" fill="#3f7dcc" stroke="#3f7dcc"/>
<polygon points="812.5,888.1 825.6,889.6 828.5,886.1 815.5,884.6" fill="#3f7dcc" stroke="#3f7dcc"/>
<polygon points="860.4,933.6 863.2,929.8 863.8,910.1 861,913.8" fill="#31609d" stroke="#31609d"/>
<polygon points="847.3,932 860.4,933.6 861,913.8 847.8,912.2" fill="#3f7dcc" stroke="#3f7dcc"/>
<polygon points="847.8,912.2 861,913.8 863.8,910.1 850.7,908.5" fill="#3f7dcc" stroke="#3f7dcc"/>
<polygon points="345.2,882.8 350,879.5 349.7,872 344.9,875.3" fill="#ac6015" stroke="#ac6015"/>
<polygon points="333.8,881.4 345.2,882.8 344.9,875.3 333.5,873.9" fill="#df7d1b" stroke="#df7d1b"/>
<polygon points="333.5,873.9 344.9,875.3 349.7,872 338.4,870.6" fill="#df7d1b" stroke="#df7d1b"/>
<polygon points="376.6,886.7 381.2,883.3 372.3,533.4 367.4,535.3" fill="#ac6015" stroke="#ac6015"/>
<polygon points="365.1,885.3 376.6,886.7 367.4,535.3 355.4,534.5" fill="#df7d1b" stroke="#df7d1b"/>
<polygon points="355.4,534.5 367.4,535.3 372.3,533.4 360.4,532.6" fill="#df7d1b" stroke="#df7d1b"/>
<polygon points="408.3,890.6 412.8,887.2 412.6,876 408,879.3" fill="#ac6015" stroke="#ac6015"/>
<polygon points="396.7,889.2 408.3,890.6 408,879.3 396.4,877.9" fill="#df7d1b" stroke="#df7d1b"/>
<polygon points="396.4,877.9 408,879.3 412.6,876 401,874.5" fill="#df7d1b" stroke="#df7d1b"/>
<polygon points="440.3,894.6 444.8,891.2 444.4,872.3 439.9,875.6" fill="#ac6015" stroke="#ac6015"/>
<polygon points="428.6,893.2 440.3,894.6 439.9,875.6 428.2,874.2" fill="#df7d1b" stroke="#df7d1b"/>
<polygon points="428.2,874.2 439.9,875.6 444.4,872.3 432.7,870.9" fill="#df7d1b" stroke="#df7d1b"/>
<polygon points="472.7,898.6 477,895.2 476.7,876.2 472.4,879.6" fill="#ac6015" stroke="#ac6015"/>
<polygon points="460.8,897.2 472.7,898.6 472.4,879.6 460.5,878.1" fill="#df7d1b" stroke="#df7d1b"/>
<polygon points="460.5,878.1 472.4,879.6 476.7,876.2 464.9,874.8" fill="#df7d1b" stroke="#df7d1b"/>
<polygon points="505.4,902.7 509.6,899.2 505.8,563.1 501.4,565.2" fill="#ac6015" stroke="#ac6015"/>
<polygon points="493.4,901.2 505.4,902.7 501.4,565.2 489,564.3" fill="#df7d1b" stroke="#df7d1b"/>
<polygon points="489,564.3 501.4,565.2 505.8,563.1 493.5,562.2" fill="#df7d1b" stroke="#df7d1b"/>
<polygon points="538.4,906.8 542.5,903.3 542.3,884.1 538.2,887.6" fill="#ac6015" stroke="#ac6015"/>
<polygon points="526.3,905.3 538.4,906.8 538.2,887.6 526.1,886.1" fill="#df7d1b" stroke="#df7d1b"/>
<polygon points="526.1,886.1 538.2,887.6 542.3,884.1 530.3,882.7" fill="#df7d1b" stroke="#df7d1b"/>
<polygon points="571.7,911 575.7,907.4 575.6,888.1 571.7,891.6" fill="#ac6015" stroke="#ac6015"/>
<polygon points="559.5,909.4 571.7,911 571.7,891.6 559.4,890.1" fill="#df7d1b" stroke="#df7d1b"/>
<polygon points="559.4,890.1 571.7,891.6 575.6,888.1 563.4,886.7" fill="#df7d1b" stroke="#df7d1b"/>
<polygon points="605.4,915.2 609.3,911.6 609.3,900 605.4,903.5" fill="#ac6015" stroke="#ac6015"/>
<polygon points="593.1,913.6 605.4,915.2 605.4,903.5 593.1,902" fill="#df7d1b" stroke="#df7d1b"/>
<polygon points="593.1,902 605.4,903.5 609.3,900 597,898.5" fill="#df7d1b" stroke="#df7d1b"/>
<polygon points="639.5,919.4 643.2,915.8 644.7,547.9 640.8,549.9" fill="#ac6015" stroke="#ac6015"/>
<polygon points="627,917.8 639.5,919.4 640.8,549.9 627.8,549.1" fill="#df7d1b" stroke="#df7d1b"/>
<polygon points="627.8,549.1 640.8,549.9 644.7,547.9 631.7,547" fill="#df7d1b" stroke="#df7d1b"/>
<polygon points="673.9,923.7 677.5,920 677.6,908.3 674,911.9" fill="#ac6015" stroke="#ac6015"/>
<polygon points="661.3,922.1 673.9,923.7 674,911.9 661.4,910.4" fill="#df7d1b" stroke="#df7d1b"/>
<polygon points="661.4,910.4 674,911.9 677.6,908.3 665,906.8" fill="#df7d1b" stroke="#df7d1b"/>
<polygon points="708.7,928 712.1,924.3 712.3,912.5 708.8,916.2" fill="#ac6015" stroke="#ac6015"/>
<polygon points="695.9,926.4 708.7,928 708.8,916.2 696.1,914.6" fill="#df7d1b" stroke="#df7d1b"/>
<polygon points="696.1,914.6 708.8,916.2 712.3,912.5 699.6,911" fill="#df7d1b" stroke="#df7d1b"/>
<polygon points="743.8,932.4 747.1,928.6 747.2,920.7 743.9,924.5" fill="#ac6015" stroke="#ac6015"/>
<polygon points="731,930.8 743.8,932.4 743.9,924.5 731.1,922.9" fill="#df7d1b" stroke="#df7d1b"/>
<polygon points="731.1,922.9 743.9,924.5 747.2,920.7 734.4,919.2" fill="#df7d1b" stroke="#df7d1b"/>
<polygon points="779.3,936.8 782.5,933 789.8,562 786.6,564.2" fill="#ac6015" stroke="#ac6015"/>
<polygon points="766.3,935.2 779.3,936.8 786.6,564.2 773,563.3" fill="#df7d1b" stroke="#df7d1b"/>
<polygon points="773,563.3 786.6,564.2 789.8,562 776.3,561.1" fill="#df7d1b" stroke="#df7d1b"/>
<polygon points="815.2,941.3 818.2,937.4 818.5,925.5 815.5,929.3" fill="#ac6015" stroke="#ac6015"/>
<polygon points="802.1,939.6 815.2,941.3 815.5,929.3 802.4,927.7" fill="#df7d1b" stroke="#df7d1b"/>
<polygon points="802.4,927.7 815.5,929.3 818.5,925.5 805.4,923.9" fill="#df7d1b" stroke="#df7d1b"/>
<polygon points="851.5,945.8 854.4,941.9 854.9,921.9 852.1,925.7" fill="#ac6015" stroke="#ac6015"/>
<polygon points="838.2,944.1 851.5,945.8 852.1,925.7 838.8,924.1" fill="#df7d1b" stroke="#df7d1b"/>
<polygon points="838.8,924.1 852.1,925.7 854.9,921.9 841.7,920.3" fill="#df7d1b" stroke="#df7d1b"/>
<polygon points="318.2,892.1 329.8,893.5 334.7,890.1 323.2,888.7" fill="#175a6a"/>
<polygon points="361.5,897.5 366.3,894.1 356.6,539.6 351.6,541.6" fill="#1e7488" stroke="#1e7488"/>
<polygon points="349.9,896.1 361.5,897.5 351.6,541.6 339.5,540.7" fill="#2796b1" stroke="#2796b1"/>
<polygon points="339.5,540.7 351.6,541.6 356.6,539.6 344.6,538.7" fill="#2796b1" stroke="#2796b1"/>
<polygon points="393.6,901.6 398.3,898.1 397.8,879 393.1,882.4" fill="#1e7488" stroke="#1e7488"/>
<polygon points="381.8,900.1 393.6,901.6 393.1,882.4 381.3,881" fill="#2796b1" stroke="#2796b1"/>
<polygon points="381.3,881 393.1,882.4 397.8,879 386.1,877.6" fill="#2796b1" stroke="#2796b1"/>
<polygon points="426,905.7 430.6,902.2 430.2,883 425.6,886.5" fill="#1e7488" stroke="#1e7488"/>
<polygon points="414.1,904.2 426,905.7 425.6,886.5 413.7,885" fill="#2796b1" stroke="#2796b1"/>
<polygon points="413.7,885 425.6,886.5 430.2,883 418.3,881.6" fill="#2796b1" stroke="#2796b1"/>
<polygon points="458.7,909.8 463.2,906.3 462.9,887 458.4,890.5" fill="#1e7488" stroke="#1e7488"/>
<polygon points="446.7,908.3 458.7,909.8 458.4,890.5 446.4,889" fill="#2796b1" stroke="#2796b1"/>
<polygon points="446.4,889 458.4,890.5 462.9,887 450.9,885.6" fill="#2796b1" stroke="#2796b1"/>
<polygon points="491.8,914 496.1,910.4 492.5,623.6 488,626" fill="#1e7488" stroke="#1e7488"/>
<polygon points="479.7,912.5 491.8,914 488,626 475.5,625" fill="#2796b1" stroke="#2796b1"/>
<polygon points="475.5,625 488,626 492.5,623.6 480,622.6" fill="#2796b1" stroke="#2796b1"/>
<polygon points="525.2,918.2 529.4,914.6 528.9,856.1 524.7,859.5" fill="#1e7488" stroke="#1e7488"/>
<polygon points="513,916.7 525.2,918.2 524.7,859.5 512.3,858" fill="#2796b1" stroke="#2796b1"/>
<polygon points="512.3,858 524.7,859.5 528.9,856.1 516.6,854.6" fill="#2796b1" stroke="#2796b1"/>
<polygon points="559,922.5 563.1,918.8 562.9,887.6 558.8,891.1" fill="#1e7488" stroke="#1e7488"/>
<polygon points="546.6,920.9 559,922.5 558.8,891.1 546.4,889.6" fill="#2796b1" stroke="#2796b1"/>
<polygon points="546.4,889.6 558.8,891.1 562.9,887.6 550.5,886.1" fill="#2796b1" stroke="#2796b1"/>
<polygon points="593.1,926.8 597.1,923.1 597,903.5 593.1,907.1" fill="#1e7488" stroke="#1e7488"/>
<polygon points="580.6,925.2 593.1,926.8 593.1,907.1 580.5,905.6" fill="#2796b1" stroke="#2796b1"/>
<polygon points="580.5,905.6 593.1,907.1 597,903.5 584.6,902" fill="#2796b1" stroke="#2796b1"/>
<polygon points="627.6,931.2 631.4,927.4 632.2,601.3 628.3,603.6" fill="#1e7488" stroke="#1e7488"/>
<polygon points="615,929.6 627.6,931.2 628.3,603.6 615.2,602.6" fill="#2796b1" stroke="#2796b1"/>
<polygon points="615.2,602.6 628.3,603.6 632.2,601.3 619.2,600.3" fill="#2796b1" stroke="#2796b1"/>
<polygon points="662.4,935.6 666.1,931.8 666.4,892.1 662.7,895.7" fill="#1e7488" stroke="#1e7488"/>
<polygon points="649.7,934 662.4,935.6 662.7,895.7 649.9,894.2" fill="#2796b1" stroke="#2796b1"/>
<polygon points="649.9,894.2 662.7,895.7 666.4,892.1 653.6,890.6" fill="#2796b1" stroke="#2796b1"/>
<polygon points="697.6,940 701.2,936.2 701.4,916.3 697.9,920.1" fill="#1e7488" stroke="#1e7488"/>
<polygon points="684.8,938.4 697.6,940 697.9,920.1 684.9,918.5" fill="#2796b1" stroke="#2796b1"/>
<polygon points="684.9,918.5 697.9,920.1 701.4,916.3 688.5,914.7" fill="#2796b1" stroke="#2796b1"/>
<polygon points="733.2,944.5 736.6,940.7 737.2,900.6 733.8,904.3" fill="#1e7488" stroke="#1e7488"/>
<polygon points="720.2,942.9 733.2,944.5 733.8,904.3 720.7,902.7" fill="#2796b1" stroke="#2796b1"/>
<polygon points="720.7,902.7 733.8,904.3 737.2,900.6 724.2,899" fill="#2796b1" stroke="#2796b1"/>
<polygon points="769.2,949.1 772.5,945.2 777.9,655.4 774.5,658.1" fill="#1e7488" stroke="#1e7488"/>
<polygon points="756,947.4 769.2,949.1 774.5,658.1 760.9,656.9" fill="#2796b1" stroke="#2796b1"/>
<polygon points="760.9,656.9 774.5,658.1 777.9,655.4 764.3,654.3" fill="#2796b1" stroke="#2796b1"/>
<polygon points="805.6,953.7 808.7,949.7 810.1,888.9 807,892.6" fill="#1e7488" stroke="#1e7488"/>
<polygon points="792.3,952 805.6,953.7 807,892.6 793.5,891" fill="#2796b1" stroke="#2796b1"/>
<polygon points="793.5,891 807,892.6 810.1,888.9 796.7,887.4" fill="#2796b1" stroke="#2796b1"/>
<polygon points="842.4,958.3 845.3,954.3 845.8,934.1 842.9,938" fill="#1e7488" stroke="#1e7488"/>
<polygon points="828.9,956.6 842.4,958.3 842.9,938 829.4,936.3" fill="#2796b1" stroke="#2796b1"/>
<polygon points="829.4,936.3 842.9,938 845.8,934.1 832.4,932.4" fill="#2796b1" stroke="#2796b1"/>
<polygon points="313.9,904.5 319,901 318.7,893.4 313.7,896.9" fill="#4f3570" stroke="#4f3570"/>
<polygon points="302.3,903 313.9,904.5 313.7,896.9 302,895.4" fill="#664591" stroke="#664591"/>
<polygon points="302,895.4 313.7,896.9 318.7,893.4 307.1,891.9" fill="#664591" stroke="#664591"/>
<polygon points="346,908.7 351,905.1 339.5,512.6 334.3,514.5" fill="#4f3570" stroke="#4f3570"/>
<polygon points="334.3,907.2 346,908.7 334.3,514.5 322,513.7" fill="#664591" stroke="#664591"/>
<polygon points="322,513.7 334.3,514.5 339.5,512.6 327.3,511.8" fill="#664591" stroke="#664591"/>
<polygon points="366.6,911.3 378.5,912.8 383.3,909.3 371.5,907.7" fill="#3d2957"/>
<polygon points="399.3,915.5 411.3,917.1 416,913.4 404,911.9" fill="#3d2957"/>
<polygon points="444.4,921.3 449,917.7 448.8,906 444.2,909.6" fill="#4f3570" stroke="#4f3570"/>
<polygon points="432.3,919.8 444.4,921.3 444.2,909.6 432,908" fill="#664591" stroke="#664591"/>
<polygon points="432,908 444.2,909.6 448.8,906 436.7,904.5" fill="#664591" stroke="#664591"/>
<polygon points="477.9,925.6 482.3,921.9 477,555.6 472.4,557.8" fill="#4f3570" stroke="#4f3570"/>
<polygon points="465.6,924 477.9,925.6 472.4,557.8 459.6,556.9" fill="#664591" stroke="#664591"/>
<polygon points="459.6,556.9 472.4,557.8 477,555.6 464.3,554.7" fill="#664591" stroke="#664591"/>
<polygon points="511.7,930 516,926.2 515.8,906.6 511.5,910.2" fill="#4f3570" stroke="#4f3570"/>
<polygon points="499.3,928.4 511.7,930 511.5,910.2 499.1,908.7" fill="#664591" stroke="#664591"/>
<polygon points="499.1,908.7 511.5,910.2 515.8,906.6 503.4,905" fill="#664591" stroke="#664591"/>
<polygon points="545.9,934.4 550.1,930.6 550,922.7 545.8,926.4" fill="#4f3570" stroke="#4f3570"/>
<polygon points="533.3,932.7 545.9,934.4 545.8,926.4 533.3,924.8" fill="#664591" stroke="#664591"/>
<polygon points="533.3,924.8 545.8,926.4 550,922.7 537.5,921.1" fill="#664591" stroke="#664591"/>
<polygon points="580.4,938.8 584.5,935 584.4,927.1 580.4,930.8" fill="#4f3570" stroke="#4f3570"/>
<polygon points="567.8,937.2 580.4,938.8 580.4,930.8 567.7,929.2" fill="#664591" stroke="#664591"/>
<polygon points="567.7,929.2 580.4,930.8 584.4,927.1 571.8,925.5" fill="#664591" stroke="#664591"/>
<polygon points="615.3,943.3 619.2,939.4 619.6,596 615.6,598.3" fill="#4f3570" stroke="#4f3570"/>
<polygon points="602.5,941.6 615.3,943.3 615.6,598.3 602.3,597.3" fill="#664591" stroke="#664591"/>
<polygon points="602.3,597.3 615.6,598.3 619.6,596 606.4,595" fill="#664591" stroke="#664591"/>
<polygon points="650.6,947.8 654.4,943.9 654.6,903.7 650.8,907.5" fill="#4f3570" stroke="#4f3570"/>
<polygon points="637.7,946.2 650.6,947.8 650.8,907.5 637.8,905.9" fill="#664591" stroke="#664591"/>
<polygon points="637.8,905.9 650.8,907.5 654.6,903.7 641.7,902.2" fill="#664591" stroke="#664591"/>
<polygon points="686.3,952.4 689.9,948.5 690.1,928.3 686.5,932.2" fill="#4f3570" stroke="#4f3570"/>
<polygon points="673.2,950.7 686.3,952.4 686.5,932.2 673.4,930.5" fill="#664591" stroke="#664591"/>
<polygon points="673.4,930.5 686.5,932.2 690.1,928.3 677.1,926.7" fill="#664591" stroke="#664591"/>
<polygon points="722.3,957 725.8,953.1 726.1,932.8 722.6,936.7" fill="#4f3570" stroke="#4f3570"/>
<polygon points="709.1,955.3 722.3,957 722.6,936.7 709.4,935" fill="#664591" stroke="#664591"/>
<polygon points="709.4,935 722.6,936.7 726.1,932.8 712.9,931.2" fill="#664591" stroke="#664591"/>
<polygon points="758.8,961.7 762.1,957.7 768,620.3 764.6,622.9" fill="#4f3570" stroke="#4f3570"/>
<polygon points="745.4,960 758.8,961.7 764.6,622.9 750.7,621.8" fill="#664591" stroke="#664591"/>
<polygon points="750.7,621.8 764.6,622.9 768,620.3 754.2,619.3" fill="#664591" stroke="#664591"/>
<polygon points="795.7,966.5 798.8,962.4 799.7,921.4 796.5,925.3" fill="#4f3570" stroke="#4f3570"/>
<polygon points="782.2,964.7 795.7,966.5 796.5,925.3 783,923.6" fill="#664591" stroke="#664591"/>
<polygon points="783,923.6 796.5,925.3 799.7,921.4 786.2,919.8" fill="#664591" stroke="#664591"/>
<polygon points="832.9,971.2 835.9,967.1 836.5,946.6 833.4,950.6" fill="#4f3570" stroke="#4f3570"/>
<polygon points="819.3,969.5 832.9,971.2 833.4,950.6 819.8,948.9" fill="#664591" stroke="#664591"/>
<polygon points="819.8,948.9 833.4,950.6 836.5,946.6 822.9,944.9" fill="#664591" stroke="#664591"/>
<polygon points="285.9,914.4 297.6,915.9 302.8,912.3 291.1,910.8" fill="#4f6520"/>
<polygon points="330.1,920.1 335.2,916.5 323.2,531.4 317.9,533.4" fill="#658229" stroke="#658229"/>
<polygon points="318.2,918.6 330.1,920.1 317.9,533.4 305.5,532.5" fill="#83a935" stroke="#83a935"/>
<polygon points="305.5,532.5 317.9,533.4 323.2,531.4 310.9,530.5" fill="#83a935" stroke="#83a935"/>
<polygon points="362.9,924.4 367.9,920.7 367.4,901.2 362.4,904.8" fill="#658229" stroke="#658229"/>
<polygon points="350.9,922.9 362.9,924.4 362.4,904.8 350.3,903.3" fill="#83a935" stroke="#83a935"/>
<polygon points="350.3,903.3 362.4,904.8 367.4,901.2 355.4,899.7" fill="#83a935" stroke="#83a935"/>
<polygon points="384,927.2 396.1,928.8 401,925 388.9,923.5" fill="#4f6520"/>
<polygon points="429.6,933.1 434.3,929.4 433.6,893.8 428.9,897.4" fill="#658229" stroke="#658229"/>
<polygon points="417.4,931.5 429.6,933.1 428.9,897.4 416.6,895.9" fill="#83a935" stroke="#83a935"/>
<polygon points="416.6,895.9 428.9,897.4 433.6,893.8 421.4,892.3" fill="#83a935" stroke="#83a935"/>
<polygon points="463.5,937.6 468.1,933.8 463.5,647.7 458.7,650.3" fill="#658229" stroke="#658229"/>
<polygon points="451.1,935.9 463.5,937.6 458.7,650.3 445.9,649.2" fill="#83a935" stroke="#83a935"/>
<polygon points="445.9,649.2 458.7,650.3 463.5,647.7 450.8,646.6" fill="#83a935" stroke="#83a935"/>
<polygon points="497.8,942 502.2,938.2 501.2,857.9 496.7,861.4" fill="#658229" stroke="#658229"/>
<polygon points="485.2,940.4 497.8,942 496.7,861.4 484.1,859.9" fill="#83a935" stroke="#83a935"/>
<polygon points="484.1,859.9 496.7,861.4 501.2,857.9 488.6,856.5" fill="#83a935" stroke="#83a935"/>
<polygon points="532.4,946.6 536.7,942.7 536.6,938.7 532.3,942.5" fill="#658229" stroke="#658229"/>
<polygon points="519.7,944.9 532.4,946.6 532.3,942.5 519.6,940.9" fill="#83a935" stroke="#83a935"/>
<polygon points="519.6,940.9 532.3,942.5 536.6,938.7 524,937" fill="#83a935" stroke="#83a935"/>
<polygon points="567.3,951.1 571.5,947.2 571.2,866.2 567,869.7" fill="#658229" stroke="#658229"/>
<polygon points="554.5,949.5 567.3,951.1 567,869.7 554,868.2" fill="#83a935" stroke="#83a935"/>
<polygon points="554,868.2 567,869.7 571.2,866.2 558.3,864.6" fill="#83a935" stroke="#83a935"/>
<polygon points="602.7,955.8 606.7,951.8 606.7,702.8 602.5,705.7" fill="#658229" stroke="#658229"/>
<polygon points="589.7,954.1 602.7,955.8 602.5,705.7 589.2,704.5" fill="#83a935" stroke="#83a935"/>
<polygon points="589.2,704.5 602.5,705.7 606.7,702.8 593.4,701.6" fill="#83a935" stroke="#83a935"/>
<polygon points="638.4,960.4 642.3,956.4 642.7,874.6 638.7,878.2" fill="#658229" stroke="#658229"/>
<polygon points="625.4,958.7 638.4,960.4 638.7,878.2 625.5,876.7" fill="#83a935" stroke="#83a935"/>
<polygon points="625.5,876.7 638.7,878.2 642.7,874.6 629.5,873" fill="#83a935" stroke="#83a935"/>
<polygon points="674.6,965.1 678.3,961.1 678.4,957 674.6,961.1" fill="#658229" stroke="#658229"/>
<polygon points="661.3,963.4 674.6,965.1 674.6,961.1 661.4,959.3" fill="#83a935" stroke="#83a935"/>
<polygon points="661.4,959.3 674.6,961.1 678.4,957 665.2,955.3" fill="#83a935" stroke="#83a935"/>
<polygon points="711.1,969.9 714.7,965.8 717.8,713 714.1,716" fill="#658229" stroke="#658229"/>
<polygon points="697.7,968.2 711.1,969.9 714.1,716 700.3,714.7" fill="#83a935" stroke="#83a935"/>
<polygon points="700.3,714.7 714.1,716 717.8,713 704,711.8" fill="#83a935" stroke="#83a935"/>
<polygon points="748.1,974.7 751.5,970.6 752.2,929.3 748.7,933.2" fill="#658229" stroke="#658229"/>
<polygon points="734.5,973 748.1,974.7 748.7,933.2 735.1,931.5" fill="#83a935" stroke="#83a935"/>
<polygon points="735.1,931.5 748.7,933.2 752.2,929.3 738.6,927.6" fill="#83a935" stroke="#83a935"/>
<polygon points="785.4,979.6 788.7,975.4 790.4,891.9 787.1,895.8" fill="#658229" stroke="#658229"/>
<polygon points="771.7,977.8 785.4,979.6 787.1,895.8 773.3,894.1" fill="#83a935" stroke="#83a935"/>
<polygon points="773.3,894.1 787.1,895.8 790.4,891.9 776.7,890.3" fill="#83a935" stroke="#83a935"/>
<polygon points="823.2,984.6 826.3,980.3 827.4,938.6 824.2,942.6" fill="#658229" stroke="#658229"/>
<polygon points="809.4,982.8 823.2,984.6 824.2,942.6 810.3,940.9" fill="#83a935" stroke="#83a935"/>
<polygon points="810.3,940.9 824.2,942.6 827.4,938.6 813.5,936.9" fill="#83a935" stroke="#83a935"/>
<polygon points="280.9,927.6 286.2,923.9 285.5,904.2 280.1,907.9" fill="#8b1f21" stroke="#8b1f21"/>
<polygon points="269,926 280.9,927.6 280.1,907.9 268.2,906.3" fill="#b5282b" stroke="#b5282b"/>
<polygon points="268.2,906.3 280.1,907.9 285.5,904.2 273.6,902.7" fill="#b5282b" stroke="#b5282b"/>
<polygon points="313.7,931.9 319,928.2 308.2,601.8 302.7,604.1" fill="#8b1f21" stroke="#8b1f21"/>
<polygon points="301.7,930.3 313.7,931.9 302.7,604.1 290.3,603.1" fill="#b5282b" stroke="#b5282b"/>
<polygon points="290.3,603.1 302.7,604.1 308.2,601.8 295.8,600.8" fill="#b5282b" stroke="#b5282b"/>
<polygon points="347,936.3 352.1,932.6 351.5,912.7 346.4,916.5" fill="#8b1f21" stroke="#8b1f21"/>
<polygon points="334.8,934.7 347,936.3 346.4,916.5 334.2,914.9" fill="#b5282b" stroke="#b5282b"/>
<polygon points="334.2,914.9 346.4,916.5 351.5,912.7 339.3,911.2" fill="#b5282b" stroke="#b5282b"/>
<polygon points="380.5,940.8 385.5,937 384.5,897.1 379.5,900.7" fill="#8b1f21" stroke="#8b1f21"/>
<polygon points="368.2,939.2 380.5,940.8 379.5,900.7 367.1,899.2" fill="#b5282b" stroke="#b5282b"/>
<polygon points="367.1,899.2 379.5,900.7 384.5,897.1 372.2,895.5" fill="#b5282b" stroke="#b5282b"/>
<polygon points="414.5,945.3 419.3,941.4 417.6,860.9 412.7,864.4" fill="#8b1f21" stroke="#8b1f21"/>
<polygon points="402,943.7 414.5,945.3 412.7,864.4 400.1,862.9" fill="#b5282b" stroke="#b5282b"/>
<polygon points="400.1,862.9 412.7,864.4 417.6,860.9 405.1,859.4" fill="#b5282b" stroke="#b5282b"/>
<polygon points="448.7,949.9 453.5,946 449.8,740.8 445,743.8" fill="#8b1f21" stroke="#8b1f21"/>
<polygon points="436.2,948.2 448.7,949.9 445,743.8 432.1,742.5" fill="#b5282b" stroke="#b5282b"/>
<polygon points="432.1,742.5 445,743.8 449.8,740.8 437,739.5" fill="#b5282b" stroke="#b5282b"/>
<polygon points="483.4,954.5 488,950.5 487.7,930.3 483.1,934.2" fill="#8b1f21" stroke="#8b1f21"/>
<polygon points="470.7,952.8 483.4,954.5 483.1,934.2 470.4,932.5" fill="#b5282b" stroke="#b5282b"/>
<polygon points="470.4,932.5 483.1,934.2 487.7,930.3 475,928.7" fill="#b5282b" stroke="#b5282b"/>
<polygon points="518.5,959.1 522.9,955.1 521.9,852.7 517.4,856.3" fill="#8b1f21" stroke="#8b1f21"/>
<polygon points="505.6,957.4 518.5,959.1 517.4,856.3 504.4,854.8" fill="#b5282b" stroke="#b5282b"/>
<polygon points="504.4,854.8 517.4,856.3 521.9,852.7 509,851.2" fill="#b5282b" stroke="#b5282b"/>
<polygon points="553.9,963.8 558.2,959.8 557.5,836 553.1,839.5" fill="#8b1f21" stroke="#8b1f21"/>
<polygon points="540.9,962.1 553.9,963.8 553.1,839.5 539.9,838" fill="#b5282b" stroke="#b5282b"/>
<polygon points="539.9,838 553.1,839.5 557.5,836 544.4,834.5" fill="#b5282b" stroke="#b5282b"/>
<polygon points="589.7,968.6 593.9,964.5 593.5,755.2 589.2,758.3" fill="#8b1f21" stroke="#8b1f21"/>
<polygon points="576.6,966.9 589.7,968.6 589.2,758.3 575.8,757" fill="#b5282b" stroke="#b5282b"/>
<polygon points="575.8,757 589.2,758.3 593.5,755.2 580.1,753.8" fill="#b5282b" stroke="#b5282b"/>
<polygon points="625.9,973.4 629.9,969.3 630,948.7 626,952.7" fill="#8b1f21" stroke="#8b1f21"/>
<polygon points="612.6,971.7 625.9,973.4 626,952.7 612.7,951" fill="#b5282b" stroke="#b5282b"/>
<polygon points="612.7,951 626,952.7 630,948.7 616.7,947" fill="#b5282b" stroke="#b5282b"/>
<polygon points="662.5,978.3 666.4,974.1 666.8,911.7 662.9,915.6" fill="#8b1f21" stroke="#8b1f21"/>
<polygon points="649.1,976.5 662.5,978.3 662.9,915.6 649.4,913.9" fill="#b5282b" stroke="#b5282b"/>
<polygon points="649.4,913.9 662.9,915.6 666.8,911.7 653.3,910.1" fill="#b5282b" stroke="#b5282b"/>
<polygon points="699.6,983.2 703.3,979 705.5,766.4 701.8,769.7" fill="#8b1f21" stroke="#8b1f21"/>
<polygon points="686,981.4 699.6,983.2 701.8,769.7 687.9,768.3" fill="#b5282b" stroke="#b5282b"/>
<polygon points="687.9,768.3 701.8,769.7 705.5,766.4 691.7,765" fill="#b5282b" stroke="#b5282b"/>
<polygon points="737,988.2 740.5,983.9 741.8,899.7 738.2,903.6" fill="#8b1f21" stroke="#8b1f21"/>
<polygon points="723.3,986.4 737,988.2 738.2,903.6 724.4,901.9" fill="#b5282b" stroke="#b5282b"/>
<polygon points="724.4,901.9 738.2,903.6 741.8,899.7 728,898" fill="#b5282b" stroke="#b5282b"/>
<polygon points="774.9,993.2 778.3,988.9 778.7,967.9 775.3,972.1" fill="#8b1f21" stroke="#8b1f21"/>
<polygon points="761,991.4 774.9,993.2 775.3,972.1 761.4,970.3" fill="#b5282b" stroke="#b5282b"/>
<polygon points="761.4,970.3 775.3,972.1 778.7,967.9 764.8,966.1" fill="#b5282b" stroke="#b5282b"/>
<polygon points="813.2,998.3 816.4,993.9 818.9,887.3 815.7,891.2" fill="#8b1f21" stroke="#8b1f21"/>
<polygon points="799.1,996.4 813.2,998.3 815.7,891.2 801.5,889.5" fill="#b5282b" stroke="#b5282b"/>
<polygon points="801.5,889.5 815.7,891.2 818.9,887.3 804.8,885.6" fill="#b5282b" stroke="#b5282b"/>
<polygon points="263.6,939.6 269.1,935.8 268.7,923.8 263.2,927.6" fill="#234f84" stroke="#234f84"/>
<polygon points="251.6,937.9 263.6,939.6 263.2,927.6 251.1,926" fill="#2d66ab" stroke="#2d66ab"/>
<polygon points="251.1,926 263.2,927.6 268.7,923.8 256.7,922.2" fill="#2d66ab" stroke="#2d66ab"/>
<polygon points="296.9,944.1 302.3,940.2 289.2,566.2 283.5,568.4" fill="#234f84" stroke="#234f84"/>
<polygon points="284.7,942.4 296.9,944.1 283.5,568.4 270.8,567.5" fill="#2d66ab" stroke="#2d66ab"/>
<polygon points="270.8,567.5 283.5,568.4 289.2,566.2 276.6,565.3" fill="#2d66ab" stroke="#2d66ab"/>
<polygon points="318.2,946.9 330.5,948.6 335.8,944.7 323.5,943.1" fill="#1b3d67"/>
<polygon points="364.5,953.2 369.6,949.3 368.8,921 363.7,924.8" fill="#234f84" stroke="#234f84"/>
<polygon points="352,951.5 364.5,953.2 363.7,924.8 351.2,923.2" fill="#2d66ab" stroke="#2d66ab"/>
<polygon points="351.2,923.2 363.7,924.8 368.8,921 356.4,919.4" fill="#2d66ab" stroke="#2d66ab"/>
<polygon points="398.8,957.8 403.8,953.9 403.1,921.4 398,925.2" fill="#234f84" stroke="#234f84"/>
<polygon points="386.2,956.1 398.8,957.8 398,925.2 385.4,923.6" fill="#2d66ab" stroke="#2d66ab"/>
<polygon points="385.4,923.6 398,925.2 403.1,921.4 390.5,919.8" fill="#2d66ab" stroke="#2d66ab"/>
<polygon points="433.5,962.5 438.4,958.5 431.4,598.9 426.3,601.3" fill="#234f84" stroke="#234f84"/>
<polygon points="420.8,960.8 433.5,962.5 426.3,601.3 413,600.3" fill="#2d66ab" stroke="#2d66ab"/>
<polygon points="413,600.3 426.3,601.3 431.4,598.9 418.2,597.9" fill="#2d66ab" stroke="#2d66ab"/>
<polygon points="455.8,965.5 468.6,967.3 473.4,963.2 460.6,961.5" fill="#1b3d67"/>
<polygon points="504.1,972.1 508.7,968 508.4,939.1 503.8,943.1" fill="#234f84" stroke="#234f84"/>
<polygon points="491.1,970.3 504.1,972.1 503.8,943.1 490.7,941.4" fill="#2d66ab" stroke="#2d66ab"/>
<polygon points="490.7,941.4 503.8,943.1 508.4,939.1 495.4,937.5" fill="#2d66ab" stroke="#2d66ab"/>
<polygon points="540,976.9 544.5,972.8 544,910.5 539.5,914.4" fill="#234f84" stroke="#234f84"/>
<polygon points="526.9,975.2 540,976.9 539.5,914.4 526.3,912.7" fill="#2d66ab" stroke="#2d66ab"/>
<polygon points="526.3,912.7 539.5,914.4 544,910.5 530.8,908.8" fill="#2d66ab" stroke="#2d66ab"/>
<polygon points="576.3,981.8 580.6,977.6 579.5,655.3 575,658" fill="#234f84" stroke="#234f84"/>
<polygon points="563,980 576.3,981.8 575,658 561.3,656.8" fill="#2d66ab" stroke="#2d66ab"/>
<polygon points="561.3,656.8 575,658 579.5,655.3 565.8,654.1" fill="#2d66ab" stroke="#2d66ab"/>
<polygon points="599.6,985 613,986.8 617.1,982.5 603.7,980.7" fill="#1b3d67"/>
<polygon points="650.1,991.8 654.1,987.5 654.3,945.4 650.3,949.6" fill="#234f84" stroke="#234f84"/>
<polygon points="636.5,990 650.1,991.8 650.3,949.6 636.6,947.8" fill="#2d66ab" stroke="#2d66ab"/>
<polygon points="636.6,947.8 650.3,949.6 654.3,945.4 640.7,943.7" fill="#2d66ab" stroke="#2d66ab"/>
<polygon points="687.6,996.9 691.5,992.5 691.9,950.2 688,954.4" fill="#234f84" stroke="#234f84"/>
<polygon points="673.9,995 687.6,996.9 688,954.4 674.2,952.6" fill="#2d66ab" stroke="#2d66ab"/>
<polygon points="674.2,952.6 688,954.4 691.9,950.2 678.1,948.5" fill="#2d66ab" stroke="#2d66ab"/>
<polygon points="725.6,1002 729.3,997.6 733.4,691.1 729.7,694.1" fill="#234f84" stroke="#234f84"/>
<polygon points="711.7,1000.1 725.6,1002 729.7,694.1 715.3,692.8" fill="#2d66ab" stroke="#2d66ab"/>
<polygon points="715.3,692.8 729.7,694.1 733.4,691.1 719.1,689.8" fill="#2d66ab" stroke="#2d66ab"/>
<polygon points="764,1007.2 767.5,1002.8 767.9,981.5 764.4,985.8" fill="#234f84" stroke="#234f84"/>
<polygon points="749.9,1005.3 764,1007.2 764.4,985.8 750.3,983.9" fill="#2d66ab" stroke="#2d66ab"/>
<polygon points="750.3,983.9 764.4,985.8 767.9,981.5 753.8,979.6" fill="#2d66ab" stroke="#2d66ab"/>
<polygon points="802.8,1012.5 806.1,1008 807.6,943.4 804.3,947.6" fill="#234f84" stroke="#234f84"/>
<polygon points="788.6,1010.5 802.8,1012.5 804.3,947.6 789.9,945.8" fill="#2d66ab" stroke="#2d66ab"/>
<polygon points="789.9,945.8 804.3,947.6 807.6,943.4 793.3,941.6" fill="#2d66ab" stroke="#2d66ab"/>
</g>
<polyline points="233.9,940.5 810.3,1018.9 970.3,797.5" fill="none" stroke="#8c8c8c" stroke-width="0.9"/>
<line x1="233.9" x2="233.9" y1="940.5" y2="1050.5" stroke="#8c8c8c" stroke-width="0.9"/>
<line x1="267" x2="267" y1="945" y2="1029" stroke="#8c8c8c" stroke-width="0.9"/>
<line x1="300.5" x2="300.5" y1="949.6" y2="1033.6" stroke="#8c8c8c" stroke-width="0.9"/>
<line x1="334.3" x2="334.3" y1="954.2" y2="1038.2" stroke="#8c8c8c" stroke-width="0.9"/>
<line x1="368.6" x2="368.6" y1="958.8" y2="1068.8" stroke="#8c8c8c" stroke-width="0.9"/>
<line x1="403.1" x2="403.1" y1="963.6" y2="1047.6" stroke="#8c8c8c" stroke-width="0.9"/>
<line x1="438.1" x2="438.1" y1="968.3" y2="1052.3" stroke="#8c8c8c" stroke-width="0.9"/>
<line x1="473.5" x2="473.5" y1="973.1" y2="1057.1" stroke="#8c8c8c" stroke-width="0.9"/>
<line x1="509.2" x2="509.2" y1="978" y2="1088" stroke="#8c8c8c" stroke-width="0.9"/>
<line x1="545.4" x2="545.4" y1="982.9" y2="1066.9" stroke="#8c8c8c" stroke-width="0.9"/>
<line x1="582" x2="582" y1="987.9" y2="1071.9" stroke="#8c8c8c" stroke-width="0.9"/>
<line x1="618.9" x2="618.9" y1="992.9" y2="1076.9" stroke="#8c8c8c" stroke-width="0.9"/>
<line x1="656.3" x2="656.3" y1="998" y2="1108" stroke="#8c8c8c" stroke-width="0.9"/>
<line x1="694.2" x2="694.2" y1="1003.1" y2="1087.1" stroke="#8c8c8c" stroke-width="0.9"/>
<line x1="732.4" x2="732.4" y1="1008.3" y2="1092.3" stroke="#8c8c8c" stroke-width="0.9"/>
<line x1="771.1" x2="771.1" y1="1013.6" y2="1097.6" stroke="#8c8c8c" stroke-width="0.9"/>
<line x1="810.3" x2="810.3" y1="1018.9" y2="1128.9" stroke="#8c8c8c" stroke-width="0.9"/>
<text transform="translate(255.6,951.8) rotate(-90)" font-family='"Liberation Sans", sans-serif' font-size="11.5" fill="#fff" text-anchor="end">Failed</text>
<text transform="translate(288.9,956.3) rotate(-90)" font-family='"Liberation Sans", sans-serif' font-size="11.5" fill="#fff" text-anchor="end">Passed</text>
<text transform="translate(322.6,960.9) rotate(-90)" font-family='"Liberation Sans", sans-serif' font-size="11.5" fill="#fff" text-anchor="end">Not Run</text>
<text transform="translate(356.6,965.5) rotate(-90)" font-family='"Liberation Sans", sans-serif' font-size="11.5" fill="#fff" text-anchor="end" textLength="74" lengthAdjust="spacingAndGlyphs">To be Written</text>
<text transform="translate(391,970.2) rotate(-90)" font-family='"Liberation Sans", sans-serif' font-size="11.5" fill="#fff" text-anchor="end">Failed</text>
<text transform="translate(425.8,974.9) rotate(-90)" font-family='"Liberation Sans", sans-serif' font-size="11.5" fill="#fff" text-anchor="end">Passed</text>
<text transform="translate(461,979.7) rotate(-90)" font-family='"Liberation Sans", sans-serif' font-size="11.5" fill="#fff" text-anchor="end">Not Run</text>
<text transform="translate(496.5,984.5) rotate(-90)" font-family='"Liberation Sans", sans-serif' font-size="11.5" fill="#fff" text-anchor="end" textLength="74" lengthAdjust="spacingAndGlyphs">To be Written</text>
<text transform="translate(532.5,989.4) rotate(-90)" font-family='"Liberation Sans", sans-serif' font-size="11.5" fill="#fff" text-anchor="end">Failed</text>
<text transform="translate(568.8,994.4) rotate(-90)" font-family='"Liberation Sans", sans-serif' font-size="11.5" fill="#fff" text-anchor="end">Passed</text>
<text transform="translate(605.6,999.4) rotate(-90)" font-family='"Liberation Sans", sans-serif' font-size="11.5" fill="#fff" text-anchor="end">Not Run</text>
<text transform="translate(642.8,1004.4) rotate(-90)" font-family='"Liberation Sans", sans-serif' font-size="11.5" fill="#fff" text-anchor="end" textLength="74" lengthAdjust="spacingAndGlyphs">To be Written</text>
<text transform="translate(680.4,1009.6) rotate(-90)" font-family='"Liberation Sans", sans-serif' font-size="11.5" fill="#fff" text-anchor="end">Failed</text>
<text transform="translate(718.4,1014.7) rotate(-90)" font-family='"Liberation Sans", sans-serif' font-size="11.5" fill="#fff" text-anchor="end">Passed</text>
<text transform="translate(756.9,1020) rotate(-90)" font-family='"Liberation Sans", sans-serif' font-size="11.5" fill="#fff" text-anchor="end">Not Run</text>
<text transform="translate(795.9,1025.3) rotate(-90)" font-family='"Liberation Sans", sans-serif' font-size="11.5" fill="#fff" text-anchor="end" textLength="74" lengthAdjust="spacingAndGlyphs">To be Written</text>
<text x="301.4" y="1058.5" font-family='"Liberation Sans", sans-serif' font-size="11.5" fill="#fff" text-anchor="middle">Rel 4</text>
<text x="438.4" y="1076.5" font-family='"Liberation Sans", sans-serif' font-size="11.5" fill="#fff" text-anchor="middle">Rel 3</text>
<text x="582" y="1095.5" font-family='"Liberation Sans", sans-serif' font-size="11.5" fill="#fff" text-anchor="middle">Rel 2</text>
<text x="732" y="1115.5" font-family='"Liberation Sans", sans-serif' font-size="11.5" fill="#fff" text-anchor="middle">Rel 1</text>
<line x1="808.3" x2="814.3" y1="1018.9" y2="1018.9" stroke="#8c8c8c" stroke-width="0.9"/>
<line x1="818.7" x2="824.7" y1="1004.6" y2="1004.6" stroke="#8c8c8c" stroke-width="0.9"/>
<line x1="828.7" x2="834.7" y1="990.7" y2="990.7" stroke="#8c8c8c" stroke-width="0.9"/>
<line x1="838.5" x2="844.5" y1="977.2" y2="977.2" stroke="#8c8c8c" stroke-width="0.9"/>
<line x1="847.9" x2="853.9" y1="964.1" y2="964.1" stroke="#8c8c8c" stroke-width="0.9"/>
<line x1="857.1" x2="863.1" y1="951.4" y2="951.4" stroke="#8c8c8c" stroke-width="0.9"/>
<line x1="866" x2="872" y1="939" y2="939" stroke="#8c8c8c" stroke-width="0.9"/>
<line x1="874.7" x2="880.7" y1="927.1" y2="927.1" stroke="#8c8c8c" stroke-width="0.9"/>
<line x1="883.1" x2="889.1" y1="915.4" y2="915.4" stroke="#8c8c8c" stroke-width="0.9"/>
<line x1="891.3" x2="897.3" y1="904.1" y2="904.1" stroke="#8c8c8c" stroke-width="0.9"/>
<line x1="899.3" x2="905.3" y1="893.1" y2="893.1" stroke="#8c8c8c" stroke-width="0.9"/>
<line x1="907" x2="913" y1="882.4" y2="882.4" stroke="#8c8c8c" stroke-width="0.9"/>
<line x1="914.6" x2="920.6" y1="871.9" y2="871.9" stroke="#8c8c8c" stroke-width="0.9"/>
<line x1="921.9" x2="927.9" y1="861.8" y2="861.8" stroke="#8c8c8c" stroke-width="0.9"/>
<line x1="929.1" x2="935.1" y1="851.9" y2="851.9" stroke="#8c8c8c" stroke-width="0.9"/>
<line x1="936" x2="942" y1="842.2" y2="842.2" stroke="#8c8c8c" stroke-width="0.9"/>
<line x1="942.8" x2="948.8" y1="832.8" y2="832.8" stroke="#8c8c8c" stroke-width="0.9"/>
<line x1="949.4" x2="955.4" y1="823.7" y2="823.7" stroke="#8c8c8c" stroke-width="0.9"/>
<line x1="955.9" x2="961.9" y1="814.7" y2="814.7" stroke="#8c8c8c" stroke-width="0.9"/>
<line x1="962.2" x2="968.2" y1="806" y2="806" stroke="#8c8c8c" stroke-width="0.9"/>
<line x1="968.3" x2="974.3" y1="797.5" y2="797.5" stroke="#8c8c8c" stroke-width="0.9"/>
<text x="828.1" y="1015.5" font-family='"Liberation Sans", sans-serif' font-size="12.15" fill="#fff" textLength="158.6" lengthAdjust="spacingAndGlyphs">1. User Experience / Usability</text>
<text x="838" y="1001.4" font-family='"Liberation Sans", sans-serif' font-size="12.15" fill="#fff" textLength="226.3" lengthAdjust="spacingAndGlyphs">2. Finding Content via Service Information</text>
<text x="847.6" y="987.7" font-family='"Liberation Sans", sans-serif' font-size="12.15" fill="#fff" textLength="186.6" lengthAdjust="spacingAndGlyphs">3. Finding Content via On-Demand</text>
<text x="856.9" y="974.4" font-family='"Liberation Sans", sans-serif' font-size="12.15" fill="#fff">4. Live TV Viewing</text>
<text x="865.9" y="961.5" font-family='"Liberation Sans", sans-serif' font-size="12.15" fill="#fff" textLength="204.4" lengthAdjust="spacingAndGlyphs">5. Booking Recordings and Reminders</text>
<text x="874.6" y="949" font-family='"Liberation Sans", sans-serif' font-size="12.15" fill="#fff" textLength="251.4" lengthAdjust="spacingAndGlyphs">6. Broadcast Recording - Schedule and Current</text>
<text x="883.4" y="936.8" font-family='"Liberation Sans", sans-serif' font-size="12.15" fill="#fff">7. PushVOD</text>
<text x="892" y="925" font-family='"Liberation Sans", sans-serif' font-size="12.15" fill="#fff" textLength="167.2" lengthAdjust="spacingAndGlyphs">8. IP On-Demand Downloading</text>
<text x="900.3" y="913.5" font-family='"Liberation Sans", sans-serif' font-size="12.15" fill="#fff" textLength="119.9" lengthAdjust="spacingAndGlyphs">9. Purchasing Content</text>
<text x="908.3" y="902.3" font-family='"Liberation Sans", sans-serif' font-size="12.15" fill="#fff" textLength="218.8" lengthAdjust="spacingAndGlyphs">10. Parental Control &amp; PIN Management</text>
<text x="916.2" y="891.5" font-family='"Liberation Sans", sans-serif' font-size="12.15" fill="#fff" textLength="241" lengthAdjust="spacingAndGlyphs">11. Using the Planner / Playlist Management</text>
<text x="923.8" y="880.9" font-family='"Liberation Sans", sans-serif' font-size="12.15" fill="#fff" textLength="127.6" lengthAdjust="spacingAndGlyphs">12. Live TV Trick Modes</text>
<text x="931.3" y="870.6" font-family='"Liberation Sans", sans-serif' font-size="12.15" fill="#fff" textLength="136.1" lengthAdjust="spacingAndGlyphs">13. Playback Trick Modes</text>
<text x="938.5" y="860.6" font-family='"Liberation Sans", sans-serif' font-size="12.15" fill="#fff" textLength="223.2" lengthAdjust="spacingAndGlyphs">14. Managing Resources (Tuner Conflicts)</text>
<text x="945.6" y="850.8" font-family='"Liberation Sans", sans-serif' font-size="12.15" fill="#fff" textLength="147.7" lengthAdjust="spacingAndGlyphs">15. Interactive Applications</text>
<text x="952.4" y="841.3" font-family='"Liberation Sans", sans-serif' font-size="12.15" fill="#fff" textLength="116.8" lengthAdjust="spacingAndGlyphs">16. Usage Monitoring</text>
<text x="959.1" y="832" font-family='"Liberation Sans", sans-serif' font-size="12.15" fill="#fff" textLength="122.3" lengthAdjust="spacingAndGlyphs">17. System Operations</text>
<text x="965.7" y="823" font-family='"Liberation Sans", sans-serif' font-size="12.15" fill="#fff" textLength="163" lengthAdjust="spacingAndGlyphs">18. Diagnostics / Health Check</text>
<text x="972.1" y="814.2" font-family='"Liberation Sans", sans-serif' font-size="12.15" fill="#fff" textLength="81" lengthAdjust="spacingAndGlyphs">19. CA Callback</text>
<text x="975.3" y="805.6" font-family='"Liberation Sans", sans-serif' font-size="12.15" fill="#fff" textLength="195.3" lengthAdjust="spacingAndGlyphs">20. Internet Connectivity / Browsing</text>
<text x="740.5" y="439" font-family='"Liberation Sans", sans-serif' font-weight="bold" font-size="21.5" fill="#fff" text-anchor="middle" textLength="309" lengthAdjust="spacingAndGlyphs">Feature Completion by Release</text>
<rect x="1198" y="437.3" width="7.5" height="7.5" fill="#2d66ab"/>
<polygon points="1198,437.3 1205.5,437.3 1201.75,441.1" fill="#96b2d5"/>
<polygon points="1205.5,437.3 1205.5,444.8 1198,444.8 1199.5,443.3 1204,443.3 1204,439" fill="#245289"/>
<text x="1208.5" y="444.8" font-family='"Liberation Sans", sans-serif' font-size="12.6" fill="#fff">1. User Experience / Usability</text>
<rect x="1198" y="467.8" width="7.5" height="7.5" fill="#b5282b"/>
<polygon points="1198,467.8 1205.5,467.8 1201.75,471.6" fill="#da9495"/>
<polygon points="1205.5,467.8 1205.5,475.3 1198,475.3 1199.5,473.8 1204,473.8 1204,469.5" fill="#912022"/>
<text x="1208.5" y="475.3" font-family='"Liberation Sans", sans-serif' font-size="12.6" fill="#fff">2. Finding Content via Service</text>
<text x="1208.5" y="492.3" font-family='"Liberation Sans", sans-serif' font-size="12.6" fill="#fff">Information</text>
<rect x="1198" y="498.4" width="7.5" height="7.5" fill="#83a935"/>
<polygon points="1198,498.4 1205.5,498.4 1201.75,502.2" fill="#c1d49a"/>
<polygon points="1205.5,498.4 1205.5,505.9 1198,505.9 1199.5,504.4 1204,504.4 1204,500.1" fill="#69872a"/>
<text x="1208.5" y="505.9" font-family='"Liberation Sans", sans-serif' font-size="12.6" fill="#fff">3. Finding Content via On-Demand</text>
<rect x="1198" y="528.9" width="7.5" height="7.5" fill="#664591"/>
<polygon points="1198,528.9 1205.5,528.9 1201.75,532.7" fill="#b2a2c8"/>
<polygon points="1205.5,528.9 1205.5,536.4 1198,536.4 1199.5,534.9 1204,534.9 1204,530.6" fill="#523774"/>
<text x="1208.5" y="536.4" font-family='"Liberation Sans", sans-serif' font-size="12.6" fill="#fff">4. Live TV Viewing</text>
<rect x="1198" y="559.4" width="7.5" height="7.5" fill="#2796b1"/>
<polygon points="1198,559.4 1205.5,559.4 1201.75,563.2" fill="#93cad8"/>
<polygon points="1205.5,559.4 1205.5,566.9 1198,566.9 1199.5,565.4 1204,565.4 1204,561.1" fill="#1f788e"/>
<text x="1208.5" y="566.9" font-family='"Liberation Sans", sans-serif' font-size="12.6" fill="#fff">5. Booking Recordings and Reminders</text>
<rect x="1198" y="589.9" width="7.5" height="7.5" fill="#df7d1b"/>
<polygon points="1198,589.9 1205.5,589.9 1201.75,593.8" fill="#efbe8d"/>
<polygon points="1205.5,589.9 1205.5,597.4 1198,597.4 1199.5,595.9 1204,595.9 1204,591.6" fill="#b26416"/>
<text x="1208.5" y="597.4" font-family='"Liberation Sans", sans-serif' font-size="12.6" fill="#fff">6. Broadcast Recording - Schedule and</text>
<text x="1208.5" y="614.4" font-family='"Liberation Sans", sans-serif' font-size="12.6" fill="#fff">Current</text>
<rect x="1198" y="620.5" width="7.5" height="7.5" fill="#3f7dcc"/>
<polygon points="1198,620.5 1205.5,620.5 1201.75,624.3" fill="#9fbee6"/>
<polygon points="1205.5,620.5 1205.5,628 1198,628 1199.5,626.5 1204,626.5 1204,622.2" fill="#3264a3"/>
<text x="1208.5" y="628" font-family='"Liberation Sans", sans-serif' font-size="12.6" fill="#fff">7. PushVOD</text>
<rect x="1198" y="651" width="7.5" height="7.5" fill="#c93535"/>
<polygon points="1198,651 1205.5,651 1201.75,654.8" fill="#e49a9a"/>
<polygon points="1205.5,651 1205.5,658.5 1198,658.5 1199.5,657 1204,657 1204,652.7" fill="#a12a2a"/>
<text x="1208.5" y="658.5" font-family='"Liberation Sans", sans-serif' font-size="12.6" fill="#fff">8. IP On-Demand Downloading</text>
<rect x="1198" y="681.5" width="7.5" height="7.5" fill="#90b93a"/>
<polygon points="1198,681.5 1205.5,681.5 1201.75,685.3" fill="#c8dc9c"/>
<polygon points="1205.5,681.5 1205.5,689 1198,689 1199.5,687.5 1204,687.5 1204,683.2" fill="#73942e"/>
<text x="1208.5" y="689" font-family='"Liberation Sans", sans-serif' font-size="12.6" fill="#fff">9. Purchasing Content</text>
<rect x="1198" y="712.1" width="7.5" height="7.5" fill="#7550a2"/>
<polygon points="1198,712.1 1205.5,712.1 1201.75,715.9" fill="#baa8d0"/>
<polygon points="1205.5,712.1 1205.5,719.6 1198,719.6 1199.5,718.1 1204,718.1 1204,713.8" fill="#5e4082"/>
<text x="1208.5" y="719.6" font-family='"Liberation Sans", sans-serif' font-size="12.6" fill="#fff">10. Parental Control &amp; PIN Management</text>
<rect x="1198" y="742.6" width="7.5" height="7.5" fill="#2ca7c8"/>
<polygon points="1198,742.6 1205.5,742.6 1201.75,746.4" fill="#96d3e4"/>
<polygon points="1205.5,742.6 1205.5,750.1 1198,750.1 1199.5,748.6 1204,748.6 1204,744.3" fill="#2386a0"/>
<text x="1208.5" y="750.1" font-family='"Liberation Sans", sans-serif' font-size="12.6" fill="#fff">11. Using the Planner / Playlist</text>
<text x="1208.5" y="767.1" font-family='"Liberation Sans", sans-serif' font-size="12.6" fill="#fff">Management</text>
<rect x="1198" y="773.1" width="7.5" height="7.5" fill="#f5851c"/>
<polygon points="1198,773.1 1205.5,773.1 1201.75,776.9" fill="#fac28e"/>
<polygon points="1205.5,773.1 1205.5,780.6 1198,780.6 1199.5,779.1 1204,779.1 1204,774.8" fill="#c46a16"/>
<text x="1208.5" y="780.6" font-family='"Liberation Sans", sans-serif' font-size="12.6" fill="#fff">12. Live TV Trick Modes</text>
<rect x="1198" y="803.7" width="7.5" height="7.5" fill="#759cd8"/>
<polygon points="1198,803.7 1205.5,803.7 1201.75,807.5" fill="#baceec"/>
<polygon points="1205.5,803.7 1205.5,811.2 1198,811.2 1199.5,809.7 1204,809.7 1204,805.4" fill="#5e7dad"/>
<text x="1208.5" y="811.2" font-family='"Liberation Sans", sans-serif' font-size="12.6" fill="#fff">13. Playback Trick Modes</text>
<rect x="1198" y="834.2" width="7.5" height="7.5" fill="#d96f6f"/>
<polygon points="1198,834.2 1205.5,834.2 1201.75,838" fill="#ecb7b7"/>
<polygon points="1205.5,834.2 1205.5,841.7 1198,841.7 1199.5,840.2 1204,840.2 1204,835.9" fill="#ae5959"/>
<text x="1208.5" y="841.7" font-family='"Liberation Sans", sans-serif' font-size="12.6" fill="#fff">14. Managing Resources (Tuner Conflicts)</text>
<rect x="1198" y="864.7" width="7.5" height="7.5" fill="#acd068"/>
<polygon points="1198,864.7 1205.5,864.7 1201.75,868.5" fill="#d6e8b4"/>
<polygon points="1205.5,864.7 1205.5,872.2 1198,872.2 1199.5,870.7 1204,870.7 1204,866.4" fill="#8aa653"/>
<text x="1208.5" y="872.2" font-family='"Liberation Sans", sans-serif' font-size="12.6" fill="#fff">15. Interactive Applications</text>
<rect x="1198" y="895.2" width="7.5" height="7.5" fill="#9d84c4"/>
<polygon points="1198,895.2 1205.5,895.2 1201.75,899.1" fill="#cec2e2"/>
<polygon points="1205.5,895.2 1205.5,902.8 1198,902.8 1199.5,901.2 1204,901.2 1204,897" fill="#7e6a9d"/>
<text x="1208.5" y="902.8" font-family='"Liberation Sans", sans-serif' font-size="12.6" fill="#fff">16. Usage Monitoring</text>
<rect x="1198" y="925.8" width="7.5" height="7.5" fill="#66bcda"/>
<polygon points="1198,925.8 1205.5,925.8 1201.75,929.6" fill="#b2deec"/>
<polygon points="1205.5,925.8 1205.5,933.3 1198,933.3 1199.5,931.8 1204,931.8 1204,927.5" fill="#5296ae"/>
<text x="1208.5" y="933.3" font-family='"Liberation Sans", sans-serif' font-size="12.6" fill="#fff">17. System Operations</text>
<rect x="1198" y="956.3" width="7.5" height="7.5" fill="#fba25a"/>
<polygon points="1198,956.3 1205.5,956.3 1201.75,960.1" fill="#fdd0ac"/>
<polygon points="1205.5,956.3 1205.5,963.8 1198,963.8 1199.5,962.3 1204,962.3 1204,958" fill="#c98248"/>
<text x="1208.5" y="963.8" font-family='"Liberation Sans", sans-serif' font-size="12.6" fill="#fff">18. Diagnostics / Health Check</text>
<rect x="1198" y="986.8" width="7.5" height="7.5" fill="#adbee3"/>
<polygon points="1198,986.8 1205.5,986.8 1201.75,990.6" fill="#d6def1"/>
<polygon points="1205.5,986.8 1205.5,994.3 1198,994.3 1199.5,992.8 1204,992.8 1204,988.5" fill="#8a98b6"/>
<text x="1208.5" y="994.3" font-family='"Liberation Sans", sans-serif' font-size="12.6" fill="#fff">19. CA Callback</text>
<rect x="1198" y="1017.4" width="7.5" height="7.5" fill="#e6abab"/>
<polygon points="1198,1017.4 1205.5,1017.4 1201.75,1021.2" fill="#f2d5d5"/>
<polygon points="1205.5,1017.4 1205.5,1024.9 1198,1024.9 1199.5,1023.4 1204,1023.4 1204,1019.1" fill="#b88989"/>
<text x="1208.5" y="1024.9" font-family='"Liberation Sans", sans-serif' font-size="12.6" fill="#fff">20. Internet Connectivity / Browsing</text>
<rect x="808.5" y="756.5" width="280" height="34" rx="3" ry="3" fill="url(#ttg)" stroke="#767676" stroke-width="1"/>
<text x="814" y="770" font-family='"Liberation Sans", sans-serif' font-size="11.5" fill="#4c4c4c">Series "9. Purchasing Content" Point "Rel 1 Passed"</text>
<text x="814" y="785" font-family='"Liberation Sans", sans-serif' font-size="11.5" fill="#4c4c4c">Value: 90%</text>
<rect x="0" y="0" width="1474" height="1" fill="#5a5a5a"/>
</svg></body></html>
